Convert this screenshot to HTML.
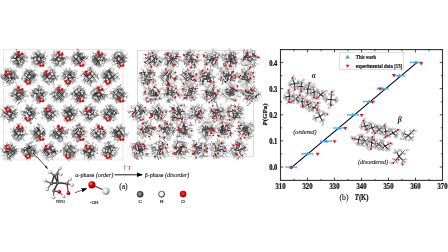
<!DOCTYPE html>
<html><head><meta charset="utf-8"><title>NPG phase transition</title>
<style>html,body{margin:0;padding:0;background:#fff;overflow:hidden}svg{display:block}</style>
</head><body>
<svg width="448" height="252" viewBox="0 0 448 252" font-family="Liberation Serif, serif">
<defs>
<radialGradient id="gC" cx="0.45" cy="0.45" r="0.6"><stop offset="0" stop-color="#b0b0b0"/><stop offset="0.5" stop-color="#606060"/><stop offset="1" stop-color="#141414"/></radialGradient>
<radialGradient id="gH2" cx="0.45" cy="0.42" r="0.6"><stop offset="0" stop-color="#ffffff"/><stop offset="0.55" stop-color="#f0f0f0"/><stop offset="0.8" stop-color="#9a9a9a"/><stop offset="1" stop-color="#303030"/></radialGradient>
<radialGradient id="gO2" cx="0.45" cy="0.42" r="0.6"><stop offset="0" stop-color="#ff3030"/><stop offset="0.6" stop-color="#e00000"/><stop offset="1" stop-color="#700000"/></radialGradient>
<radialGradient id="gH" cx="0.38" cy="0.38" r="0.68"><stop offset="0" stop-color="#ffffff"/><stop offset="0.5" stop-color="#dadada"/><stop offset="1" stop-color="#606060"/></radialGradient>
<radialGradient id="gO" cx="0.35" cy="0.35" r="0.7"><stop offset="0" stop-color="#ff8080"/><stop offset="0.4" stop-color="#e00000"/><stop offset="1" stop-color="#800000"/></radialGradient>
<marker id="ah" markerWidth="6" markerHeight="6" refX="5" refY="3" orient="auto" markerUnits="userSpaceOnUse"><path d="M0,0.8 L6,3 L0,5.2 Z" fill="#000"/></marker>
<marker id="ah2" markerWidth="4" markerHeight="4" refX="3.5" refY="2" orient="auto" markerUnits="userSpaceOnUse"><path d="M0,0.9 L4,2 L0,3.1 Z" fill="#111"/></marker>
</defs><rect width="448" height="252" fill="#fff"/><rect x="3.5" y="49.5" width="119.4" height="110.4" fill="none" stroke="#b0b0b0" stroke-width="0.6" stroke-dasharray="1 1"/>
<rect x="137.3" y="50.8" width="116.2" height="105.4" fill="none" stroke="#c0c0c0" stroke-width="0.6"/>
<path fill="#a8a8a8" d="M25.4 59.1L24.4 63.7L21.3 64.6L16.2 65.2L12.8 64.5L11.2 59.1L13 54.5L15.9 52L21.6 52.2L24.9 54.9ZM46 59.5L44.3 64.7L41.2 65.2L37.3 65.5L32.4 63.4L32.5 58.2L34 54.3L36.4 51.5L39.9 52.7L44.3 55.5ZM64.9 59.6L65.1 63.8L60.8 65.3L56.5 66.7L53.7 63.5L51.7 58.3L54 54L57.6 51.8L61.6 53L64.4 55.7ZM85.8 59.1L84.1 63.5L82 66.3L76 65.7L73.6 62.9L71.6 58.1L72.4 54.8L77.7 52.1L81.8 52.4L84.3 53.8ZM106.4 58.7L105.2 63.4L101.5 65.7L96.6 66.5L92.2 63.4L91.8 59.4L94.2 55.3L96.1 52.7L100.4 51.7L103.9 55.4ZM126.4 57.9L123.7 63.6L120.5 65L117.2 65.1L114.3 63.3L111.6 58.2L113.5 54.5L115.3 51.5L121 51L123.5 54.1ZM17.2 76.1L15.6 80.9L12.6 84.1L8.5 82.7L4.3 81.1L1.8 76.6L5.1 72.5L7.9 68.5L11.1 69.1L15.7 71.5ZM36.7 75.9L34.5 80.7L32.2 83.3L26.9 83.7L23.1 81.1L22.8 75.9L24 71.5L27.3 70.3L31.5 68.9L35 72.9ZM55.8 77.3L55.7 80L52 82.7L47.8 82.7L43.9 81.6L42 76.7L43.1 72.5L47.6 70.1L52.1 70.5L55.2 71.2ZM75.9 75.7L75.7 80.1L72.1 83.8L67.8 84.2L64.2 81.4L62 75.7L64.3 71.3L67.3 69.5L72.3 70.3L74.8 73.2ZM96.6 77.6L95.5 80.7L91.1 84.6L86.8 82.6L84.5 81.3L83.1 76.5L83.4 72.5L88.2 70L92.6 69.8L95.1 72.9ZM116.2 76.8L114.8 80.6L110.9 83.7L108 84.4L104 82.3L101.8 77.7L102.8 72.3L108 70.1L110.6 70.3L114.4 72.9ZM26 94.2L23.7 98.4L21.2 100.1L16.2 101.4L14 98.2L11 93.9L13.8 89.6L16 88.3L20.8 88.5L24.3 90.1ZM46.2 94.6L44.2 98.5L40.1 102.6L36 101.7L33 98.7L32.3 94.8L33.4 89.8L36.9 87.4L40.9 88L43.8 89.9ZM66.1 93.4L64 99.8L60.6 102.8L56.1 100.7L53.2 98.6L52.1 94.5L53.1 91.2L55.4 87.1L61.1 88.6L65.2 89.9ZM86.1 95.4L84.7 98L80.7 102.3L75.9 101.4L73.1 99.7L71.8 95.3L74 89.6L77.1 88L81.1 88L85.3 90.2ZM105.1 94.9L104 99.3L101.1 100.6L97.3 101.8L92.6 99.5L91.8 94.9L93.3 89.1L96.8 86.5L101.5 86.9L104 90.8ZM124.9 94L123.5 99.4L120.5 102.4L117.8 101.2L113.2 97.9L111.8 95.2L113.9 89.7L116.6 88L121.4 87.5L124.7 91ZM16.7 113.2L16.3 117.5L11.2 121.2L8.3 119.7L3 117.2L2.1 114.4L5.2 109.2L7.3 105.8L12.2 106.3L15.1 110.1ZM35.3 113.1L35.1 117.4L31.6 120.5L27.8 120.3L24 117.3L21.9 114L25 108.9L26.9 106.9L32.1 107.1L34.9 109.9ZM56.6 113.9L54.1 117.6L52.1 121L47.1 120.2L44.5 117.4L42.1 113L44 109.8L47 106L50.8 105.2L56.1 109.7ZM75.4 114.3L74.4 118.3L72.7 120.6L67.9 120.5L64.4 117.7L63.2 114L63.7 109.8L67.3 106.8L71.9 107.5L75.6 109.6ZM96.7 113.2L94.7 118L91 120.2L87.2 120.8L84.3 117.3L83.2 113.1L83.6 108.9L87.2 105.8L92.1 105.7L95.6 109.3ZM117.2 113.7L115 117.5L110.7 120.2L108.1 120.6L103.5 117.1L103.1 113.9L103.2 108.7L106.6 106.5L112.9 106.1L115.9 108.6ZM26.4 132.2L23.5 137L21.8 139.9L15.8 140.7L12.1 136.9L11.8 132.1L13.5 127.7L16.9 126.9L21.1 124.9L24.8 129.1ZM46.3 134.2L44.2 136.5L41.2 140.4L37.4 140.9L33.5 138.1L32.7 133.6L34 129.5L36.2 127.1L40.2 126.5L43.6 128ZM65.5 132.4L63.4 137.4L60.1 141.2L56.9 140.6L52.1 136.8L51.2 134L53.1 129.6L57.4 126.9L60.1 126.6L64.3 129.3ZM86.1 132.2L84.2 136.7L81.4 140.4L76.6 138.8L72.4 137.5L71.2 133.4L73.5 129.8L77.2 126.7L80.5 126L84.1 129ZM106.6 132.8L104.8 138L100.7 140.4L96.6 140L94.4 137.5L92 133.7L93.3 129.6L97.7 126.3L100.2 125.9L103.7 129.3ZM125.1 133.7L125.2 137.7L121.7 140L116.5 141.1L113.1 136.4L111.6 133.7L113.4 129.5L117.6 125.9L121.2 126.7L124.8 128.2ZM16.5 151.3L15.1 154.9L12.3 157.9L7.3 157.1L4.7 155L2.4 151.3L3.3 146.4L7.5 143.9L11.8 143.7L14.5 147.1ZM35.7 150.8L35.4 156.2L32.2 157.4L28 159.3L22.8 154.9L23.7 151L25 146.5L27 144.1L31.2 144.9L34.8 145.3ZM56 150.2L56.4 155.2L52.2 158.2L46.8 157.5L45 155.8L43.7 151.7L43.9 147.6L47.5 144L51.6 143.4L53.8 146.5ZM76.4 152L75.8 155.9L70.8 159L66.3 157.8L64.3 155.3L62.6 151.4L64 146.2L67.5 144.6L71.5 144.7L74.7 146.8ZM95.7 150.7L95.3 155.2L91.2 158.7L88 157.7L83.9 155.3L83.3 151.3L85.1 146.6L88 144.7L92 145.1L95.8 146.2ZM116.2 151.3L116.1 155.1L112.5 158L107.5 158.1L104.2 154.8L101.7 150.6L103.7 146.9L107.7 144.9L111.4 144.6L116.1 146.9Z"/>
<path fill="none" stroke="#909090" stroke-width="0.8" d="M24.4 58L27.2 56.5M21.6 63.5L21.7 67.7M16.9 64.1L16.2 67.3M14 60.8L10.6 61.8M13 59.7L10.4 61.1M14.1 56.4L10.7 57M15.4 55L14 52.5M17.8 53.7L15.9 50.3M19.5 54.3L17.6 50.3M41.7 62.8L43.2 66M33.9 61.7L30.9 63M59.5 65L61.1 66.6M55.7 63.9L55.3 66.7M61.4 54.6L62.8 51.4M75.7 63.1L74.7 66.1M73.7 57.6L70.9 56.8M76.8 54.4L77.7 50.7M84.3 56.9L86.6 57.1M104.8 59.6L107.1 59.1M101.9 63.4L103.7 65.8M99.7 64.8L102.2 67M98.3 63.8L98.8 67M93.6 60.9L90.1 61.1M94.4 56.1L92.1 53.5M96.3 54.6L92.7 52.6M99.7 53.4L99.1 50M119.5 64.4L121.1 67M116 63.9L112.5 65.2M123.9 56.3L126.6 54.4M14.9 78.3L18.6 78.1M3.8 78.4L0.8 78.2M3.8 76L0.3 76.1M4.2 74.9L0.9 74.7M6 71.8L5.8 68.4M8.5 71.4L7.5 68.1M27.5 81.8L27.4 85.3M26.3 80.8L23.5 82.6M32.3 72.3L35.1 69.7M34.2 74.2L38 74.7M54.7 78L57.4 78.3M53.4 81L53.7 84.6M45 78.3L41.4 80.9M44.5 75L41.3 73M46.8 72.7L43.1 70.2M74 79.2L75.7 81.6M67.9 82.2L64.6 84.2M64.1 75.8L61.5 76.7M65.4 73.5L63.7 69.5M67.9 71.4L65.2 69M75 74.2L77 71.3M93.5 79.3L96.6 81.6M85 80.4L84.3 83.8M84.7 73.5L82.6 71.3M86 72.8L84.1 70.5M91.2 70.8L92.3 68.3M93.8 74L95.8 71.2M112.9 80.6L116.9 82M110.3 81.5L109.6 85M108.5 81.6L108.6 85.3M105.4 80.1L103 82.9M104.6 77.8L101.4 77.6M111.4 71.7L114.3 70.1M114.4 73.9L118 73.1M19.8 89.6L17.8 85.3M44.1 96.5L46.2 99.2M34 95.8L30.4 95.1M37.9 89L39.4 86.1M42.3 91.3L44.7 88.9M62.1 98.4L63.2 101.2M54.9 98.3L53.9 100.9M53.5 94.1L49.6 93.8M54.3 91.7L50.9 92.2M59.1 89.5L60.8 85.5M62.1 90.5L65.6 89.3M79.3 100L79.8 102.9M72.9 93.6L70.6 93M83.7 91.8L85 89.3M104.5 94.7L107.7 94.5M100.4 100.3L99.9 102.5M98.3 99.5L98.5 102.6M94.6 97.1L91.1 98.5M93.7 94.7L90.3 94.7M100.1 89L102.5 86.7M101.6 90.1L100.9 86.8M115.4 97.7L111.5 99.6M113.6 93.8L110.6 95.2M114.2 92.2L110.2 91.4M115.1 89.8L113.3 88.6M121.2 90.4L123.7 87.5M123.4 92.8L127.3 92.4M13.9 115.7L16.6 117.1M6.7 109.1L3.3 106.6M10.9 108.1L12 105.7M35.1 113L38.5 113M33.4 116.1L36.1 119.2M31 118.1L30.3 121.8M54.7 113.8L58.3 111.4M43.6 114.3L41.5 113M44.9 110.6L43.3 107.8M51.8 109.4L52.7 105.7M73.3 118.2L74.2 120.9M64.3 114.1L61.1 113.2M66 109.3L63.9 106.4M68.5 108L65.6 105.4M70 108.7L71.5 105.1M90.1 118.9L88.8 121.4M86.2 118.1L83.7 120M84 115.3L81.2 114.9M84.7 113.8L80.8 115.2M84.9 111.8L81.9 110.8M88.2 108.1L89.2 105.1M93.9 110.7L95.5 106.5M114.2 113.2L117.8 112.2M106.5 117.7L103.3 118.8M105 115.1L102.3 118.1M103.8 111.5L101 110.4M109.9 107.6L111.9 104.8M114 111.5L115.6 108.2M13.4 131.6L10.3 132.3M16.3 128.8L14.3 126.4M22.7 130.4L25.6 127.2M33.3 131.4L30 131M40 127.8L41.4 125.3M55.8 137.5L52.6 138.2M53.8 134.6L51.5 136.7M57.3 127.8L57.3 125M83.9 132.4L87.2 131.4M77.3 138.3L76.5 141.7M93.5 133.7L90.3 132.5M101.4 128.8L103.1 126.1M123.8 133.5L127.6 134M115.9 137.3L113.9 140.5M114 130.1L110.7 128.5M123.8 130.7L125 127.6M15.4 150.7L18.4 149M14.4 153.7L17.3 153M10 156.6L10.2 160.2M8.8 156.4L10.6 160.2M4.7 153.2L2.3 155.5M4.5 150.6L0.9 148.7M5.4 146.8L3.8 144.9M33.5 153.5L36.5 156.9M32 155.7L35.8 157.5M28.2 156.2L27.3 159.7M29.2 146.3L27.7 142.8M54.3 150.1L58.7 151.9M51.5 156.2L51.7 159.1M46 154.9L42.5 155.9M46.5 146.4L44.1 144.2M48.7 145.1L50.6 142.3M70.8 156.2L72 158.9M68.8 155.8L67.9 160.1M63.6 152L61.1 150.9M65.3 148.2L62.2 146.6M67.5 146.4L64.2 144.1M73.3 146.7L76.4 145.8M74.1 148.2L76.2 145.6M94.1 153.6L98 153.3M83.9 153.2L81.3 154.4M83.5 150.4L80.5 148.5M84.6 149.6L81.5 150.2M91.9 145.6L93 142.7M114.5 150.6L118.1 152.8M108.5 156.5L106.2 158.9M104.5 150.1L101.3 150.1M113.6 148L117.5 148.1"/>
<path fill="none" stroke="#a4a4a4" stroke-width="0.8" d="M23.9 60.9L27.6 61.6M19.9 63.9L19.3 67.8M21.6 54.8L25.6 53.3M44.3 58.7L47.1 55.9M43.2 60.9L46.3 63.6M37.2 63.8L35.2 67.1M34 58.6L30.9 56.2M38 53.4L38.8 50.3M39.4 54.3L39.8 51M61 63.1L61.7 67.8M56.6 64.4L54.1 66.4M53.2 59.8L49.9 60.3M54.2 57.3L51.6 55.6M55.4 54.1L54.1 51.3M60.5 54L60.3 50.9M84 61L85.4 63.7M79.9 64.5L81.2 66.9M73.5 58.9L69.6 58.6M75.9 55.2L73.9 52.1M82.3 54.9L83 52M103.7 62.3L107.6 61.9M95.9 62.8L92.3 65.5M93.3 58.6L91.1 57.2M102.9 56.4L106.2 55M114 61.3L110.9 63.3M113.7 59L110.3 59.6M114.2 56L110.9 56.2M118.4 54.1L117.6 51M121.4 54.2L120.6 51M14.5 76.6L18.5 76.2M10.1 81.5L10.5 85.5M8.5 81.6L9.2 85.1M9.7 70.6L10.4 68.2M35.3 78.1L36.5 80.7M32.8 80L34.7 84.1M31.1 82L32.6 84.3M24 78L21.3 80.7M25.4 73.5L22.1 71.7M26.6 72L25.6 69.5M50.7 81.9L52.7 85M74.2 77.2L78 78.5M66.3 81.2L66 84.6M69.9 71.4L69.2 67.4M95 76L97.8 74.1M91.4 81.1L90.9 84.6M85.1 79.2L82.8 80.7M88.9 71.6L88.2 68.6M114.9 76.9L117.4 79.2M114 79.3L115.4 82.2M104 74.8L101.7 72.1M107.5 71.9L104.3 69.3M113 72.4L113.7 68.9M24.1 94L27.9 95.9M23.8 96.5L27.4 96.6M22.5 98.6L25.4 101M19.8 99.8L19.3 103.8M18.2 99.1L15.9 102.1M16.3 98.4L12.8 100M15.6 90.8L13.8 88.3M23.7 92.7L27 91.4M42 98.4L44.9 100.6M39.4 99.1L37.8 102.6M37.8 99.8L39.4 103.5M34.2 93.8L30.4 94.7M44.3 93L47.4 92M64.4 94.8L67.4 94.4M63 96.9L67.5 96.7M54.7 97.1L51 97.8M55.1 89.7L53.9 86.8M84.4 93.9L87.8 95.4M82.7 97.8L83.9 101.8M73.7 92.9L70.5 92.8M75.3 91.3L73.8 87.6M77.2 89.5L77.2 86.2M81.1 89L83.7 88.1M81.3 90.5L83.9 87.5M102.9 98.5L104.7 99.8M124.6 94.8L127.4 92.9M121.9 98.2L125.5 100.8M118.7 99.3L117.7 103.6M117 88.7L117.3 86.4M10.3 119.2L10.6 121.8M5.9 116.8L3.5 119.8M3.7 114.5L0.8 116.5M14 110.9L17.6 109.5M33.1 117.4L36.7 118.6M28.6 118.3L26 120.6M24.8 113.4L21.7 111M24 111L20.6 112.2M28.3 108.6L26.4 104.8M30.5 107.9L32.1 104.9M32.3 109.6L35.7 108M35 111.8L38 113.3M52.4 117.2L53.9 121.3M49.8 119.1L48 121.9M48.4 118.5L47.4 121.3M46.5 109.2L43.6 108M75.2 112.4L77.7 110.1M73.5 116.3L75.2 120.8M72.8 109L74.1 106.8M95.5 113.2L98 110.7M91.9 117.8L91.3 121.4M91.5 108L94.9 106.1M112.9 117L114.5 119.7M108.6 118.1L109.9 122.2M104.2 113.5L101.3 115.7M106.7 108.4L105.4 106M107.9 108.6L106 106.1M24.6 133.4L27 134.4M22.5 137.8L23.9 140.4M17.7 138.1L15.9 140.7M13.6 132L10.6 129.1M17 128.7L17.4 123.8M20.2 128.3L20.3 124.6M43.5 132.7L46.6 130.8M41.4 136.9L43.2 140.6M39.6 138L38.9 141.2M35.5 137.2L33.8 140.2M34.2 136.1L31.6 138.6M33.9 133.3L30.6 132.9M38.1 128.3L39.9 124.9M42.9 130.4L45.7 129.1M64 132.2L66.5 130.5M61.2 137.6L63 141.3M61 137.9L60.2 142.2M57.2 137.6L56.1 140.6M53.6 131.7L51 131.1M59.7 128.1L58.5 124.9M62.1 128.6L65.5 127.2M83.7 136.3L86.5 136.8M80.8 138.4L83.3 140.6M73.4 135.6L71.9 138.2M74.9 129.7L72.8 126.9M104.1 133.9L106.7 133.8M103.6 134.7L106.2 137.2M102.5 136.2L104.2 139.1M95.2 136.8L93.1 138.7M95.5 129.3L92.4 126.7M124.2 135.5L126.6 135.5M113.3 134.1L110.9 132.7M120.5 127.9L121.5 124.2M121.2 128.7L121.4 124.1M12.7 155.7L14.5 158.8M4.6 147.5L4.2 145.1M8.4 146.4L7.3 143.1M12.8 146.1L12 142.9M30.5 156.8L29.9 160.1M25.6 153.9L21.8 154.2M24.2 150.2L20.6 151.3M25.4 148.7L21.5 149M26.2 146.4L25.9 142.8M32.8 146.9L36.2 145.1M52.2 155L52.7 159.7M47.5 156L44.2 157.9M45 152.6L41 153.4M44.1 149.2L42.3 146.7M74.3 150.6L77.8 152.4M72.9 154.2L74 158M64.6 153.3L62.6 155.4M65.4 146.8L65.3 143M71.8 145.7L70.8 143.1M90 156.5L90.3 158.9M87 146.6L85.3 143.8M114.7 154.1L116.9 154.6M113.7 155.1L115.2 157.3M104.6 147.9L101.7 147.3M107.9 145.6L104.5 143.3"/>
<path fill="none" stroke="#b6b6b6" stroke-width="0.8" d="M14.8 63.4L10.9 63.6M24.5 57.5L26.9 56.6M39.9 63.9L39.6 67.6M34.9 62.4L32.2 64.6M34.9 56.2L32.7 53.3M35.4 55.4L34.1 51.8M42.4 55.3L44.3 52.7M43.1 55.9L45.1 52.1M63.9 58L67.2 59.1M62.7 61.5L65.5 63.5M53.9 62.6L51.6 62.7M57.9 54L55.8 51.6M64.1 57.5L66.5 57.2M84.5 58.6L87.1 56.4M82.3 63.7L85.1 64.2M77.2 63.8L75.5 66.2M74.6 61.3L71.7 63.9M79.2 53.8L78.7 50.9M97.1 53.5L98.4 50.8M101.8 54.9L105.5 53.7M123.9 59.7L127.5 57.9M123.2 61.7L126.9 61.5M122.2 63.9L121.5 67M117.5 64.1L114.6 66.7M115.1 55.2L112.4 54.2M119.7 54.4L123.1 50.9M12.1 80.7L16.3 82.9M6.2 81.6L3 82.6M12.1 72L15.4 70M13.8 73.7L16.4 71.1M34.3 76.6L38.2 76.4M23.8 75.5L21.2 76.4M28.4 71.3L25.7 69.2M29.8 70.6L30.4 67.9M55.5 76.6L57.3 75.4M49.3 81.3L48.6 85M45.8 80L42.8 80.8M44.4 76.9L40.9 75.6M48.8 71.5L48.7 67.6M50.4 71.8L53.1 68.8M53.2 73L54.5 70.2M54.2 73L54.8 69.8M73.2 80.3L75.1 82.7M71.3 81L74.5 82.7M64 78.7L61 78.8M66.7 72.2L66.4 68.5M73.7 72.6L74.7 70.5M93.3 80.3L96.3 82M87.8 82.3L89.2 84.6M84.1 76.2L80.3 76.2M92.8 72.1L93 69M104.7 76.9L101.6 76.3M105.3 72.2L102.7 70.9M13.9 96.2L10.3 95.6M13.8 94.5L10.1 96.1M13.5 92.8L10 92.8M18.6 88.9L16.4 86.6M22 89.7L21.4 85.7M44.6 93.9L46.8 91.7M35.1 98L32.8 101.5M33.9 92.7L30.3 92.5M36.1 89.2L33.6 88.5M40.3 90L42.5 86.7M60.5 98.8L63.4 101.1M58 99.2L56.2 102.9M58.6 89.2L58.6 86.6M63 91.5L67 90.2M83.1 97.5L87.4 97.7M77.1 98.9L74.2 102M75.5 98L75 101.6M74.3 96.8L71.4 99.2M103.3 96L107.5 96.9M95.4 98.5L94 101.8M93.6 91.5L90.5 91.4M94.9 89.9L93.6 88.1M97.3 89.2L96.9 85.9M103.5 91.8L105.8 89M124.6 96L127.3 97.6M120.5 99.7L119.1 102.8M114.3 97.9L110.4 98.3M121 89.5L120.6 85.5M14.9 112.8L17.4 114.6M12 118.1L12.7 120.8M8.6 119.1L9.1 122.6M4.9 115.7L2.3 117.6M4.9 110.9L1.4 109.4M7.4 108.4L5.6 106.6M12.8 109.4L14.1 106.3M26.4 118.6L23.3 120.2M25 115.4L22 118.3M27 109.3L27.3 105.5M53.8 115.6L57.2 116.3M45 117.4L42 118.6M44.5 116.4L41.7 117.7M47.3 108.1L48.1 105M49.9 108.8L52.3 105.4M54.8 111.9L58 109.8M70 118.6L70.4 122M68.4 118L65.2 120.9M65 117.4L63.6 119.8M65.4 116.5L62 116.4M64.7 112.1L61.7 109.6M73.6 111.1L77.5 109.1M93.9 115.3L98.6 114.9M87.3 118.9L85.9 121M86.6 109.7L85.5 106.4M92.2 109.5L96 107.3M114.2 116.4L116.2 119.5M110.8 119L109.6 121.6M113 109.8L114.2 106.9M24.2 134.6L27.3 133.8M20.5 138.5L19.4 141.3M15.4 136.4L13.9 139.2M13.4 134.9L11 136M21.9 128.1L22.1 125.4M43.1 135.4L44.8 139.2M37.8 138.3L39.3 140.9M34.7 129.1L34 126.3M41.6 128.8L43.6 125.8M63.7 135.7L66.7 137.2M54 133.5L50.4 135.5M54.9 129.3L53 125.7M63.5 131.2L66.3 129.8M83.1 136.7L84.5 138.7M76.4 137L73.8 140.5M74 132.2L70.5 130.7M74.2 131.1L70.5 129.4M76.9 128.1L77.7 124M80.5 128.2L83.7 126.2M82 127.9L84.9 127.5M82.6 130.1L84.5 127.1M100.6 137.8L100.7 141.9M98.1 137.8L99 141.6M94 135.2L92 137.4M94.6 130.8L91.1 128.8M97.6 127.3L98.1 124M100.4 128.2L101.7 125M103.4 130.7L106.8 129.1M122.3 136.7L123.6 140.9M119 138.9L117.1 140.9M117 138.2L118 142.2M114.3 136.4L111.3 136.7M114.7 129.2L111.8 127.4M117.4 127.8L117.1 124.6M5.6 155L5 158.3M11.4 146.4L10.4 142.1M14.2 149.5L17.8 150.4M35 151.3L38.1 151.4M27.1 155L25.4 158.6M30.8 145.3L31.7 142.3M34.5 149.7L37.6 147.6M54.3 153.2L57.7 153.3M44.4 150.1L40.7 150.4M50.3 145.9L50.9 142.9M52.2 145.8L53.5 142.9M54.9 148.7L56.4 146.8M74.7 152.9L77.5 154.7M67.2 155.1L67.5 159.6M95.4 151.4L98 152.6M92.2 155.4L94.7 158.2M88 155.6L88.3 159.8M85.5 155.3L84.5 158.8M87.3 145.9L87.8 142.2M93.2 146.3L96.3 145.4M94.3 147.4L96 145.4M111.4 155.4L114.3 157.8M106.5 155.6L103.7 156.7M104.3 154.1L101.8 155.6M106.5 147.3L105 143.1M111.6 146.4L114.4 144.3M111.8 146.8L114.8 144.8"/>
<path fill="none" stroke="#a0a0a0" stroke-width="1" d="M20.4 62.6L22.1 65.2M19.1 65L16.7 68.1M26.6 55.3L24.5 57.1M27.5 57.3L24.1 56.1M24.1 60.6L22.1 64.6M38.7 64L41.7 66.2M37 62.3L34.5 65.5M45.1 58.9L47.9 61M40.1 53.4L43.6 56.1M36.5 50.1L39.7 52.6M45.2 57.8L47.5 59.6M42.1 63.2L41.5 65.7M53 53.4L55.9 55.5M64.3 61.2L64.4 63.7M65.5 55.7L69.3 58.5M65.4 60.4L63.1 64M63.9 54.6L61.9 57.4M53.5 52.6L56.3 54.7M86 56.2L82.6 59M84.4 56.1L80.3 53.9M86.4 57.6L88.6 59.6M73.6 60.3L70.9 60M73.9 59L71.1 62.2M94.8 55.1L92.1 57.1M106.4 54.3L102.2 56.6M100.7 66.2L97.8 63.8M101.7 51.4L101.4 54.6M108.7 57.8L110.8 59.9M112.3 55.2L114.6 57.3M119.3 64.7L117.1 67M113.1 60.4L109.4 60.7M117.2 62L114.3 65M123.1 60.3L125.1 62.3M3.5 76.3L2.1 80M16.2 75.9L16.2 79.9M11.9 69.4L13.8 71.4M7.3 69.8L9.2 71.8M15.9 73.4L13.6 75.6M9.9 82.8L6.5 86.1M29.5 68.3L27.3 70.8M23.2 76.6L21.1 78.9M32.2 77.8L35.6 80.8M34.4 72.6L36.9 74.8M33.5 76.8L36.5 79.4M29.2 67.8L31.3 69.6M49.6 65.9L52 69.7M54.7 69.1L51.1 71.9M46.2 70.9L48.1 73.3M45.8 79.2L44.3 81.3M47.8 80.6L44.6 83M50.7 83.5L48.4 85.3M53.5 68.9L50.3 71.4M56.5 72.3L53.3 73.8M68.4 83.9L65.3 81.2M63 79L65.1 81.4M64 73.4L62.8 77.4M65.7 77.4L63.5 79.3M69.7 69.1L67.5 71M72.8 78L75 80.5M76.9 75.6L75 77.3M70.8 81.9L72.8 84.1M60.1 74.6L62.5 77.3M66.1 71.4L64.6 74.8M68.1 82.4L69.8 84.2M90.5 67.3L89.9 71.5M85.6 80.3L88.2 82.8M96.8 75.7L98.1 79.1M89 83.9L91.3 86.1M86.1 78.8L83.7 81.1M108.6 84L105.4 85.2M112.2 84.5L109.9 82.5M112 67.4L109.9 68.8M105.7 75.1L103.6 72.8M120.2 79.5L116.5 77M102 74.8L104.2 78M112.5 79.1L111.6 82.3M16.5 84.8L18.6 86.6M16.5 86.6L19.6 89.2M25.9 90.5L24 92.9M17.3 99.6L15.7 101.6M8.5 94.2L11.4 96.5M17.8 87.8L16.2 89.7M15.7 88.9L12.7 92.6M43.1 89.6L40.7 89.1M48.2 92.4L44.7 95.6M38.6 85.4L39.8 88.1M45.6 92.6L42.7 93.7M31.8 91L34.1 93.5M30.8 94.6L33.7 97.8M54.2 96.9L55.9 98.8M65.1 94.9L67.6 97.6M61.1 87L58.6 88M52.2 92.6L49.3 95.2M54.5 89.2L51.7 92.9M66.3 93L64 95.1M67 92.7L66.9 97M63.2 96.8L62.3 100.9M58.8 85.1L60.9 87.5M77.3 100.8L74.4 101.8M83.5 98.3L81.3 100M78.7 102.1L76 102.3M82.2 86.1L79.1 87.4M81 100.8L77.4 99.8M83.9 88.2L80.9 90.5M72.1 93L69 95.4M75.6 99.4L77.2 102.5M85.3 91.5L83.5 93.5M70.8 92.8L73.2 95.9M96.6 100.6L98.4 103.6M99.9 86.6L96.2 88.8M105.6 92L102.7 93.8M102.2 98.5L98.2 101M97.3 88.4L94 90.4M94.7 96.4L93.2 100.5M92.1 89.2L94.5 93.1M121 87.7L123.9 91.2M117.9 99.2L115.5 101.2M116.6 88.7L115.2 92M114.5 96.6L111.4 98.1M125.2 91.7L124.6 94.2M116.7 97.4L114.8 98.9M116.6 96.8L115.2 99.9M115 87.8L114.5 90.5M111.7 92.5L108.7 95M128.3 95.7L124.3 97.2M11.9 105.4L10.3 107.9M4.3 116.2L1.2 115.4M4.4 110.3L2 113.9M7.7 104.8L6.4 106.8M3.1 113.2L0.6 117.1M6.9 117.6L9.7 119.4M17.3 109.5L14.8 112.1M23.7 112.1L21 115M30.1 106L33 108.7M36.9 111.2L39.8 113.9M36.4 114.1L34.7 116M21.4 110.4L23.6 112.4M36.1 108.3L33.4 111.3M50 106.8L46.3 108.8M52.9 110L56.2 113M55.6 113.8L53.8 115.9M48.3 119.7L46.6 121.5M47.8 119L49.9 121M41.8 114.2L44.6 116.8M47.5 107L47.5 109.7M47.2 118.2L48.1 120.8M50 120.2L47.7 122.7M52 116.4L52.1 120.7M47.9 103.6L50.9 106.3M55.4 113.2L58.2 115.8M47.7 117.1L45.9 119.1M42.1 115L44.2 116.9M77.2 111.8L74.3 113.2M69.3 117.7L71 120.5M72 104.7L68.1 107.1M70.3 118.2L72.5 121.9M75 117.2L72.6 118.7M75.1 117.2L72.3 118.9M61.9 109.1L64.1 112.8M62.7 109.3L64.8 112.7M65.7 107.6L67.5 110.5M66.9 107L68.3 109.7M78 117.3L75.2 115.2M70.8 105.1L73 108.8M70.8 119.6L66.9 122M97.4 114L95.2 116.2M86.5 117.8L88.2 119.9M95.4 112.7L98.2 116.1M89.6 119.7L87.7 121.3M86.7 107.3L88.9 110M93.4 118.8L89.8 121.7M87.9 107.7L85.8 109.5M86.6 118.8L89 121.7M96.6 114.5L94.7 116M86 105.7L88.3 108.5M116.3 112.8L113.4 116.5M117 112.4L119.1 114.1M106.8 106.9L104.5 109.7M105.2 116.7L106.6 119.6M114.2 117.8L112 120.7M111.9 105.1L110 107.6M106.1 105.8L108.1 107.4M20 123.2L17.3 125.7M15.1 132.8L11.8 135.9M17.8 138L16.7 140.2M35 136.8L32 136.1M30.9 129.4L33.9 132.7M39.5 125.2L42.2 128.1M37 137.2L34.9 139.2M62.1 139.2L59.3 141.7M51.8 133.2L49.1 137.1M61.4 128.5L64.9 130.8M49.9 133.4L51.3 136.8M60.2 139L58.1 142.3M58.3 138.3L61.7 140.6M50.6 130.5L54.3 133M79.4 124.6L76.1 125.7M72.3 133.5L74.1 135.4M73.9 127.6L76.5 130.5M79.9 124.2L80.3 128.2M74.3 132.7L73.2 136.7M78 126.4L75.4 126.2M99.2 124.7L95.4 125.7M99.5 125.1L97 127.6M104.7 129.5L106.9 131.6M94 130.3L91.6 132.8M96.2 123L99.6 126.3M105.4 129.8L103.7 131.5M91.3 132.8L90.7 135.3M127.9 135.7L124.8 133.1M124.3 127L121.6 128.9M121.6 127L117 126.5M121.2 126.6L123.6 130.1M121.9 136.7L119.8 138.1M119.9 138.3L117 140.3M8.1 145.3L4.9 148.2M13.2 151.6L15.8 154.4M6.9 153.1L3.7 156.1M14.4 143.6L11.4 146.4M4 149.6L1.2 152.2M17.6 150.2L14.7 152.8M37.2 154L33.6 152.3M20.9 148.1L23.3 151.7M47.8 143.2L49.4 145.2M48.1 145.2L44.7 147.7M57.6 153.2L53.8 156.1M47 155L46.4 159.2M48.8 157.2L45.6 159.6M49.2 154.8L52 158.5M45.3 147.4L43.4 148.9M58.3 149.8L56.4 151.6M63.4 152.2L63.4 155.8M61.5 149.6L61.1 152.3M68.3 144.2L67.1 147.2M74.8 154.4L72.8 156.5M65.4 154.9L67.9 157.5M86.3 141.2L89.9 143.7M84.3 148.1L82.9 150.5M90.7 155.4L88.6 159M98.1 147.6L96.9 150.9M92.8 155.7L90.3 159.7M94.6 145.7L91.9 149.1M88.8 143.1L85.2 141.1M85.3 144L88.7 146M80.3 150.1L83.2 151.8M102.8 151L100.7 154.4M117.7 147.6L115.4 148.2M110.3 155.5L108.1 159M107.1 144.2L104.8 147.8M104.4 155.7L107.2 157.4M109.9 142.6L108.5 144.7"/>
<path fill="none" stroke="#8a8a8a" stroke-width="1" d="M25.1 60.4L22.8 63.4M18.4 64L13.8 63M18.3 65.4L21.2 67.6M24.2 55.8L27.1 58M15.9 49.2L19.4 51.9M25.2 55L23.5 57.1M25.3 60.2L23.6 62.3M23.7 65.4L19.5 64.6M18.3 50.6L20.3 52.1M12.6 56.9L10.7 59.2M27.1 56.5L26.9 59.3M40 62.7L43.3 65.3M35.3 52.7L37.5 54.4M42.8 53.7L44.8 55.2M37.4 50.7L35.8 52.8M36.5 60.9L33.6 64.7M53.3 58L51.7 60.2M58 52.3L60.7 54.3M65.3 61.7L61.7 60.9M61.2 62.2L63.1 63.6M63.2 55.4L59.4 52.9M65.2 57.4L65 60.7M55.6 56.2L52.1 55.1M71.9 60L74 61.9M79.3 51.6L80.9 53.9M73.9 56.1L72.2 57.9M74 59.4L71.8 61.9M97.2 49.7L99.3 52.5M93 56.2L90.8 57.9M98.2 51L100.2 53.7M93.1 61.4L94.9 64.2M106.7 58.5L109.1 61.6M100.2 63L100.5 65.4M116.8 54.7L114.2 53.9M10.4 81.5L7.5 84.3M6 72.9L3.2 75.6M5.9 82.2L8.8 85.2M5.9 77L3.3 79.5M26.4 74.6L24.2 73.2M30 80.1L33 82.7M22.6 72.1L25.3 74.5M26.2 82L28.5 84M42.5 76.4L45.2 79.8M52.1 71.7L54.8 75.1M51.7 69L49.3 70.9M75.2 79.3L73.1 81.2M69.7 82.4L67.4 84.5M72 70.5L74.5 73.2M68.2 69.8L65.9 71.8M85.6 77.9L82.2 81M84.7 72.4L81.6 75.5M98.4 74.6L95.3 77.7M91.7 67.1L89.1 69.8M88.6 67.1L91.7 70.2M96.4 73.6L93.9 76M107.7 78.9L103.8 81.6M110.8 68.1L108.3 69.8M114.6 79.4L112.2 81.1M107.9 70.7L105.5 72.3M13.3 92.1L10.8 94.6M18.2 99.1L19.6 102.7M21 88.5L18.4 88.5M14 94.8L11.7 97.5M16.7 85.9L20.3 88.9M20 98.5L22.4 102.2M20.1 86.8L17.8 89.6M38.9 84.6L40.4 87.3M30 93.1L32 95.3M39.9 102.7L36.4 103.2M43.6 96.9L40.6 99.6M39.7 101.1L37.7 102.9M58.3 84.4L60.4 86.7M56.3 97.2L53.8 99.5M57.5 99.6L54.4 101.3M62.6 98.7L60 101M61.1 102.3L57.6 99M62 89.3L59 88.6M53.6 92.9L50 95M68 92.9L64.6 96M83.1 96.9L84.8 99.1M84.3 97.9L81.5 100.1M83.3 96.1L85.9 99.4M75.2 90.2L73.7 92.2M84.4 96.4L86.2 98.7M80.4 87.6L82.8 90.7M105.5 94.7L107.7 98.3M93.3 91.3L90.2 93.2M104.5 94.4L104.5 99.2M94.1 95.5L91.3 97.2M103.5 99.2L100 98.3M103.2 88.1L101.9 92.5M96.6 97L93.4 98.9M115.4 96.8L112.3 99.4M125.1 95.9L127 98.1M121.7 100L118.4 102.2M113.1 93.6L110.4 92.9M125.6 94.9L123.4 96.9M11.7 118.3L13.2 122M13.8 117.9L11.9 120.8M9.3 106.3L13.2 108.9M6.5 109.5L4 113.4M6 106.6L4.3 109.3M3 110L5.7 111.8M36.4 108L33.5 111.2M29.3 120.8L31.9 123.2M28.2 119.3L31.3 122.1M28.1 118.2L26 120.5M29.9 119.8L30.8 123.4M20.7 111.3L23 113.4M44.3 114.8L41.7 117.6M47.5 109.7L44.5 108.5M54.3 114.4L57.4 117.3M50.5 103.8L47.3 107.3M53.9 109.8L57.1 112.7M72.9 119.2L69.3 119M71.1 116.3L73.1 119.7M77.7 111.5L73.5 113.2M75.4 109.7L72.7 111.3M67.7 119.4L64.6 121.2M76.9 112.7L74.4 114.2M63.8 111.2L61.5 112.6M92 103.7L88.8 104.9M95.5 111.1L92.5 107.9M110.4 106.1L113.6 108.6M110.7 118.3L114.4 121.2M109.7 106.1L111.6 107.6M110.7 104.3L108.8 106.6M110.4 118.6L107.6 119.9M25.5 132.7L27.4 134.8M18.1 137.3L13.5 138.3M21.7 126.6L24 129.1M12.6 130.5L10.9 132.1M18.1 123.9L20.3 126.3M37 136.5L33.7 139.6M39.3 138.8L35.8 142M35 134.4L35.6 138.2M34.5 128.2L36.2 130.7M38.7 125.7L40.4 127.5M52 134L49.5 135.4M66.9 129.4L65 132.3M61.9 140.6L59.8 142.7M66.7 133L65.1 135.3M82.3 126.9L81.2 130.6M75.9 139.7L77.6 141.6M83 138.5L79.4 140.9M79.6 122.9L78.6 125.8M73.8 133.5L71.9 135.1M80.5 123L78.1 125.1M71.5 133.3L74.2 136.3M102.8 127.5L100.5 129.9M97.3 136.1L94.7 138.8M96.2 137.6L98.8 140.3M115.6 133.8L111.9 136.4M115.1 135.4L112.2 133.9M114.3 132.8L111.5 134.7M124.4 126.9L120.8 129.4M6 143.8L9 147M18.6 151.4L13.9 151.6M10.5 156.3L7.1 159.4M32.5 154.8L29.1 157.1M31.7 141.5L28.6 143.6M26.1 151L22.3 153.6M30.4 142.9L28.5 146.6M33.2 141.6L30.3 143.5M39.6 150.9L36 153.4M33.3 145.5L35.3 148.4M57.6 151.3L54.1 149.2M52.2 141.6L49.9 142.6M45.7 147.5L42 150.4M44.6 153.5L46.4 155.8M45.1 153.9L47.1 156.5M69.5 141.9L66.4 144.9M69.6 157.7L65.2 156.7M75.4 147.7L78.6 151M74.1 155.1L72.4 158M71.7 145.3L74.5 148.1M74.5 154L72.4 156.1M79.3 148.9L77 153.1M67.3 142.9L69.5 145.2M89.4 157.9L91.5 159.2M94.4 153.8L94.6 156.7M92.2 146.3L95.4 148.2M112 159.4L107.9 158.5M105.7 148.1L103.7 151.2M112.3 145.6L115.7 147.8M103.5 145.3L107 147.5M104.9 147.4L102.6 151M113.1 144.7L111 145.9"/>
<path fill="none" stroke="#b4b4b4" stroke-width="1" d="M14.3 54.8L11.9 58.7M24.4 54.9L26 56.8M35 59.9L32.1 63.7M29.9 57.9L33.2 60.4M42.3 63.2L40.2 66M39 65L37.2 67.5M33.8 53.5L36.3 55.4M45.3 58.7L42.7 62.1M66.8 57.6L64.9 60.2M59.5 50.1L59.3 53.4M60.6 66.4L58.3 65.2M52.1 54.8L55.4 57.3M55 56.3L51.8 55M52.5 59L50.9 61.2M61.2 63.4L64.2 65.7M67.2 56.9L64.8 59.6M72.8 56.8L71.5 60M80.4 53.7L82.6 55.7M79.3 64L82.5 66.8M101.5 64.2L98.8 66.2M99.5 50.8L95.8 53.6M91.7 58.1L93.3 60.3M96.3 51.9L97.4 55.4M100.2 65.6L97.7 67.4M104.1 57.4L106.4 60.4M91.7 58.2L94 61.3M125.7 55.3L121.9 57.9M121.5 54.9L123.7 57.1M121 53.4L123.3 55.6M124.7 62.5L122.5 64.8M126.2 55.2L124.4 57.1M6 80.7L8.3 83M4.1 71.9L6 73.8M12.9 82.9L9.2 85M6.2 80.1L8 81.9M0.4 73.2L3.6 76.5M18.6 76.2L16 79M2.9 74.3L0.6 76.6M31.6 69.7L34.5 72.6M32.4 78.6L35.5 81.3M32.3 79L34.4 80.9M26 81.9L29.1 84.6M49.2 67.8L51.9 71.4M59.2 75.6L55.9 78.1M54.9 77.9L57.5 81.2M49.4 82L49.3 84.6M70.9 81.9L68.7 83.8M73.5 80.1L70.2 83.1M66.7 70L69.1 72.8M71 68.5L68.7 70.5M74.2 78.1L73.5 81M77.4 73.8L73.5 76.4M88.9 82.2L86.8 84.4M81.9 73.4L85.2 76.7M81.2 74.1L84.3 77.2M86.8 67.7L89 70.7M82.3 73.1L84.7 75.6M96.7 76.6L93.6 79.6M95.2 74.8L98.1 77.7M88.6 80.8L85.7 83.6M108.3 69.6L105.9 71.3M112.5 68.5L110.2 70.1M100.5 73.5L102.5 76.4M105.3 77.4L101.6 79.9M111.4 80.3L113.2 82.9M103.7 72.6L100 75.2M113.5 77.7L115.1 81M116.5 75.4L118.8 78.7M106.9 83.8L109.3 87.2M16.4 85L19.1 87.3M12.3 89.6L14.6 91.5M12.8 97.8L14.9 99.6M17.9 99L15.6 101.7M15.5 98.9L17.5 100.6M16.3 98L13.3 101.7M37.3 84.8L39.4 89M39.1 101.6L37.5 103.6M44.7 89.2L41.3 92.3M48.1 93.6L45.6 95.9M40.8 86.2L40.4 89.7M44.8 97.1L42.8 98.9M32.2 95.3L32.5 98.4M45.9 91.1L43.3 93.5M66.1 89.4L62.7 92.5M58.6 99.3L54.7 100.5M60.2 85.4L61.7 89.5M61.4 99.2L59 101.3M54.3 97.5L56.3 99.7M57.1 87.8L57.2 91M56.5 89.8L53.5 92.6M54.9 94.4L51.3 97.6M83 88.4L80.3 90.6M80.2 101.6L76.6 104.4M75.8 87.5L77.9 90.1M78.9 102.2L76.3 104.3M102.5 87L99.5 88.9M97.2 90.9L95.5 88.3M100.3 86.9L102.3 90M90.1 92.1L91.9 95.1M102.5 85L98.7 87.3M100.3 84.2L102.6 87.9M95.9 99.4L97.2 102.7M119.7 86.1L117.2 89.5M117.8 100.2L115.4 102.2M122.8 89.5L120.5 87.2M119.1 100.6L121.4 103.2M5.6 108L8 109.5M10.1 119.9L8.7 122.1M9.1 104.6L9.1 108.1M0.9 112.9L4.4 115.2M3.6 109.4L6.4 111.2M14.5 117.5L13.1 119.5M4.8 108.9L3.3 111.1M7.2 119.4L9.8 121.1M14 108.6L13.7 112.8M12.7 106.4L10.6 108M34.7 112.2L36.5 115.7M36.5 110L34.5 112.2M25.6 108.3L27.5 110.1M31.3 106.5L34.4 109.3M30.4 120.2L28.7 122.1M28.1 106.4L25.9 108.8M49.7 118.5L51.7 120.3M41 111L43.7 113.5M48.3 116.1L45.1 119.5M79.1 115.4L76.8 116.7M67.7 118.8L63.9 121.1M69.5 121.2L66.2 123.3M62.4 113.9L64.2 117M61.8 113.5L63.5 116.4M95.3 114L97 115.9M86.8 108.3L86.1 111.2M82.8 108.4L85 111.1M87.5 120.5L89.8 123.2M98.7 115.4L95 112.6M86.8 107.4L84.2 109.5M89.6 119L87 121.1M86 116.8L88.1 119.4M97.2 109.8L95.6 113.4M81.4 111.9L84.1 115.2M112.9 114.8L115.5 116.9M99.8 112.6L102.4 114.7M118.4 113.1L114.7 114.2M107.1 119.8L109.8 121.9M104.3 114.8L103.2 119M13.5 127.8L15.1 129.6M24.2 129.3L22.2 131.3M18.7 137.8L20.6 139.8M19.6 140.8L17.4 139.7M16 127.4L14.7 131.4M16.7 135.6L13.3 138.9M15.4 139L18.3 142.1M20.7 123.2L18.8 127.4M21.9 135.2L23.9 137.3M33.7 134.7L29.8 133.5M31.2 133.1L34.1 136.2M49.7 132.1L52.3 133.9M57 129L52.9 129.7M61.4 125.8L59 129.3M56.3 128.1L53.8 131.8M55.3 129.8L51.5 130.9M57.1 128.4L53.6 130.9M61.2 137.1L63.9 138.9M57 138.9L60.2 141.1M55.7 136.2L53.9 138.8M53.7 126.6L56.7 128.6M80.2 125.2L76.8 128.3M79.6 124.8L81.4 126.8M73.6 130.2L70.2 133.4M73.3 129.7L71 131.8M80.7 137.3L78.3 140.6M84.3 130.8L86.8 133.5M83.9 137.7L79.7 138.4M102.3 139.3L99.7 138.6M99.8 125.2L97.8 127.2M105.1 133.4L103.3 135.2M90.6 129.2L93.9 132.4M106.4 135.2L103.8 136.7M96.4 124.1L99.3 127M97.5 139.6L100.7 143M99 124.2L96.4 126.8M125 133.9L127.7 137.7M123.2 137.3L120.1 139.5M114.7 138.4L116.1 140.4M117.8 128.4L114.2 129.8M111.1 130.4L113.2 133.5M12.4 144.1L10.1 146M13.2 151.7L15.5 154.1M12.7 157.1L10.3 155.6M7.3 154.4L4.1 157.4M8.5 157.2L6.2 159.3M33.2 147.7L35.9 151.6M37 149.8L35.1 153.6M22.5 148.3L23.2 151.1M28.1 157L25.6 158.7M38.9 152.8L35.9 153M35.8 145.8L32.7 147.9M22 151.5L24.1 154.6M38.2 151.8L35.3 151.4M32.1 143L28.9 145.2M52.7 146L54.5 148.3M59.1 152.9L56.7 150.2M44.4 147.3L41.2 149.6M41.1 148.1L43.9 151.6M43.8 146.7L45.8 149.2M42.3 147.3L40.4 151.6M53.2 143.9L50.9 145.7M45 147.7L41.8 149.4M49.8 155.6L51.8 158.2M39.5 149L42.2 152.4M47.3 157.2L48.4 161.3M77.4 149.7L77.2 153.2M69.8 144.3L72.1 146.6M70.9 158.6L67.7 161.8M71.3 158.1L69.2 160.2M73.4 156.5L71.7 158.2M72 159.6L68.2 158.6M71.6 156.1L69.1 158.6M63.2 148L60.6 150.6M86.6 153.2L84.3 157M79.9 151.5L81.8 153.6M84.5 145.1L86.7 146.4M89.5 144.9L93.4 147.3M91.1 158.3L88.6 157.6M96.1 148.2L97.5 150.7M81 149.8L81.3 154.1M90.4 156.5L86.8 157.6M95 145.6L93.7 148.1M89.1 156.4L87.7 158.7M105.4 151.4L102.9 155.4M117.3 150.6L115.8 152.9M112.9 147.5L115.9 149.4M108.3 155.2L107.1 158.2M105.4 148.4L103.4 151.7M119.6 147.5L117.3 151.1"/>
<path fill="none" stroke="#3e3e3e" stroke-width="1" d="M17.4 55.4L15.7 57.6M17.9 57L21.5 59.8M20.3 54.7L18.2 57.4M20.6 62.5L16.9 64M40 58.1L43 60.4M43.9 57L42.4 58.9M35 58.6L31.8 59.2M56.8 52.3L58.8 53.8M62.1 55.4L59.5 59M64.6 58.6L61.8 59M79.4 58.5L81.8 60.6M80.2 56.5L83.1 59.1M82.3 61.5L79.6 61.5M81.8 56.9L78.9 60.1M100.2 59.1L97.2 61.4M98.7 63.3L96.2 65.1M113.7 56.6L115.5 58.4M117.7 55.6L117.4 60.3M122.9 54.8L120.6 57.1M11.2 73.6L11.8 78.1M12.8 75.8L14.5 79.6M10.7 77.6L12.4 79.4M7.2 74.7L8.6 77.7M10.6 77.6L8.5 78.9M7.4 74.2L4.4 77.2M26.3 72.3L28.4 74.1M27.5 72.3L30.6 75M45 74.6L41.4 77.4M50.7 74.3L47.1 74M46.4 74.1L48.4 76.6M55.9 77.3L52.5 79.9M55.3 76.2L51.6 75.7M71.6 76.8L72.9 79.4M71.8 75.6L68.5 75.2M63.6 73.5L65.7 75.9M72.2 76.5L69.3 79.1M88.1 76.4L84.6 73.7M89.7 73.5L86.7 76.5M87.4 75L84.6 78.7M86.8 71.2L89.8 74.2M107.3 77.7L104.2 79.8M113 76.8L110.1 78.9M104.2 73.3L105.6 75.7M106.1 73.1L107.7 75.5M107.4 70.2L109.8 73.7M108.9 70.5L110.4 72.7M18 95.8L16 99.4M13.6 95.6L16.6 98M44.2 92.3L41.4 94.8M32.7 91.8L34.9 94.2M39.5 91.5L42.2 94.3M59.4 94.6L56.1 97.6M81 94.6L76.6 96.3M81.2 91.4L79.7 95.4M73.6 94.7L71.9 92.8M96.6 91.6L98.1 94M94.9 92.8L95.1 95.3M99.6 89.4L97.5 90.7M97.2 92L94.4 93.7M120.6 91.9L118.3 93.8M119.7 88.3L120.7 90.5M10.6 114.3L13.3 118.3M11.3 110L10.4 113.2M27 113.2L30.4 116.4M32.5 110.8L29.8 113.7M31.9 113.2L31.4 115.8M32.2 111.2L29.7 113.9M31.4 113.1L28.9 115.8M27.2 116.4L30 119M32 117.5L29.7 120M49.7 118.4L51.4 120.1M45.1 111.2L46.9 115M46.9 108.5L49.2 110.7M71.8 111.1L67.4 111.9M70 113.7L67.6 115.9M68.2 110.5L69.9 113.3M66.6 110.3L69.1 114.4M95.7 112.5L92.8 114.9M94.8 111.4L92 113.9M85 113.8L85.8 116.2M88.1 116.7L90 121.1M112.4 110.4L114.8 112.2M104.9 114.4L107.3 116.3M19.2 130.8L17 132.8M14.1 130L16.5 132.6M21.2 129.9L17.7 132.4M24.3 133.3L21.3 136M20.8 127.3L19 128.9M34.1 134L35.9 136M39.1 128.8L36.5 131.2M40.8 125.7L38.2 128.9M37.7 131.2L40.5 134.2M56.7 132.7L58.8 134.9M79.5 131.7L78.5 135.7M82.2 127.7L80.5 130.4M80.8 129.2L78.9 127.5M105.9 132.3L104 134.2M100 126.3L97.9 128.5M101 129.3L103.4 131.7M115.7 129.9L117.4 132.3M117 132.2L116 135.3M117.7 132.3L114.5 134.5M117.2 128.7L118.6 132M116.4 134.3L113.5 136.3M117 135L114.5 136.7M119.4 131L115.5 133.3M6.4 146L8.2 147.9M13.7 147.2L10.4 150.2M16.3 150L13.7 152.5M9 153.7L6.5 156.1M13.6 155L9.8 153.1M10.5 150L7.9 148.3M35.5 150.8L32.2 153.1M25.6 147.2L27.4 149.7M28.6 153.4L30.3 155.9M54 151.9L50.6 154.5M49.5 146.5L51.5 149.6M49.1 151.4L49.5 155.3M52.6 148.5L49.9 150.6M63.8 151.6L66.5 154.3M70.3 152.7L66.2 152.9M68.9 151.4L67 153.3M67.4 153L64.6 152M85.9 154.1L88 155.4M93.5 155.2L90.4 154.7M84 150.3L86.6 151.9M85.7 150.8L83.7 154.1M91.3 149.2L90.3 153.8M91.4 144.4L89.1 148.2M104.8 151.8L102.8 153.2M110.6 145.9L108.5 149.3M110.7 149.5L109.5 153.3M108 150.8L106.2 153.4M111.1 146.1L110.8 149.7"/>
<path fill="none" stroke="#2a2a2a" stroke-width="1" d="M19.2 54.4L16.6 57.8M16.9 56.9L15.2 59.1M18.6 53.5L15.2 54.9M11.2 58.1L14.7 60.8M16.1 60.6L19.1 62.9M17.8 57.5L15.4 60.6M19.3 64.7L16.5 63.2M16.9 58.8L13.8 57.3M40.4 57L42.4 59.8M34.3 57.2L37.9 60M40.3 59.6L43.8 62.3M40.5 61.9L42.7 63.5M37.4 60L35.7 62.3M60.9 56.9L59.3 59.1M84.3 57.6L82.4 59.8M78.9 58.1L81.4 61.4M76.5 59.2L78.8 61.2M98.5 58.5L94.8 61.3M98.2 52.5L101 56.3M94.7 58L93.2 61M103.5 54.9L100.1 57.4M99.1 60.1L97.1 61.6M116 59.3L116.7 63.4M123.4 57L122 59.2M120.7 59.4L118.9 61.3M117.8 61.6L120.3 64M116.4 59.9L118.2 61.7M116.7 53.8L119.1 56.1M119.1 53.6L116.6 56.2M118.7 56L121.1 58.2M8.3 77.2L5.3 80.1M13 77.7L9.8 81M10.4 72.8L13 75.5M14.9 75.6L11.8 78.6M5.3 73.8L5.4 78.3M9.4 76.1L11.7 78.5M9.6 70.4L12 72.9M35.8 74.7L33.3 77.5M28.6 80.8L25.1 78.7M31.4 73.4L34.3 76M44.7 74.9L42 77M49 75.5L46.3 77.6M52.8 79.2L50.6 80.8M48 72.9L49.6 75M49.2 78L46.6 80M63 75.1L65.7 78.1M69.7 76.6L67.4 78.7M75.1 77.5L71.9 78.4M68.7 80.3L67.9 82.7M68 81.8L69.6 83.6M70.2 77.4L67.9 79.4M71.1 73.8L67.2 76.1M91.4 72.9L88.1 76.2M85.9 74.9L87.8 76.9M86.5 72.4L87.8 75.6M115.1 75.1L112.9 76.7M107.6 79.3L109.1 81.5M109.8 69.1L110.5 71.6M19.7 93.2L15.9 94.2M37.6 90L40.7 93.4M37.5 96.4L40.3 99.4M63.3 92L61 94.1M65.3 93L62.5 93.3M60.8 89L57.5 89.1M53.6 95.3L56.2 98.1M59 92.9L56.9 94.9M60 93L62.5 95.7M80 94.3L82.8 97.9M81 92.9L83.4 95.9M78.3 98.2L77.2 101.4M99.7 94.8L100.5 97.5M95.9 94L93.6 95.9M98.8 92.6L95.9 94.4M95.8 92.1L93.7 93.5M99.9 89L102 92.5M117.6 98.9L119.8 101.5M6.8 107.1L10.3 109.4M6.1 107.8L9.1 109.8M8.4 117L8.7 119.8M25.5 110.7L27.4 112.5M26.3 110L23.9 112.7M49.5 118.5L45.7 116.4M67.5 112.9L63.5 115.2M72.2 115.8L68.5 118.1M68.4 116.4L68 120.1M74.2 115.7L71.5 114.8M64.2 109.6L66.6 113.6M71.4 109L68.2 111M91.3 108.8L91.4 112.4M94.4 110.3L90.8 111.7M90.9 107.7L91.7 111.4M91.8 111.4L88.7 114M86.6 108.4L89.6 112M112.2 115.9L110.1 118.6M111 109.3L113.3 111.1M108.7 112.2L111 114.1M112.7 110.4L115.9 112.9M108.1 117.5L110.4 119.4M114.3 111.8L116.8 113.7M22.1 129.3L22.4 132.7M21.7 131.8L23.5 133.6M15.4 129.9L13.5 131.7M22.8 133.6L20.3 131.6M24 129.9L21.9 131.9M17.1 133.7L14.6 136.1M44.1 131.1L41.7 133.4M39 130L35.5 133.2M43.4 130.7L44.5 133.7M57.1 134.6L55.3 137.2M61.8 129.7L58.1 132.4M58.7 136.5L56.9 139.2M77.3 131.9L74.5 134.2M78.2 132.5L80.3 134.9M81.2 134.7L78.9 136.8M77.9 128.1L74.9 130.9M100.4 132.7L103.1 135.3M97.3 130.2L95.2 132.4M95.8 136L97.7 137.8M93.5 130.2L95.9 132.5M100.4 126.4L96.5 127.6M103.6 129.5L100.9 130.2M94 130.1L96.4 133.6M120.2 131L120.6 133.4M16.6 148.7L12.9 151.4M9.6 147.2L7.1 149.4M7.5 147.6L5.5 149.5M10.6 149.8L7.7 152.4M6 151L8.7 154M7.3 151.9L3.8 152.3M12.4 154.5L9.2 157.6M33.1 148L33.3 150.8M24.7 149.6L22.5 151.2M30.6 145.8L27.3 148.1M23.3 150.2L25.3 153M31.1 147.1L27 148.7M29.5 155.9L26.5 158M23.3 148.5L25.3 151.4M56 151.2L52.9 151.6M54 150.9L56.3 153.9M44.1 149.5L46.6 152.9M45.8 149.8L42.5 152.3M45.7 148.4L43 150.5M69.4 144.5L72.6 147.7M65.8 152.3L67.6 154.1M67.1 151.7L65 153.7M67.8 150.2L65 153M75 151.9L72.5 154.4M86.3 145.8L89.7 147.9M90.4 154.1L88.1 158M82.4 150.5L86.1 152.7M90.8 149.5L88.4 153.6M92.6 149.3L91.1 151.8M106.9 150L110.3 152.1"/>
<path fill="none" stroke="#989898" stroke-width="1" d="M22.5 56.1L22.1 59.5M17.3 61.5L14.4 63.2M17.8 58L20.3 60M33.7 58.7L31.6 61.4M33.5 60.4L36.6 62.8M58.6 61.2L61 64.9M58.4 61.1L60.7 62.8M61.8 60.4L57.3 61.8M58 55.6L55.3 59.3M72 57.5L75.3 60.5M80.9 60.8L78.4 63.3M81.1 56.8L83 58.5M76.9 53.6L75.8 56.1M75.2 55.3L75.2 58.6M79.5 61.2L76.7 64.3M99.2 53.2L96 55.6M120.8 58.8L118.4 61.3M25.4 76.7L28.1 79.1M30.4 75.6L33.5 78.3M30 70.6L27.5 73.5M31.6 76.2L33.7 78.1M30 78.9L29.5 82.3M27.9 75.3L25.4 74.3M25.4 75.3L27.8 77.4M32.2 71.3L31.8 74.9M26 71.6L28.9 74.1M48.9 72.5L51.1 75.3M50.3 78L53.1 81.6M52.8 77L54.7 79.5M66.8 73.7L69.2 76.9M69.9 77.4L72.3 80.1M67.8 74.2L64.7 76.9M92.2 80.3L89 83.6M91.1 75.6L88.4 78.3M85.5 75L83.3 77.2M85.1 75.6L83.2 77.6M91.7 75.5L93.6 77.4M87.6 71L89.8 73.2M114.8 74.3L115.6 79M20.3 97.1L22.5 98.9M23.9 93.9L21.4 97M39.5 92.6L37 94.9M37.7 94.6L37.8 99.1M37 92.7L33.8 95.6M39 94.6L36.7 98.1M62.8 92.4L60 94.9M57.1 92.5L58.9 95.9M59.3 95.4L61.9 98.3M75.9 91.8L77.5 93.9M77.3 98.6L79.7 101.7M84.2 96.2L80.8 98.8M104 96.4L101.3 98.1M100.6 95.2L98.4 96.5M117.3 89L119.8 91.9M116.1 96.8L112.7 95.7M119.6 88.8L116.6 91.3M121.3 96.3L119.4 97.9M119.1 88.4L121.4 91.1M117.4 95.6L120.3 99M120.7 90.9L117.1 93.9M7.4 108.4L5.2 111.8M8.8 109.6L7.1 112.3M5.5 114.2L7.7 115.7M11.5 107.9L9.2 111.4M5.4 111.9L7.5 113.4M11 107.1L7.5 109M13.6 110.7L15.2 113.9M31.9 114.8L34.5 117.1M54.8 111.8L52.4 114.4M46 112.9L48.9 115.5M45.5 115.9L42.3 113.1M53.2 110.6L53.2 114.3M49.9 115.6L46.7 119.1M69.3 115.9L70.8 118.4M72.1 110.9L73.3 113.8M73.7 109.1L71 110.7M86.7 110.6L85 115M88.4 111.6L90.5 114.2M91 118.3L87.8 116.4M91.2 109.7L88.5 111.9M89.5 111.8L87.5 113.4M110.4 110.3L113.2 112.5M115 110.4L112.4 113.7M112.6 113.5L115 115.3M111.4 114L111.6 118.3M20.1 131.1L17.1 132.5M17.2 131.8L18 134.4M14.8 131.9L16.6 133.8M21.7 132.2L18.8 135M37.7 126.4L39.5 128.3M43.1 131.2L41.4 132.9M35 130.9L36.7 133.6M43.6 129.4L42.2 132.4M41.9 133.5L39.4 135.8M37 134.4L33.9 133.9M36.2 130.9L38 132.8M38 131.2L34.6 131.5M38.7 132.1L35.5 135.1M37.3 135.1L38.7 139.2M37.3 132.2L38.9 134M41.1 132.5L39.3 134.1M55.6 135.1L59.6 137.7M58.6 133.3L57.2 135.4M53.9 133.9L56 135.3M54.4 131.3L55.4 134.1M82.7 134.7L79.5 137.6M82.3 135.3L80.3 137.1M98.4 135.4L101.1 139.1M99.2 129.7L102 132.4M95.4 131.9L94.8 135.7M100.8 130.1L98.7 128.4M118.7 134.5L121.2 138M121.8 129.8L122.1 132.3M118.9 133.2L120.6 135.6M120.3 134.7L117.5 136.1M119.8 124.4L120.3 128.8M114.9 132.5L111.8 133.5M122.6 130.7L119.2 133M121.2 133.1L118.5 134.9M121.2 127L119.1 128.5M12.2 155.1L7.7 155.1M8.5 155.9L10.2 157.8M8.1 152.1L4.8 154.1M28.2 149.5L30.3 152.7M27.7 149.3L29.5 151.9M32.5 147.3L34.7 150.6M32.2 150.4L28.9 152.6M49.7 144L51.6 146.4M45.9 153.5L42.9 149.9M50 152.1L46.9 154.5M46.7 150.5L44.6 153.4M72.8 152.9L69.8 151.9M68 148.9L66 150.8M68.2 153.8L67.6 156.6M64.6 151L61.7 151.2M71.6 150.8L74.3 153.6M68 145.3L70.5 147.8M69.1 145.6L72.1 148.6M63.1 148.9L66.4 152.3M92.4 147.8L91 150.1M90.5 147.4L91.4 151.7M93.2 149.7L91.6 152.4M113.4 149.3L114 152M115.6 149.2L113.3 152.8M107.7 149.9L109.8 152.4M114.9 150.4L111.3 152.6M110.3 152L112.8 153.5M104.8 152.8L107.1 154.3"/>
<path fill="none" stroke="#787878" stroke-width="1" d="M15.6 57.8L11.8 55.7M17.1 64.9L19.6 68M21.2 52.4L19.1 55.2M24 61.9L21.1 65.6M11.3 57.9L14.3 60.2M15.7 63.3L18.5 65.5M30.8 57.6L34 60.1M45.2 58.8L42.4 62.4M31.1 57.4L34 59.6M42.3 54.1L45.2 56.3M34.4 54.9L36.3 56.4M43.4 62.1L41.5 64.6M35.9 52.6L35.3 56.8M37.7 62.6L36.1 64.7M63.4 63.8L61.9 66M64.4 62L63.3 64.3M52.7 62.5L54.8 64M60.2 65.9L56.6 65.2M73.1 62.4L75.2 64.3M73.5 54.2L76.6 57M76.8 48.6L79.8 51.3M88.3 56.5L85.4 59.8M81 51.9L81.2 54.4M85.8 55.8L83.4 58.4M81.6 54.8L83.6 56.7M95 54.6L92.4 56.1M95.2 61.1L92.6 60.7M107.4 59L103.6 61.9M98.3 64.1L100 66.4M94.2 53.5L96.8 56.9M98 62.5L94.4 65.2M93.2 60.4L95.2 63.1M94.6 53.1L96.4 55.5M116.8 65.3L119.9 68.3M123.6 58.8L125.8 61.1M124.6 56.2L127 58.4M123.2 52.4L121.5 54.3M126.3 60.8L123.3 63.9M114.1 54.1L115 56.8M125.4 54.2L122.2 57.6M117 65.5L120.3 68.6M13.3 70.4L15.4 74.3M14.9 72.6L12.3 73.9M9.9 79.8L12.8 82.8M-0.3 75.2L2.6 78.2M4.3 69.5L7 72.3M0.9 76.5L3.9 79.6M16.7 75.9L18.7 77.9M18.6 78.1L15.4 78.4M28.8 70.7L25 69.1M23.7 76.9L21.2 79.7M28.7 82.4L30.7 84.1M28.3 83L30.9 85.3M33.3 70.8L31.7 72.6M43 72L45.8 75.6M54.6 78.5L51.8 80.8M40.6 74L42.5 76.4M46.1 69.7L47.8 71.9M55.2 71.8L52.6 73.9M58.7 75.8L56.8 77.3M46.2 81.8L48.2 84.4M55.4 77.5L57.2 79.9M61.8 72.2L64 74.7M65.9 81.6L69 85M65.5 71.2L63.4 73M70.3 83.9L67 86.8M75.2 71.6L71.9 74.5M84.3 73L80.9 75.7M88.7 84L91.4 86.6M90.4 66.6L89.5 70.1M83.5 73.6L85.7 75.8M91.4 81.4L90.2 84.5M94.4 74L96.3 75.8M97.1 75.7L98.6 79.5M83.2 73L86.3 76.2M85.9 81L83.7 79.3M113.1 80.9L110.9 82.4M110.8 81.5L108.1 83.4M118.7 75.8L115.9 77.7M108.5 82.8L105.8 84.7M115.2 74.1L116.8 76.4M16.4 88.6L12.9 90.7M13.6 96.7L11 96.3M14.3 95.8L10.4 95.5M17.7 99.5L15.2 102.7M20.3 85.4L18.4 87.8M20.3 101.2L17.3 104.8M44.3 99.1L41.3 98.1M35.6 88.4L33 90.8M34.4 96.3L31.1 95.8M34.9 94.1L31.1 96.2M31.7 89.5L34.1 93M62 98.5L59.6 100.7M62.8 90.6L64.6 92.6M64.9 91.3L62.8 93.3M78.4 84.8L80.6 87.7M73.5 96L75.1 98.1M79.2 87.2L76.5 89.4M86.1 94.9L83.6 92.1M73.3 88.4L75.8 91.6M74.2 94.1L71 94.7M95 97L92.5 98.6M91.1 91.2L93.3 94.8M100.1 99.4L96.9 101.3M107.9 94.5L104.7 96.5M94 96.5L96 99.7M98.5 87.3L95.6 89.1M93.2 89.9L95.1 93M95.9 98.1L95.8 102.5M125 92.6L126.8 94.7M114.1 98.1L115.4 100.3M117.4 100.2L116.3 103.5M121.5 84.3L118 87.2M110.3 92.7L111.9 94.7M15.5 113L17.5 114.7M2 109.9L4.6 113.1M16.1 108.5L14.8 110.8M11.1 118.9L9.4 121.6M17.9 112.2L15.7 113.9M25.1 110.9L22 114.3M24.4 117.8L27.8 120.8M28.6 121.5L31.3 124M26.3 109.9L22.6 112.4M26.5 104.1L29.3 106.6M26.6 106.2L29.7 108.9M26 117.6L28.6 120M26.8 107L24.9 109.2M49.1 105.9L51.9 108.6M47.7 104.8L49.2 108.9M50.2 105.5L53 108.2M57 112.7L59.5 115M44.8 109.8L42.4 112.4M69.8 107.3L66.4 109.4M77.5 113.2L74.6 116.9M88.8 108.8L84.7 106.3M94.3 110.5L91.8 107.9M95 108.7L92.9 110.4M79.5 110.8L82 113.9M99.3 115.9L96.3 112.8M79.4 110.6L82.2 113.9M98.2 115.1L95.7 115.7M98.8 114.3L95.2 117.2M104.1 112.6L100 111.9M111.2 118.8L109.2 121.3M116.8 108.8L117.3 113.1M117.2 112L119.1 113.5M103.2 116.6L105.1 118.1M111.3 107.5L107.5 104.8M13.4 128.4L15.3 130.4M23.1 127.3L20.8 129.5M20.6 138.8L18.6 140.6M43.8 128.2L41.7 130.2M42.9 134L45.5 136.8M38.9 141.3L36.4 140.9M38.1 124.1L38.7 126.9M37.6 123.1L40.6 126.3M55.9 134L53.3 138M68.1 134L65.4 132.3M68.4 128.7L67.4 133.4M66.4 131.3L64.3 134.5M60.4 139.2L56 138M63.2 139.6L60.1 138.3M78.4 123.8L80.5 126.1M80.3 125.4L75.7 125.3M79.7 140.5L77.4 142.6M75 134.6L71.8 137.5M79.2 138.9L76.4 141.5M76 135.5L74.1 137.2M94 136.7L90.6 134M93.3 135L96 137.7M96.4 137.4L92.7 138.3M94.6 136.5L97.1 139M93.6 134.3L91.2 136.7M95.4 127.1L92.1 130.5M102.2 126.4L99.9 127.8M93.4 130.5L91.1 132.8M112.2 130.6L109.1 133.3M117.5 126.3L115.5 127.7M128.6 132.7L125.8 134.7M15.1 150.3L16.2 153.6M12.9 152.9L15.1 155.2M5.8 147.8L4 149.5M16.3 145.7L13.5 148.4M9.7 157.7L7.5 159.8M10.1 159.3L6.4 156.8M14.6 148.1L16 151M7.2 143.5L9.8 146.3M2.1 148.6L4.5 151.2M37.7 154.7L33.6 153.5M22.2 148.7L21.3 152.7M28.2 156.1L24.8 158.4M21.8 148.6L23.6 151.1M45.4 147.8L43.4 149.3M60.5 150.1L61 152.7M65.8 146.7L62.8 149.6M74.2 156.5L70.2 154.1M91.2 154.2L95.2 156.6M88.3 155.9L90.7 157.4M86.4 144.8L84 148.8M95.7 146.9L92.2 145.9M105.5 149L103.4 150.6M114.1 156.7L111.4 158.2M110.5 141.3L108.1 145.1M102.2 154.1L105.7 156.4M110.1 145.1L113.9 147.5M106.8 141.9L110 143.9M103.5 154.6L106.3 156.4M108.7 141L106.7 144"/>
<path fill="none" stroke="#7e7e7e" stroke-width="1" d="M12.8 59.2L15.3 61.1M18.5 54.1L15.9 54M19 58.5L17.2 60.8M35.9 55.9L34.7 58.8M64.9 58.2L63.3 60.5M60.6 64L58.7 66.5M77.8 55.5L75 58.6M79.8 59.2L77.8 61.4M76.3 56L78.5 59.5M75.3 59.4L74 62.5M77.2 51.4L80.6 54.4M98.4 53.9L94.9 56.6M100.4 55.3L102.4 58M94.9 59.1L91.6 59.2M104.6 58.4L101.6 58.3M98.3 62.2L100 64.4M99.1 63.2L97.2 64.6M98.9 51.8L100.9 54.5M102.5 58L105.1 61.5M120.3 53.8L116.5 53.9M116.3 55.7L115.9 58.3M115.8 53.7L118.5 56.3M3.9 75.7L5.9 77.7M9.3 69.8L8.7 74.1M33.1 73.2L33.1 77.2M30 75.4L26.9 78.8M28.6 75.6L30.7 77.5M29.2 73L27.4 75M31 81.8L29.2 83.8M48.8 75.5L51.4 78.9M48.2 77.9L45.4 79.1M67.6 77.7L69.2 79.5M71.1 76.3L72.9 78.4M68.2 73.7L68.2 78.3M90.5 71.8L90.1 74.6M85.6 76.1L88.3 78.8M93 73.5L90.9 75.6M109.9 73.8L107.5 75.4M109.5 80L111.4 82.8M106.2 78.9L107.9 82.6M107.2 76.5L104.5 74.3M110.6 74.3L113.3 78.1M110.8 71.8L108.3 73.6M15.6 89.5L17.7 91.2M14.5 93.5L17.4 95.9M17.1 96.5L20.7 99.5M18.4 93L16 92.1M20.4 89.9L21.9 92M11.6 92.8L13.7 96.7M35.2 91.2L37.8 94.1M44.5 92.6L41.4 95.5M44.3 95.7L40.8 93.3M40.5 95.1L38.1 97.2M55.2 92.7L56.9 94.7M59.5 91.6L61.9 94.2M59.3 91.9L57 93.7M59 94.5L55.6 97.6M80.7 89.4L82.6 91.8M74.1 93.4L75.2 96.3M105.6 94.7L101.5 92.2M97.8 95.1L99.3 97.6M99.1 94.6L95.4 96.9M124.1 94.8L120.5 97.8M118 92.4L120.3 95.2M124.1 94.8L121.3 97.2M117.4 94.9L120.1 98.2M112.8 91.2L115.6 94.4M122 93.1L124.6 96.1M122.7 96.3L120.8 98.3M118.4 89L118.1 92.7M112.4 93.4L114.6 96M9.2 117L7.5 119.6M29.8 109.8L27.8 112M31.5 117.6L29 121.7M53 110.4L49.2 110.3M50.8 114.9L54.1 117.9M50.5 107L47.8 109.9M76.3 114L73.2 115.9M86.4 110.4L83.1 113.1M108 117.6L110.9 119.9M111 116L108.6 119M107.2 116L103.8 113.7M20.7 131.4L22.8 133.7M20.8 127.3L16 127.8M40.9 131.4L37.7 134.3M40.1 132.6L41.1 136.7M38.3 132.8L35.6 131.8M36.6 131.9L35.2 134.2M39.2 126.4L37 128.1M58.9 130.7L61.4 134.4M58.7 134.5L57.1 136.9M59.2 128.1L61.6 130.5M55.1 129.7L59.1 132.4M73.4 131L76.2 134.1M74.7 134L77 136.5M81.3 132L77.9 130.3M80 132L75.6 133.8M77.9 134.4L74.9 137.1M78.9 135.8L75.5 133.9M75.5 131.1L75.1 134.2M93.2 129.3L96.3 132.3M103.6 131.8L100.4 128.8M104.4 131.1L104.1 135.2M100.3 132.4L103.6 135.6M116.4 132.2L114.4 133.6M115.1 131.7L111.8 133.9M120.4 130.9L121.9 133.1M115.2 130.3L111.8 132.6M17.3 150.9L13.3 152.8M14.1 150.3L10.8 153.4M25 151.5L27.4 155M28.1 150L26 151.5M30.1 153.8L26.7 155.3M36.5 152.3L32.9 152.6M48.8 154.3L46.6 152M52.7 152.4L48.8 152.8M50.6 151.9L49.6 155.5M50.1 146.6L52.2 149.2M70.8 149.8L68.4 152.2M72.9 152.1L70.2 154.8M67.2 146.9L69.9 149.7M71.9 147.8L69.5 150.2M66.7 152L64.9 153.7M107.6 145.7L106.3 147.8M105.4 150.3L107.5 153.3M111.9 147.6L114.3 149.1M111.4 149.9L109.3 153.3"/>
<path fill="none" stroke="#525252" stroke-width="1" d="M15.9 59.6L11.8 59M21.9 57.6L19.4 61M15.2 59.5L17.5 61.3M40.9 55.9L43.3 57.8M38.1 54.2L35.8 57.3M37.5 56.3L37 58.7M37.7 55.2L38.4 58.7M59 58.7L55.6 57.6M57.3 57.1L55.1 60.1M58.5 56.1L56.6 60.4M54.4 60L57.9 62.6M54.5 60.1L51.1 59.8M84.3 57L80.5 58.8M82.3 56L85.1 59M76.2 56.9L79.1 59.5M79.3 56.7L82.9 59.8M76.8 51.9L80.1 54.9M97.9 61.7L95.1 61M98.4 51.7L99.5 56.1M96.6 58.5L94.2 57.6M97.7 56.9L99.2 59.6M103.8 57.9L105.6 60.4M95.7 62.6L97.3 64.7M123.8 57.5L119.7 59.1M119.4 61.4L117.4 63.4M117.9 55L120.4 57.4M122.2 59.5L124.7 61.9M121.6 57.2L124.3 59.8M125.3 58.7L123 61.1M115.1 54.4L117.4 56.6M123.5 60.7L120.5 64M121.7 59.6L123.5 63.2M8.2 71.1L11.4 74.4M10.9 71.5L11.2 76.1M9.4 79.7L6.2 82.8M13.8 71.7L10.4 75.1M29.4 73.6L25.1 73.7M32.4 76.8L30.1 79.5M32.8 76.9L35.6 79.3M30.1 74.2L28.3 76.3M30.7 71.3L27.7 74M31.9 77.4L29 75.8M51 76.7L52.6 78.8M47 73L46 75.5M47.1 77.9L45.2 79.4M46.6 76.3L44.3 73.7M53 69.9L49.5 72.7M47.8 73L44.8 75.4M72.2 73.8L73.8 75.7M67.9 79L70.9 82.3M66.8 79.3L64.5 78.2M107.5 75.1L104.8 77M106.6 71.5L108 73.5M107.6 76.1L104.6 78.2M111.3 75.4L110 79.4M109.1 80.1L106 82.2M21.2 92.1L23.5 93.9M14.4 94.9L17 97.1M18.4 94L16.1 92.2M20.9 90.8L22.8 92.4M16.8 93.6L20 96.2M35.3 91.2L38.4 94.5M43.1 93.5L43.6 96.4M36 96.7L38 98.9M39.3 91.6L36.9 93.9M38.6 89L35.7 91.8M34.4 95.3L36.9 98.1M62.8 91.1L60.9 92.8M57 89.9L59.3 92.3M82.3 97.2L79.4 99.9M82 91.5L84 94.1M75.6 97.3L78.1 100.7M78.6 93.5L75.2 96.2M77.8 91.9L74.3 94.6M79.7 91.9L76.6 94.4M94.2 93.6L96.5 97.4M101.2 94.3L97.6 96.6M104.3 90.2L100.3 92.7M100.5 93L98 94.4M117.8 97.9L120.9 101.5M118.2 91.3L120.6 94.2M10.9 108.1L8.9 111.2M11.3 115.2L9.5 118M9.3 108.1L7.4 111M30.5 108.2L27.9 111M28.7 107.3L31.5 109.8M33.7 112L36.9 114.9M52.1 114.3L50.8 118.8M44.1 113.3L46.9 115.9M49 112.7L46.5 115.4M69.6 110.3L71.4 113.3M68.7 115.8L65.9 117.4M89.5 114.9L85.4 114.1M85.7 112.1L83.3 112.1M109.5 113.6L106.6 117.3M114.7 110.1L111.9 113.7M116.5 111.7L114.5 114.3M22.6 132.9L24.6 135.1M21.7 130.3L23.9 132.6M17.3 128L19.5 130.4M19.4 134.3L21.9 136.9M17.3 128.5L14.7 131.1M42.7 132.4L40.9 134.8M43.8 134.2L40.6 137.2M41.8 130.2L38.9 133M36.7 127.6L39.7 130.9M54.7 131L53.3 133M58.3 127L60.4 128.4M55.8 130.5L54 133.3M62.3 127.6L59.7 131.5M84.5 130.5L82 132.7M82.9 134L83.3 136.4M81.9 133.5L78.6 136.5M103.5 131.1L105.8 133.4M115.4 129.1L118 132.9M119.4 132.9L115.9 135.3M115.9 132.3L113.5 131.3M121.1 132.1L117.3 135M123.9 133.4L120.6 135.7M119.1 136.6L115.3 138.6M8.4 155.6L10.1 158.4M7.3 153.3L10 156.2M8.5 150.7L5.2 153.7M29 153.5L31.4 157M27.9 150.4L29.3 152.5M45.2 150.9L48.1 154.6M51 145.5L49 147M54.2 146.2L51 148.7M70.2 152.1L67.8 154.5M69.1 145.3L66.8 147.6M88.3 149L90.6 150.4M88.1 155.1L91.2 157M90.2 147.8L93.5 149.8M107.3 146.1L105.3 149.3M110.1 145L107.9 147M106.3 150.5L104.9 152.7M103.1 148.1L107 150.6M106.5 149.7L110.3 152.1"/>
<path fill="none" stroke="#686868" stroke-width="1" d="M19.6 59.9L21.9 63.3M18.4 51.5L18.9 55.5M21.8 56.2L17.5 54.2M32.7 57.3L33.9 61.8M38.7 56.7L37 59M38.1 55.7L36 58.4M37.1 59.2L38.4 61.7M42 54.4L40.3 56.7M41.3 61.3L39.5 63.6M44.2 61.4L40.1 61.9M60.7 54L61.9 56.6M57.7 59.9L55.5 62.9M52.9 59.2L55.3 63.3M60.8 55.1L64.4 57.8M57.2 60L56.8 63M54 61.3L56.4 63M61.2 54.1L56.7 53.8M60.7 58.5L57.7 57.5M79.9 53.7L77.9 52.1M74.1 56.3L76.2 58.2M77.8 53.6L79.3 57M81 59.8L83.4 61.9M77.4 52L80.8 55.1M78.2 52.6L78.7 55M97 55L94.2 57.6M116 54.4L117.9 56.3M116 58.4L119 61.3M118 58.4L115.2 61.3M115.4 54.9L118.6 58M10.6 71.1L7.4 74.2M12.4 77.4L10.5 75.6M10.3 75.2L12.5 77.4M8.7 74.3L5.8 76.1M33.9 77.6L29.6 77.9M33 78.7L28.6 78.9M36 76.1L33.5 79M29.3 73.6L26.6 76.7M48.7 73.3L45.5 72.6M49.7 77.6L51.3 79.8M53 76.9L49.8 79.4M48 71.7L50.5 74.8M67.3 75.6L64.3 78.2M68.5 70.7L71.5 74M94.2 74.1L92.4 75.9M88.5 72.7L88.9 76.1M89.5 76.2L84.9 76.2M88.2 78.3L91 81M108.2 77L110.5 80.3M104.3 76.6L106.5 79.9M21.2 91.4L18.9 94.3M17.3 98.3L20.5 100.9M18.9 92.3L17 94.7M16.4 98.1L19.1 100.3M17.7 92.6L15.7 94.5M15.2 95.3L16.8 97.3M34.8 92.6L37 95.1M39.4 99.4L37 101.6M42.2 89L39.5 91.4M34.1 91.4L37.2 94.8M39.4 95.1L36 98.2M54.3 90.6L57.5 94.2M63.6 94.7L60.2 97.9M59.7 87.4L58 89M59.6 91.1L62.7 94.5M77.6 97.8L75.1 96.6M76.2 93.9L77.9 96.1M83.4 93.7L84.2 96.3M80.2 90.5L78.6 92.3M79.5 92.4L76.4 94.6M100.5 93.5L102.1 95.9M116.7 95.3L118.8 99.1M125.7 94.3L122.8 96.7M113.1 94.8L115.3 97.3M12.9 109.7L9.8 111.8M6.6 110.9L4.9 113.5M8.5 112L6.8 114.6M9.4 117.4L12.2 119.2M29.2 110L26.3 111.3M31.7 107.9L30 109.8M30.8 114.8L32.9 116.7M31.7 112.4L29.8 114.4M35.5 113.8L33.1 115.7M31.2 113.3L33.4 115.3M26.3 108.8L28.1 110.5M47.7 109.8L50.9 112.6M43.7 110.6L46.4 113.1M49.4 107.5L47 110.1M51.3 115.1L54.2 117.8M53.2 114.2L50.2 116.3M51.5 111.2L54.2 113.7M70.8 113.9L68.7 115.2M67.7 114.7L63.6 117.1M69.7 111.1L71.8 114.7M68.6 107.7L70.9 111.6M70.2 110.6L67.4 113M94.1 114.3L92.4 116.5M113.7 112.6L111.1 111.9M105.2 112.8L103.7 114.8M108.6 108.1L111.8 110.6M114.6 111.8L112 115.1M109.5 114.8L112.3 117M113.7 111L109.7 109.8M107.3 114.8L104.3 114.8M21.1 129.9L17.7 133.1M14.5 129.8L14.8 133.1M14.9 130.7L15.2 135M14.8 135.1L17.6 138.1M23.7 132.8L20.8 135.5M22 129.2L18.8 132.2M43 131.8L40.7 134M39.8 130.7L39.3 135.3M36.8 134.4L36.5 137.5M35.9 131L33.6 133.1M60.5 134.6L58.6 137.5M61.5 135L62 138.4M54.2 132.6L51.8 136.1M58.1 134.9L55.5 138.8M61.5 133.1L59.3 136.3M79.9 134.8L81.6 136.6M82.8 133L83.6 135.4M79.4 130.5L82.5 133.9M98 136.3L100.7 139M95.7 132.7L97.1 135.7M101.2 133.6L99 132.3M117.6 134.7L113 134.7M122.4 127.4L119 129.8M118.1 131.3L114.7 134.1M12.2 149.6L9.5 152M13.2 149.9L10.8 152.1M17.3 151.5L13.7 149.9M11.7 149.2L11.2 152.7M31.7 154.2L28.8 156.2M29 150.8L28.4 153.6M24.6 147.7L27.3 151.6M32.1 152.3L30 156M32.8 150.5L29.9 151.6M28.8 149.3L30.2 151.4M52 148.2L49.5 150.1M50.8 146.3L48.8 147.9M49.9 153.4L51.8 155.9M90.6 151.9L93 153.3M90 154.6L89 157.5M93.7 147.9L91.4 151.5M83.9 150.4L85.8 152.4M92.1 152.6L94.4 154.2M104 151.7L107 153.8"/>
<path fill="none" stroke="#2e2e2e" stroke-width="0.95" d="M15.5 53.8L24 60.3M12.9 57.1L22 64.1M35.5 53.8L44.8 60.9M33.2 57.3L41.5 63.7M55.1 53.7L64.3 60.4M53.7 57.8L61.5 63.6M76.5 54.1L84.2 61M73.3 56.8L81.5 64.3M97.7 54L103.5 61.8M94.3 56.5L100.2 64.3M116.7 54.1L123.8 60.9M113.7 57L121.3 64.3M7.5 71.5L15.3 79.4M4.4 74.3L12 82.1M26.5 71.1L34.4 78M24.4 74.8L32.4 81.9M47.7 70.7L54.2 79.1M44.2 73.2L51.4 82.4M67.9 71.5L74.7 79.2M64.8 74.4L71.7 82.1M86.9 70.9L94.6 78.7M83.7 73.6L91.9 81.9M108.1 70.7L114.7 80.3M105 73.7L110.8 82.1M15.5 89.1L24.1 96.1M13.6 92.9L21.1 99.1M36.5 88.8L44.4 97.5M34.1 92.5L41.2 100.2M56.2 88.6L64.5 97.6M53.6 91.9L61.1 100.1M77.2 89.1L83.5 97.1M73.6 91.2L80.9 100.7M98.1 89.3L103.1 97.5M94.2 91.1L99.9 100.3M117.2 89.3L124 97.4M113.4 91.4L120.9 100.2M6.6 109.1L15.5 114.9M3.6 112.2L13.5 118.6M26.7 108.2L34.3 115M24.1 111.4L32.6 119.1M47.2 108.5L54.9 115.6M44.6 111.9L51.8 118.4M68.4 107.7L73.8 116.6M65.1 110.2L70.2 118.7M87.7 107.9L94.7 116.6M84.4 110.6L91.8 119.6M106.6 108.5L114.9 115.1M104.3 112.1L112 118.1M16.1 127.1L24.1 135.5M14.1 131.1L21 138.4M36.1 127L43.8 135.2M33.3 130.2L41 138.4M55.8 128.4L63.9 133.9M52.8 131.5L62.4 137.9M76.8 127.7L84.4 136.1M73.1 129.9L81 138.6M95.9 127.3L103.9 135M93 130.3L101.3 138.4M117.5 127.5L124 136.8M113.7 129.3L120.2 138.7M7.3 145.5L15 153.9M4.1 148.2L11.1 155.8M28.1 145.3L34.6 154.7M24.4 147.3L30.5 156.1M47.9 145.5L54.3 153.7M44.7 148.3L51.5 157M67.4 145.9L74.9 153.5M64.3 148.7L71.4 156M86.2 146.6L95.1 151.9M83.6 149.9L93.5 155.8M106.6 146.7L114.9 152M103.6 149.8L113 155.7"/>
<path fill="none" stroke="#363636" stroke-width="0.95" d="M20.3 53.5L14 61.8M23.3 56.6L17.4 64.3M40.8 52.9L34.1 61.7M43.9 55.8L36.9 64.9M60.5 53.2L54.2 61.7M63.4 56.3L56.9 65.2M81.1 53.3L73.6 61.7M83.6 56.8L76.7 64.5M102.2 53.8L92.9 60.8M104.5 57.4L95.7 63.9M121.4 53.2L113.4 61.6M124.4 56.2L116.9 64M11.4 71.7L4.3 78.6M14.6 74.5L7.2 81.7M31.9 70.6L24.5 79M34.5 74L27.7 81.7M52.4 71.6L44.6 77.7M54.7 75.1L46.4 81.6M72.4 71.1L64.5 78.1M75 74.4L66.5 82M92 71L84.3 78.7M95 73.9L86.8 82.2M112.5 71.9L103.5 78.1M115 75.2L106.8 80.9M21 88.5L13.5 97.6M24.1 91.4L17 100M41.4 89.3L32.9 97M44.6 92L36.3 99.7M61.5 89.2L53.3 96.6M64.6 92.1L56.2 99.8M81.5 89.7L73.2 96.2M84.9 92.4L76 99.3M102.7 89.6L92.6 95.9M103.9 93.8L95 99.3M122.2 88.9L112.9 96.7M124.7 92.3L115.6 100M10.4 108.4L4.7 116.9M14.3 110L8.1 119.5M31.5 108.2L24.6 115.7M34.4 111.3L27.7 118.6M51.7 108L44 116.4M55 110.7L47.4 118.9M72.4 109.3L63.7 114.5M74.6 112.9L66 118M92.1 108.7L84.4 114.9M94.6 112L86.8 118.4M111.1 108.1L104.1 116.9M114.6 110.4L107.7 119.2M21.3 127.7L13.7 135M24.5 130.5L16.4 138.2M41.5 127.6L33.3 135.2M44.2 130.8L36.5 138.1M59.7 127.8L54.3 136M63.5 129.7L57.7 138.5M81.7 127.5L73.8 134.7M84.3 130.8L76.5 138M100.8 128L94 134.9M103.9 130.8L96.8 138M122.2 128.1L112.7 134.6M124.7 131.5L115.5 137.8M12.4 145.4L4.2 153M14.4 149.3L7.3 155.9M33.2 145.9L23.6 152.5M35.4 149.5L26.6 155.5M53.1 145.6L43.4 153.1M55.3 149.2L47 155.6M71.6 145.9L64.1 153.4M75.1 148.4L66.9 156.5M90.1 145.9L84.7 154.9M94.2 147.2L88.5 156.7M110.7 145.2L104.7 154.7M114.4 147.2L108.4 156.7"/>
<g fill="#f4f4f4"><circle cx="18.8" cy="59" r="0.85"/><circle cx="12" cy="63.1" r="0.85"/><circle cx="15" cy="56.8" r="0.85"/><circle cx="19.4" cy="61.9" r="0.85"/><circle cx="13.7" cy="59.7" r="0.85"/><circle cx="21.1" cy="63.4" r="0.85"/><circle cx="15.5" cy="65.7" r="0.85"/><circle cx="24.2" cy="65.9" r="0.85"/><circle cx="12.4" cy="59.8" r="0.85"/><circle cx="11.1" cy="60.6" r="0.85"/><circle cx="21.5" cy="53.5" r="0.85"/><circle cx="11.7" cy="59.8" r="0.85"/><circle cx="22" cy="54.9" r="0.85"/><circle cx="17.9" cy="50.5" r="0.85"/><circle cx="14.7" cy="59.8" r="0.85"/><circle cx="38.8" cy="59" r="0.85"/><circle cx="40.4" cy="66.9" r="0.85"/><circle cx="38.3" cy="53.4" r="0.85"/><circle cx="36.9" cy="51.3" r="0.85"/><circle cx="36.1" cy="61.9" r="0.85"/><circle cx="35" cy="55.3" r="0.85"/><circle cx="45.7" cy="53.6" r="0.85"/><circle cx="32.6" cy="60.2" r="0.85"/><circle cx="47.2" cy="60.9" r="0.85"/><circle cx="46.9" cy="59.9" r="0.85"/><circle cx="42.4" cy="59.7" r="0.85"/><circle cx="35.6" cy="58.9" r="0.85"/><circle cx="34.9" cy="59.7" r="0.85"/><circle cx="40.3" cy="64.6" r="0.85"/><circle cx="44.3" cy="60.3" r="0.85"/><circle cx="58.8" cy="59" r="0.85"/><circle cx="63.2" cy="56.3" r="0.85"/><circle cx="59.7" cy="62.8" r="0.85"/><circle cx="64.4" cy="60.4" r="0.85"/><circle cx="52.9" cy="64.3" r="0.85"/><circle cx="60.4" cy="56.3" r="0.85"/><circle cx="54.6" cy="62" r="0.85"/><circle cx="60.7" cy="62.9" r="0.85"/><circle cx="58.2" cy="66" r="0.85"/><circle cx="56.9" cy="61.9" r="0.85"/><circle cx="59.8" cy="64.4" r="0.85"/><circle cx="54.9" cy="57.3" r="0.85"/><circle cx="57.5" cy="55.1" r="0.85"/><circle cx="55.7" cy="53.3" r="0.85"/><circle cx="62.1" cy="65.5" r="0.85"/><circle cx="78.8" cy="59" r="0.85"/><circle cx="80.2" cy="63.7" r="0.85"/><circle cx="83.3" cy="61.8" r="0.85"/><circle cx="79.8" cy="52" r="0.85"/><circle cx="80.9" cy="51.8" r="0.85"/><circle cx="79.4" cy="66.3" r="0.85"/><circle cx="76.1" cy="56.8" r="0.85"/><circle cx="81" cy="63.2" r="0.85"/><circle cx="75.5" cy="56.6" r="0.85"/><circle cx="86" cy="61.2" r="0.85"/><circle cx="76.3" cy="57" r="0.85"/><circle cx="83.6" cy="55.1" r="0.85"/><circle cx="84.2" cy="59.7" r="0.85"/><circle cx="76.5" cy="50.5" r="0.85"/><circle cx="80.2" cy="61.4" r="0.85"/><circle cx="98.8" cy="59" r="0.85"/><circle cx="92.2" cy="63.4" r="0.85"/><circle cx="94.3" cy="54.4" r="0.85"/><circle cx="102.4" cy="64.7" r="0.85"/><circle cx="103.2" cy="55" r="0.85"/><circle cx="103.4" cy="62.2" r="0.85"/><circle cx="104.2" cy="52.8" r="0.85"/><circle cx="101.7" cy="58.7" r="0.85"/><circle cx="92.9" cy="64.1" r="0.85"/><circle cx="91.1" cy="56.8" r="0.85"/><circle cx="100.5" cy="61.8" r="0.85"/><circle cx="91.2" cy="60.3" r="0.85"/><circle cx="100.9" cy="63.2" r="0.85"/><circle cx="92.3" cy="53.8" r="0.85"/><circle cx="94.7" cy="66.2" r="0.85"/><circle cx="118.8" cy="59" r="0.85"/><circle cx="123.4" cy="51.7" r="0.85"/><circle cx="110.6" cy="59.6" r="0.85"/><circle cx="116.5" cy="54.9" r="0.85"/><circle cx="116.5" cy="65.2" r="0.85"/><circle cx="119.8" cy="54.2" r="0.85"/><circle cx="112.9" cy="56" r="0.85"/><circle cx="118.8" cy="53.9" r="0.85"/><circle cx="115.9" cy="62.4" r="0.85"/><circle cx="125.8" cy="54.4" r="0.85"/><circle cx="118.2" cy="53.7" r="0.85"/><circle cx="113.6" cy="65.2" r="0.85"/><circle cx="115.6" cy="59.8" r="0.85"/><circle cx="125.6" cy="59.6" r="0.85"/><circle cx="111.2" cy="61.3" r="0.85"/><circle cx="9.5" cy="76.5" r="0.85"/><circle cx="9.8" cy="69.8" r="0.85"/><circle cx="5.4" cy="82" r="0.85"/><circle cx="16.4" cy="79.6" r="0.85"/><circle cx="16.5" cy="71.3" r="0.85"/><circle cx="14.8" cy="81.1" r="0.85"/><circle cx="10.2" cy="72.9" r="0.85"/><circle cx="6.5" cy="74" r="0.85"/><circle cx="10.1" cy="79.4" r="0.85"/><circle cx="8" cy="84.3" r="0.85"/><circle cx="3" cy="72.6" r="0.85"/><circle cx="13.1" cy="75.8" r="0.85"/><circle cx="14.2" cy="69.8" r="0.85"/><circle cx="6.7" cy="72.6" r="0.85"/><circle cx="12" cy="81.4" r="0.85"/><circle cx="29.5" cy="76.5" r="0.85"/><circle cx="29.2" cy="68.7" r="0.85"/><circle cx="33.2" cy="83.1" r="0.85"/><circle cx="23" cy="72.1" r="0.85"/><circle cx="36.2" cy="77.1" r="0.85"/><circle cx="23.6" cy="79.3" r="0.85"/><circle cx="36.2" cy="77.8" r="0.85"/><circle cx="24.9" cy="77.4" r="0.85"/><circle cx="35.2" cy="78.9" r="0.85"/><circle cx="22.9" cy="74.1" r="0.85"/><circle cx="32.2" cy="81.4" r="0.85"/><circle cx="23.8" cy="77.2" r="0.85"/><circle cx="27.5" cy="73.1" r="0.85"/><circle cx="26.2" cy="75.3" r="0.85"/><circle cx="30.4" cy="69" r="0.85"/><circle cx="49.5" cy="76.5" r="0.85"/><circle cx="51.1" cy="83.5" r="0.85"/><circle cx="51.1" cy="74" r="0.85"/><circle cx="54.8" cy="81.8" r="0.85"/><circle cx="48.1" cy="80" r="0.85"/><circle cx="51.3" cy="71.7" r="0.85"/><circle cx="46.6" cy="80.2" r="0.85"/><circle cx="48.7" cy="69.3" r="0.85"/><circle cx="50.6" cy="80.3" r="0.85"/><circle cx="42.2" cy="74.1" r="0.85"/><circle cx="48.6" cy="71.4" r="0.85"/><circle cx="51.9" cy="74.4" r="0.85"/><circle cx="46.9" cy="69.2" r="0.85"/><circle cx="53.1" cy="77.2" r="0.85"/><circle cx="47.4" cy="79.2" r="0.85"/><circle cx="69.5" cy="76.5" r="0.85"/><circle cx="66.5" cy="75.5" r="0.85"/><circle cx="70.2" cy="79.3" r="0.85"/><circle cx="73.4" cy="71.2" r="0.85"/><circle cx="68.1" cy="69.8" r="0.85"/><circle cx="63.1" cy="82.1" r="0.85"/><circle cx="72.7" cy="75.3" r="0.85"/><circle cx="76.3" cy="76.2" r="0.85"/><circle cx="77.3" cy="73.4" r="0.85"/><circle cx="65.4" cy="79.3" r="0.85"/><circle cx="66.5" cy="78.1" r="0.85"/><circle cx="64" cy="76" r="0.85"/><circle cx="74.3" cy="78.6" r="0.85"/><circle cx="71" cy="82.5" r="0.85"/><circle cx="66.1" cy="80.4" r="0.85"/><circle cx="89.5" cy="76.5" r="0.85"/><circle cx="85.6" cy="78.1" r="0.85"/><circle cx="88.7" cy="71.8" r="0.85"/><circle cx="92.1" cy="79.2" r="0.85"/><circle cx="82.8" cy="75.4" r="0.85"/><circle cx="85.2" cy="70.5" r="0.85"/><circle cx="88.3" cy="82.5" r="0.85"/><circle cx="94.2" cy="75.5" r="0.85"/><circle cx="83.8" cy="70.5" r="0.85"/><circle cx="92.7" cy="68.5" r="0.85"/><circle cx="95.2" cy="78.1" r="0.85"/><circle cx="81.7" cy="73.1" r="0.85"/><circle cx="92.3" cy="73.8" r="0.85"/><circle cx="92.2" cy="83.7" r="0.85"/><circle cx="83.7" cy="77.6" r="0.85"/><circle cx="109.5" cy="76.5" r="0.85"/><circle cx="113.1" cy="71" r="0.85"/><circle cx="107.1" cy="79.6" r="0.85"/><circle cx="111.6" cy="69.7" r="0.85"/><circle cx="112.9" cy="81.4" r="0.85"/><circle cx="111.8" cy="68.6" r="0.85"/><circle cx="108.1" cy="81.1" r="0.85"/><circle cx="104.2" cy="79.6" r="0.85"/><circle cx="115.8" cy="82.6" r="0.85"/><circle cx="115.2" cy="76.6" r="0.85"/><circle cx="102.5" cy="79.4" r="0.85"/><circle cx="116.7" cy="74.6" r="0.85"/><circle cx="108.7" cy="73.8" r="0.85"/><circle cx="110.7" cy="83.5" r="0.85"/><circle cx="112.1" cy="82.3" r="0.85"/><circle cx="18.8" cy="94.5" r="0.85"/><circle cx="19.6" cy="101.2" r="0.85"/><circle cx="15.2" cy="92.9" r="0.85"/><circle cx="19.3" cy="90.7" r="0.85"/><circle cx="22.1" cy="88.2" r="0.85"/><circle cx="21.8" cy="87" r="0.85"/><circle cx="12.6" cy="98.6" r="0.85"/><circle cx="15.8" cy="87.5" r="0.85"/><circle cx="13.8" cy="97.6" r="0.85"/><circle cx="20.3" cy="86.7" r="0.85"/><circle cx="10.3" cy="94.3" r="0.85"/><circle cx="21.3" cy="88" r="0.85"/><circle cx="13.1" cy="89.4" r="0.85"/><circle cx="10.6" cy="96.3" r="0.85"/><circle cx="15" cy="96.2" r="0.85"/><circle cx="35" cy="95.9" r="0.85"/><circle cx="35.3" cy="95.2" r="0.85"/><circle cx="44.4" cy="97.4" r="0.85"/><circle cx="44" cy="94.8" r="0.85"/><circle cx="35.7" cy="101.5" r="0.85"/><circle cx="35.3" cy="98.7" r="0.85"/><circle cx="36.3" cy="91.6" r="0.85"/><circle cx="34.9" cy="95" r="0.85"/><circle cx="32.6" cy="99" r="0.85"/><circle cx="46.8" cy="91.5" r="0.85"/><circle cx="39.7" cy="91.6" r="0.85"/><circle cx="34.3" cy="96.7" r="0.85"/><circle cx="34.8" cy="98.4" r="0.85"/><circle cx="37.6" cy="92" r="0.85"/><circle cx="56.5" cy="96.5" r="0.85"/><circle cx="53.5" cy="90.7" r="0.85"/><circle cx="54.3" cy="88.5" r="0.85"/><circle cx="53.6" cy="94.8" r="0.85"/><circle cx="64.4" cy="93.4" r="0.85"/><circle cx="59.1" cy="100.5" r="0.85"/><circle cx="57.9" cy="88.4" r="0.85"/><circle cx="55.7" cy="93.9" r="0.85"/><circle cx="65.9" cy="92" r="0.85"/><circle cx="64.1" cy="95.4" r="0.85"/><circle cx="64.9" cy="94.8" r="0.85"/><circle cx="62.6" cy="89.6" r="0.85"/><circle cx="58.6" cy="101.6" r="0.85"/><circle cx="55.2" cy="87.3" r="0.85"/><circle cx="81.7" cy="91.9" r="0.85"/><circle cx="82.1" cy="93.6" r="0.85"/><circle cx="74.2" cy="100.5" r="0.85"/><circle cx="81.8" cy="98.3" r="0.85"/><circle cx="74" cy="97.8" r="0.85"/><circle cx="75.7" cy="97.5" r="0.85"/><circle cx="73.5" cy="96" r="0.85"/><circle cx="76.7" cy="91.7" r="0.85"/><circle cx="86.1" cy="96.2" r="0.85"/><circle cx="74" cy="89.3" r="0.85"/><circle cx="76.8" cy="92" r="0.85"/><circle cx="84.1" cy="100.9" r="0.85"/><circle cx="73.9" cy="94" r="0.85"/><circle cx="78.9" cy="90.4" r="0.85"/><circle cx="98.8" cy="94.5" r="0.85"/><circle cx="100.9" cy="91" r="0.85"/><circle cx="103.3" cy="89" r="0.85"/><circle cx="105.1" cy="93" r="0.85"/><circle cx="103.1" cy="92.9" r="0.85"/><circle cx="107.3" cy="96" r="0.85"/><circle cx="92.6" cy="92.9" r="0.85"/><circle cx="100.9" cy="100" r="0.85"/><circle cx="102.7" cy="101.3" r="0.85"/><circle cx="102" cy="92.2" r="0.85"/><circle cx="95.1" cy="97.6" r="0.85"/><circle cx="93.9" cy="92.1" r="0.85"/><circle cx="95.4" cy="91.3" r="0.85"/><circle cx="102.7" cy="91.2" r="0.85"/><circle cx="96.6" cy="98" r="0.85"/><circle cx="125.3" cy="95.4" r="0.85"/><circle cx="119.9" cy="91" r="0.85"/><circle cx="111.9" cy="99" r="0.85"/><circle cx="125.2" cy="91.7" r="0.85"/><circle cx="111.6" cy="94.8" r="0.85"/><circle cx="115.2" cy="96.2" r="0.85"/><circle cx="120.6" cy="98.6" r="0.85"/><circle cx="113.5" cy="89.2" r="0.85"/><circle cx="114" cy="101.4" r="0.85"/><circle cx="125.7" cy="91.9" r="0.85"/><circle cx="115.8" cy="93.1" r="0.85"/><circle cx="114" cy="89" r="0.85"/><circle cx="126.4" cy="94.1" r="0.85"/><circle cx="113.9" cy="99.7" r="0.85"/><circle cx="9.5" cy="113.5" r="0.85"/><circle cx="12.6" cy="108.5" r="0.85"/><circle cx="12.7" cy="110.1" r="0.85"/><circle cx="8.4" cy="118.3" r="0.85"/><circle cx="4.3" cy="110.1" r="0.85"/><circle cx="5.8" cy="119.4" r="0.85"/><circle cx="17.5" cy="111" r="0.85"/><circle cx="1.7" cy="112.5" r="0.85"/><circle cx="4.9" cy="114.6" r="0.85"/><circle cx="5.8" cy="111.5" r="0.85"/><circle cx="13.3" cy="109.1" r="0.85"/><circle cx="12.9" cy="116.8" r="0.85"/><circle cx="11.2" cy="108.1" r="0.85"/><circle cx="15.4" cy="118.6" r="0.85"/><circle cx="6.7" cy="116" r="0.85"/><circle cx="29.5" cy="113.5" r="0.85"/><circle cx="27.6" cy="111.3" r="0.85"/><circle cx="26.1" cy="114.2" r="0.85"/><circle cx="24.9" cy="110.3" r="0.85"/><circle cx="22.4" cy="112.9" r="0.85"/><circle cx="26.5" cy="117.4" r="0.85"/><circle cx="27.7" cy="116.4" r="0.85"/><circle cx="31.1" cy="117.4" r="0.85"/><circle cx="26.9" cy="114.9" r="0.85"/><circle cx="34.5" cy="107.7" r="0.85"/><circle cx="37.3" cy="112.2" r="0.85"/><circle cx="36.5" cy="114.4" r="0.85"/><circle cx="34.5" cy="107" r="0.85"/><circle cx="30.9" cy="105.3" r="0.85"/><circle cx="25.6" cy="110.6" r="0.85"/><circle cx="49.5" cy="113.5" r="0.85"/><circle cx="57.7" cy="115.8" r="0.85"/><circle cx="52.8" cy="114.7" r="0.85"/><circle cx="52.4" cy="107.9" r="0.85"/><circle cx="43.4" cy="113.4" r="0.85"/><circle cx="44.3" cy="118.4" r="0.85"/><circle cx="42.8" cy="116.7" r="0.85"/><circle cx="52.7" cy="118.8" r="0.85"/><circle cx="55.3" cy="113" r="0.85"/><circle cx="56.7" cy="113.2" r="0.85"/><circle cx="53.7" cy="107.2" r="0.85"/><circle cx="55.4" cy="109.3" r="0.85"/><circle cx="53.7" cy="109.9" r="0.85"/><circle cx="44.3" cy="120.7" r="0.85"/><circle cx="43.7" cy="116.2" r="0.85"/><circle cx="69.5" cy="113.5" r="0.85"/><circle cx="71.7" cy="118.1" r="0.85"/><circle cx="66.9" cy="105.2" r="0.85"/><circle cx="68" cy="118.5" r="0.85"/><circle cx="65.9" cy="114.2" r="0.85"/><circle cx="72.7" cy="116.6" r="0.85"/><circle cx="63.3" cy="117.8" r="0.85"/><circle cx="62.4" cy="111.2" r="0.85"/><circle cx="76.9" cy="116" r="0.85"/><circle cx="75.1" cy="112.1" r="0.85"/><circle cx="65.2" cy="114.8" r="0.85"/><circle cx="69" cy="122" r="0.85"/><circle cx="63.6" cy="114" r="0.85"/><circle cx="68.7" cy="120" r="0.85"/><circle cx="74.5" cy="119.7" r="0.85"/><circle cx="89.5" cy="113.5" r="0.85"/><circle cx="89.5" cy="120.8" r="0.85"/><circle cx="92.8" cy="115.9" r="0.85"/><circle cx="94.6" cy="113.7" r="0.85"/><circle cx="95.3" cy="111.2" r="0.85"/><circle cx="89.8" cy="116.4" r="0.85"/><circle cx="94.8" cy="112.9" r="0.85"/><circle cx="85.3" cy="112.8" r="0.85"/><circle cx="83.4" cy="107.6" r="0.85"/><circle cx="84.6" cy="112.3" r="0.85"/><circle cx="92.3" cy="112" r="0.85"/><circle cx="81.4" cy="114.6" r="0.85"/><circle cx="85.4" cy="116.1" r="0.85"/><circle cx="93.9" cy="108.5" r="0.85"/><circle cx="88.5" cy="108.1" r="0.85"/><circle cx="109.5" cy="113.5" r="0.85"/><circle cx="114.3" cy="112.5" r="0.85"/><circle cx="111.7" cy="107.6" r="0.85"/><circle cx="104.4" cy="107.5" r="0.85"/><circle cx="103.1" cy="119.1" r="0.85"/><circle cx="110" cy="119.1" r="0.85"/><circle cx="111.4" cy="122" r="0.85"/><circle cx="107.1" cy="106.6" r="0.85"/><circle cx="105.4" cy="108.1" r="0.85"/><circle cx="103.1" cy="112.7" r="0.85"/><circle cx="112.7" cy="118.9" r="0.85"/><circle cx="108.2" cy="107.6" r="0.85"/><circle cx="114.7" cy="107.8" r="0.85"/><circle cx="106.6" cy="116.7" r="0.85"/><circle cx="103.1" cy="108.2" r="0.85"/><circle cx="18.8" cy="133" r="0.85"/><circle cx="23.7" cy="133.5" r="0.85"/><circle cx="21.9" cy="133.2" r="0.85"/><circle cx="15.1" cy="127.8" r="0.85"/><circle cx="21.7" cy="133" r="0.85"/><circle cx="24.2" cy="131.2" r="0.85"/><circle cx="11.7" cy="131.3" r="0.85"/><circle cx="20" cy="136.7" r="0.85"/><circle cx="24.6" cy="132.5" r="0.85"/><circle cx="24.6" cy="128.4" r="0.85"/><circle cx="13" cy="133.2" r="0.85"/><circle cx="20.1" cy="125.9" r="0.85"/><circle cx="24.3" cy="131.6" r="0.85"/><circle cx="16.1" cy="136.9" r="0.85"/><circle cx="22.2" cy="127.7" r="0.85"/><circle cx="38.8" cy="133" r="0.85"/><circle cx="44.8" cy="137.1" r="0.85"/><circle cx="39" cy="126.4" r="0.85"/><circle cx="41.9" cy="130.8" r="0.85"/><circle cx="42.9" cy="129.8" r="0.85"/><circle cx="31.7" cy="136.6" r="0.85"/><circle cx="41.5" cy="126.9" r="0.85"/><circle cx="40.5" cy="126.4" r="0.85"/><circle cx="40.9" cy="129.1" r="0.85"/><circle cx="42" cy="140.6" r="0.85"/><circle cx="41.5" cy="131.8" r="0.85"/><circle cx="41.6" cy="135.6" r="0.85"/><circle cx="41.1" cy="128.6" r="0.85"/><circle cx="36" cy="125" r="0.85"/><circle cx="40.6" cy="128.1" r="0.85"/><circle cx="58.8" cy="133" r="0.85"/><circle cx="56.8" cy="136.8" r="0.85"/><circle cx="56.1" cy="139.9" r="0.85"/><circle cx="52.7" cy="138.2" r="0.85"/><circle cx="62.5" cy="135.5" r="0.85"/><circle cx="60" cy="126.3" r="0.85"/><circle cx="64.2" cy="137.5" r="0.85"/><circle cx="65.5" cy="129.3" r="0.85"/><circle cx="63.5" cy="134.9" r="0.85"/><circle cx="57.1" cy="130.3" r="0.85"/><circle cx="52" cy="131.4" r="0.85"/><circle cx="56.4" cy="129.3" r="0.85"/><circle cx="61" cy="139" r="0.85"/><circle cx="51.2" cy="133" r="0.85"/><circle cx="55.3" cy="127.4" r="0.85"/><circle cx="78.8" cy="133" r="0.85"/><circle cx="75.9" cy="135.5" r="0.85"/><circle cx="75" cy="132" r="0.85"/><circle cx="81.1" cy="138.6" r="0.85"/><circle cx="83.9" cy="135.8" r="0.85"/><circle cx="73.1" cy="126.3" r="0.85"/><circle cx="85.7" cy="128.4" r="0.85"/><circle cx="81.7" cy="138.5" r="0.85"/><circle cx="79.5" cy="129.9" r="0.85"/><circle cx="87" cy="134.3" r="0.85"/><circle cx="82.7" cy="133.2" r="0.85"/><circle cx="87" cy="130.2" r="0.85"/><circle cx="70.9" cy="131.9" r="0.85"/><circle cx="86.3" cy="129.7" r="0.85"/><circle cx="82.8" cy="137.2" r="0.85"/><circle cx="98.8" cy="133" r="0.85"/><circle cx="93.7" cy="128.3" r="0.85"/><circle cx="97" cy="129.3" r="0.85"/><circle cx="94" cy="131.6" r="0.85"/><circle cx="102.6" cy="127.3" r="0.85"/><circle cx="101.8" cy="132.6" r="0.85"/><circle cx="99.3" cy="130.2" r="0.85"/><circle cx="96.4" cy="131" r="0.85"/><circle cx="101.9" cy="130.6" r="0.85"/><circle cx="105" cy="127.9" r="0.85"/><circle cx="101.3" cy="135.3" r="0.85"/><circle cx="94.6" cy="135.2" r="0.85"/><circle cx="97.2" cy="126.1" r="0.85"/><circle cx="96.1" cy="127.4" r="0.85"/><circle cx="101.9" cy="137.1" r="0.85"/><circle cx="118.8" cy="133" r="0.85"/><circle cx="121.3" cy="129.7" r="0.85"/><circle cx="111.5" cy="129.6" r="0.85"/><circle cx="119.2" cy="126.1" r="0.85"/><circle cx="115.3" cy="128" r="0.85"/><circle cx="122.7" cy="131.9" r="0.85"/><circle cx="127.2" cy="134" r="0.85"/><circle cx="123.3" cy="132.8" r="0.85"/><circle cx="116.2" cy="138.3" r="0.85"/><circle cx="113.6" cy="135" r="0.85"/><circle cx="117.4" cy="129.3" r="0.85"/><circle cx="111" cy="137" r="0.85"/><circle cx="125.6" cy="132.4" r="0.85"/><circle cx="113.2" cy="134.5" r="0.85"/><circle cx="126.5" cy="132.2" r="0.85"/><circle cx="4.5" cy="145.9" r="0.85"/><circle cx="13.8" cy="144.7" r="0.85"/><circle cx="5.1" cy="153.7" r="0.85"/><circle cx="4.5" cy="150.1" r="0.85"/><circle cx="6" cy="155.8" r="0.85"/><circle cx="6.7" cy="149.5" r="0.85"/><circle cx="4.4" cy="157.1" r="0.85"/><circle cx="8.7" cy="156" r="0.85"/><circle cx="4" cy="149.3" r="0.85"/><circle cx="10.5" cy="147.4" r="0.85"/><circle cx="9.9" cy="154.3" r="0.85"/><circle cx="5.2" cy="146.7" r="0.85"/><circle cx="3.1" cy="155" r="0.85"/><circle cx="17.8" cy="150.8" r="0.85"/><circle cx="31.2" cy="157" r="0.85"/><circle cx="29" cy="158.3" r="0.85"/><circle cx="25.9" cy="151.8" r="0.85"/><circle cx="32" cy="159.2" r="0.85"/><circle cx="25.6" cy="145.9" r="0.85"/><circle cx="32.4" cy="151.9" r="0.85"/><circle cx="32.9" cy="143.7" r="0.85"/><circle cx="35.2" cy="157.7" r="0.85"/><circle cx="30.4" cy="144.9" r="0.85"/><circle cx="25.3" cy="152.3" r="0.85"/><circle cx="25.2" cy="148.5" r="0.85"/><circle cx="33.1" cy="146" r="0.85"/><circle cx="36.2" cy="154.7" r="0.85"/><circle cx="25.8" cy="158.3" r="0.85"/><circle cx="49.5" cy="151" r="0.85"/><circle cx="51.2" cy="155.5" r="0.85"/><circle cx="50.4" cy="153.7" r="0.85"/><circle cx="51.6" cy="157.8" r="0.85"/><circle cx="48.4" cy="145.6" r="0.85"/><circle cx="53.1" cy="147.8" r="0.85"/><circle cx="56.3" cy="149.6" r="0.85"/><circle cx="49.7" cy="155.9" r="0.85"/><circle cx="54.1" cy="154.2" r="0.85"/><circle cx="52.6" cy="148.4" r="0.85"/><circle cx="43.4" cy="146.1" r="0.85"/><circle cx="52" cy="142.9" r="0.85"/><circle cx="42.5" cy="147.9" r="0.85"/><circle cx="42" cy="153.6" r="0.85"/><circle cx="41.8" cy="149.2" r="0.85"/><circle cx="61.9" cy="146.5" r="0.85"/><circle cx="74.1" cy="150.1" r="0.85"/><circle cx="75.7" cy="154.5" r="0.85"/><circle cx="67.8" cy="153.4" r="0.85"/><circle cx="67.3" cy="147.2" r="0.85"/><circle cx="76.1" cy="145.3" r="0.85"/><circle cx="73.5" cy="150.3" r="0.85"/><circle cx="76" cy="145.9" r="0.85"/><circle cx="62.3" cy="151.4" r="0.85"/><circle cx="71.8" cy="158.6" r="0.85"/><circle cx="77.6" cy="153" r="0.85"/><circle cx="70.1" cy="143.4" r="0.85"/><circle cx="65.2" cy="152.8" r="0.85"/><circle cx="68.9" cy="144.6" r="0.85"/><circle cx="89.5" cy="151" r="0.85"/><circle cx="95.3" cy="153.9" r="0.85"/><circle cx="81.9" cy="151.2" r="0.85"/><circle cx="83.2" cy="147.4" r="0.85"/><circle cx="87.5" cy="148.3" r="0.85"/><circle cx="95.1" cy="155.7" r="0.85"/><circle cx="86.3" cy="157.3" r="0.85"/><circle cx="92.9" cy="156.6" r="0.85"/><circle cx="93.7" cy="145.2" r="0.85"/><circle cx="91" cy="144.1" r="0.85"/><circle cx="85.7" cy="154.1" r="0.85"/><circle cx="91.7" cy="153.8" r="0.85"/><circle cx="92.4" cy="153.2" r="0.85"/><circle cx="94.9" cy="153.3" r="0.85"/><circle cx="94.8" cy="146.3" r="0.85"/><circle cx="109.5" cy="151" r="0.85"/><circle cx="104.3" cy="157" r="0.85"/><circle cx="113.2" cy="157.4" r="0.85"/><circle cx="113.1" cy="151.9" r="0.85"/><circle cx="114.7" cy="151.6" r="0.85"/><circle cx="112.9" cy="153.6" r="0.85"/><circle cx="103.8" cy="149.7" r="0.85"/><circle cx="104.5" cy="150.7" r="0.85"/><circle cx="106.6" cy="150.9" r="0.85"/><circle cx="102.6" cy="146.8" r="0.85"/><circle cx="105.5" cy="154.6" r="0.85"/><circle cx="111.8" cy="149" r="0.85"/><circle cx="113.8" cy="149.5" r="0.85"/><circle cx="103.5" cy="145.8" r="0.85"/><circle cx="106.6" cy="145.2" r="0.85"/></g>
<g fill="#f4f4f4" stroke="#909090" stroke-width="0.3"><circle cx="27.6" cy="61.6" r="0.75"/><circle cx="21.7" cy="67.7" r="0.75"/><circle cx="19.3" cy="67.8" r="0.75"/><circle cx="10.4" cy="61.1" r="0.75"/><circle cx="10.7" cy="57" r="0.75"/><circle cx="14" cy="52.5" r="0.75"/><circle cx="25.6" cy="53.3" r="0.75"/><circle cx="26.9" cy="56.6" r="0.75"/><circle cx="47.1" cy="55.9" r="0.75"/><circle cx="46.3" cy="63.6" r="0.75"/><circle cx="43.2" cy="66" r="0.75"/><circle cx="35.2" cy="67.1" r="0.75"/><circle cx="32.2" cy="64.6" r="0.75"/><circle cx="30.9" cy="56.2" r="0.75"/><circle cx="32.7" cy="53.3" r="0.75"/><circle cx="34.1" cy="51.8" r="0.75"/><circle cx="38.8" cy="50.3" r="0.75"/><circle cx="39.8" cy="51" r="0.75"/><circle cx="45.1" cy="52.1" r="0.75"/><circle cx="67.2" cy="59.1" r="0.75"/><circle cx="65.5" cy="63.5" r="0.75"/><circle cx="61.1" cy="66.6" r="0.75"/><circle cx="54.1" cy="66.4" r="0.75"/><circle cx="55.3" cy="66.7" r="0.75"/><circle cx="51.6" cy="62.7" r="0.75"/><circle cx="49.9" cy="60.3" r="0.75"/><circle cx="51.6" cy="55.6" r="0.75"/><circle cx="54.1" cy="51.3" r="0.75"/><circle cx="55.8" cy="51.6" r="0.75"/><circle cx="66.5" cy="57.2" r="0.75"/><circle cx="87.1" cy="56.4" r="0.75"/><circle cx="85.4" cy="63.7" r="0.75"/><circle cx="85.1" cy="64.2" r="0.75"/><circle cx="74.7" cy="66.1" r="0.75"/><circle cx="71.7" cy="63.9" r="0.75"/><circle cx="69.6" cy="58.6" r="0.75"/><circle cx="70.9" cy="56.8" r="0.75"/><circle cx="73.9" cy="52.1" r="0.75"/><circle cx="77.7" cy="50.7" r="0.75"/><circle cx="78.7" cy="50.9" r="0.75"/><circle cx="86.6" cy="57.1" r="0.75"/><circle cx="107.6" cy="61.9" r="0.75"/><circle cx="98.8" cy="67" r="0.75"/><circle cx="91.1" cy="57.2" r="0.75"/><circle cx="92.7" cy="52.6" r="0.75"/><circle cx="98.4" cy="50.8" r="0.75"/><circle cx="99.1" cy="50" r="0.75"/><circle cx="105.5" cy="53.7" r="0.75"/><circle cx="106.2" cy="55" r="0.75"/><circle cx="127.5" cy="57.9" r="0.75"/><circle cx="126.9" cy="61.5" r="0.75"/><circle cx="121.1" cy="67" r="0.75"/><circle cx="112.5" cy="65.2" r="0.75"/><circle cx="110.3" cy="59.6" r="0.75"/><circle cx="117.6" cy="51" r="0.75"/><circle cx="120.6" cy="51" r="0.75"/><circle cx="126.6" cy="54.4" r="0.75"/><circle cx="18.6" cy="78.1" r="0.75"/><circle cx="16.3" cy="82.9" r="0.75"/><circle cx="9.2" cy="85.1" r="0.75"/><circle cx="3" cy="82.6" r="0.75"/><circle cx="0.3" cy="76.1" r="0.75"/><circle cx="5.8" cy="68.4" r="0.75"/><circle cx="10.4" cy="68.2" r="0.75"/><circle cx="15.4" cy="70" r="0.75"/><circle cx="16.4" cy="71.1" r="0.75"/><circle cx="36.5" cy="80.7" r="0.75"/><circle cx="27.4" cy="85.3" r="0.75"/><circle cx="25.7" cy="69.2" r="0.75"/><circle cx="35.1" cy="69.7" r="0.75"/><circle cx="38" cy="74.7" r="0.75"/><circle cx="57.3" cy="75.4" r="0.75"/><circle cx="57.4" cy="78.3" r="0.75"/><circle cx="53.7" cy="84.6" r="0.75"/><circle cx="40.9" cy="75.6" r="0.75"/><circle cx="41.3" cy="73" r="0.75"/><circle cx="48.7" cy="67.6" r="0.75"/><circle cx="54.5" cy="70.2" r="0.75"/><circle cx="78" cy="78.5" r="0.75"/><circle cx="75.7" cy="81.6" r="0.75"/><circle cx="66" cy="84.6" r="0.75"/><circle cx="61" cy="78.8" r="0.75"/><circle cx="63.7" cy="69.5" r="0.75"/><circle cx="66.4" cy="68.5" r="0.75"/><circle cx="74.7" cy="70.5" r="0.75"/><circle cx="77" cy="71.3" r="0.75"/><circle cx="97.8" cy="74.1" r="0.75"/><circle cx="96.6" cy="81.6" r="0.75"/><circle cx="96.3" cy="82" r="0.75"/><circle cx="90.9" cy="84.6" r="0.75"/><circle cx="89.2" cy="84.6" r="0.75"/><circle cx="82.8" cy="80.7" r="0.75"/><circle cx="80.3" cy="76.2" r="0.75"/><circle cx="82.6" cy="71.3" r="0.75"/><circle cx="92.3" cy="68.3" r="0.75"/><circle cx="117.4" cy="79.2" r="0.75"/><circle cx="108.6" cy="85.3" r="0.75"/><circle cx="103" cy="82.9" r="0.75"/><circle cx="101.4" cy="77.6" r="0.75"/><circle cx="101.6" cy="76.3" r="0.75"/><circle cx="102.7" cy="70.9" r="0.75"/><circle cx="113.7" cy="68.9" r="0.75"/><circle cx="118" cy="73.1" r="0.75"/><circle cx="27.9" cy="95.9" r="0.75"/><circle cx="27.4" cy="96.6" r="0.75"/><circle cx="25.4" cy="101" r="0.75"/><circle cx="15.9" cy="102.1" r="0.75"/><circle cx="10.3" cy="95.6" r="0.75"/><circle cx="10.1" cy="96.1" r="0.75"/><circle cx="10" cy="92.8" r="0.75"/><circle cx="13.8" cy="88.3" r="0.75"/><circle cx="16.4" cy="86.6" r="0.75"/><circle cx="17.8" cy="85.3" r="0.75"/><circle cx="21.4" cy="85.7" r="0.75"/><circle cx="27" cy="91.4" r="0.75"/><circle cx="46.8" cy="91.7" r="0.75"/><circle cx="46.2" cy="99.2" r="0.75"/><circle cx="44.9" cy="100.6" r="0.75"/><circle cx="32.8" cy="101.5" r="0.75"/><circle cx="30.4" cy="94.7" r="0.75"/><circle cx="30.3" cy="92.5" r="0.75"/><circle cx="42.5" cy="86.7" r="0.75"/><circle cx="47.4" cy="92" r="0.75"/><circle cx="67.4" cy="94.4" r="0.75"/><circle cx="67.5" cy="96.7" r="0.75"/><circle cx="63.2" cy="101.2" r="0.75"/><circle cx="63.4" cy="101.1" r="0.75"/><circle cx="53.9" cy="100.9" r="0.75"/><circle cx="49.6" cy="93.8" r="0.75"/><circle cx="53.9" cy="86.8" r="0.75"/><circle cx="65.6" cy="89.3" r="0.75"/><circle cx="87.8" cy="95.4" r="0.75"/><circle cx="87.4" cy="97.7" r="0.75"/><circle cx="79.8" cy="102.9" r="0.75"/><circle cx="71.4" cy="99.2" r="0.75"/><circle cx="73.8" cy="87.6" r="0.75"/><circle cx="77.2" cy="86.2" r="0.75"/><circle cx="83.7" cy="88.1" r="0.75"/><circle cx="107.5" cy="96.9" r="0.75"/><circle cx="104.7" cy="99.8" r="0.75"/><circle cx="99.9" cy="102.5" r="0.75"/><circle cx="94" cy="101.8" r="0.75"/><circle cx="90.3" cy="94.7" r="0.75"/><circle cx="93.6" cy="88.1" r="0.75"/><circle cx="96.9" cy="85.9" r="0.75"/><circle cx="102.5" cy="86.7" r="0.75"/><circle cx="100.9" cy="86.8" r="0.75"/><circle cx="105.8" cy="89" r="0.75"/><circle cx="127.3" cy="97.6" r="0.75"/><circle cx="125.5" cy="100.8" r="0.75"/><circle cx="110.4" cy="98.3" r="0.75"/><circle cx="113.3" cy="88.6" r="0.75"/><circle cx="117.3" cy="86.4" r="0.75"/><circle cx="17.4" cy="114.6" r="0.75"/><circle cx="16.6" cy="117.1" r="0.75"/><circle cx="9.1" cy="122.6" r="0.75"/><circle cx="3.5" cy="119.8" r="0.75"/><circle cx="0.8" cy="116.5" r="0.75"/><circle cx="1.4" cy="109.4" r="0.75"/><circle cx="3.3" cy="106.6" r="0.75"/><circle cx="12" cy="105.7" r="0.75"/><circle cx="14.1" cy="106.3" r="0.75"/><circle cx="38.5" cy="113" r="0.75"/><circle cx="36.7" cy="118.6" r="0.75"/><circle cx="30.3" cy="121.8" r="0.75"/><circle cx="26" cy="120.6" r="0.75"/><circle cx="23.3" cy="120.2" r="0.75"/><circle cx="22" cy="118.3" r="0.75"/><circle cx="21.7" cy="111" r="0.75"/><circle cx="20.6" cy="112.2" r="0.75"/><circle cx="32.1" cy="104.9" r="0.75"/><circle cx="35.7" cy="108" r="0.75"/><circle cx="38" cy="113.3" r="0.75"/><circle cx="58.3" cy="111.4" r="0.75"/><circle cx="53.9" cy="121.3" r="0.75"/><circle cx="42" cy="118.6" r="0.75"/><circle cx="41.7" cy="117.7" r="0.75"/><circle cx="41.5" cy="113" r="0.75"/><circle cx="43.3" cy="107.8" r="0.75"/><circle cx="43.6" cy="108" r="0.75"/><circle cx="52.7" cy="105.7" r="0.75"/><circle cx="77.7" cy="110.1" r="0.75"/><circle cx="75.2" cy="120.8" r="0.75"/><circle cx="70.4" cy="122" r="0.75"/><circle cx="65.2" cy="120.9" r="0.75"/><circle cx="63.6" cy="119.8" r="0.75"/><circle cx="61.1" cy="113.2" r="0.75"/><circle cx="63.9" cy="106.4" r="0.75"/><circle cx="65.6" cy="105.4" r="0.75"/><circle cx="71.5" cy="105.1" r="0.75"/><circle cx="74.1" cy="106.8" r="0.75"/><circle cx="77.5" cy="109.1" r="0.75"/><circle cx="98" cy="110.7" r="0.75"/><circle cx="98.6" cy="114.9" r="0.75"/><circle cx="88.8" cy="121.4" r="0.75"/><circle cx="85.9" cy="121" r="0.75"/><circle cx="83.7" cy="120" r="0.75"/><circle cx="81.2" cy="114.9" r="0.75"/><circle cx="81.9" cy="110.8" r="0.75"/><circle cx="85.5" cy="106.4" r="0.75"/><circle cx="89.2" cy="105.1" r="0.75"/><circle cx="95.5" cy="106.5" r="0.75"/><circle cx="117.8" cy="112.2" r="0.75"/><circle cx="116.2" cy="119.5" r="0.75"/><circle cx="114.5" cy="119.7" r="0.75"/><circle cx="103.3" cy="118.8" r="0.75"/><circle cx="102.3" cy="118.1" r="0.75"/><circle cx="101.3" cy="115.7" r="0.75"/><circle cx="106" cy="106.1" r="0.75"/><circle cx="111.9" cy="104.8" r="0.75"/><circle cx="114.2" cy="106.9" r="0.75"/><circle cx="27" cy="134.4" r="0.75"/><circle cx="27.3" cy="133.8" r="0.75"/><circle cx="23.9" cy="140.4" r="0.75"/><circle cx="19.4" cy="141.3" r="0.75"/><circle cx="13.9" cy="139.2" r="0.75"/><circle cx="10.6" cy="129.1" r="0.75"/><circle cx="14.3" cy="126.4" r="0.75"/><circle cx="17.4" cy="123.8" r="0.75"/><circle cx="22.1" cy="125.4" r="0.75"/><circle cx="25.6" cy="127.2" r="0.75"/><circle cx="38.9" cy="141.2" r="0.75"/><circle cx="39.3" cy="140.9" r="0.75"/><circle cx="33.8" cy="140.2" r="0.75"/><circle cx="31.6" cy="138.6" r="0.75"/><circle cx="30.6" cy="132.9" r="0.75"/><circle cx="30" cy="131" r="0.75"/><circle cx="34" cy="126.3" r="0.75"/><circle cx="41.4" cy="125.3" r="0.75"/><circle cx="66.5" cy="130.5" r="0.75"/><circle cx="66.7" cy="137.2" r="0.75"/><circle cx="63" cy="141.3" r="0.75"/><circle cx="52.6" cy="138.2" r="0.75"/><circle cx="51" cy="131.1" r="0.75"/><circle cx="58.5" cy="124.9" r="0.75"/><circle cx="65.5" cy="127.2" r="0.75"/><circle cx="66.3" cy="129.8" r="0.75"/><circle cx="87.2" cy="131.4" r="0.75"/><circle cx="86.5" cy="136.8" r="0.75"/><circle cx="84.5" cy="138.7" r="0.75"/><circle cx="83.3" cy="140.6" r="0.75"/><circle cx="73.8" cy="140.5" r="0.75"/><circle cx="70.5" cy="129.4" r="0.75"/><circle cx="72.8" cy="126.9" r="0.75"/><circle cx="83.7" cy="126.2" r="0.75"/><circle cx="84.9" cy="127.5" r="0.75"/><circle cx="99" cy="141.6" r="0.75"/><circle cx="93.1" cy="138.7" r="0.75"/><circle cx="91.1" cy="128.8" r="0.75"/><circle cx="127.6" cy="134" r="0.75"/><circle cx="123.6" cy="140.9" r="0.75"/><circle cx="118" cy="142.2" r="0.75"/><circle cx="113.9" cy="140.5" r="0.75"/><circle cx="111.3" cy="136.7" r="0.75"/><circle cx="110.7" cy="128.5" r="0.75"/><circle cx="111.8" cy="127.4" r="0.75"/><circle cx="125" cy="127.6" r="0.75"/><circle cx="18.4" cy="149" r="0.75"/><circle cx="17.3" cy="153" r="0.75"/><circle cx="10.2" cy="160.2" r="0.75"/><circle cx="10.6" cy="160.2" r="0.75"/><circle cx="5" cy="158.3" r="0.75"/><circle cx="2.3" cy="155.5" r="0.75"/><circle cx="0.9" cy="148.7" r="0.75"/><circle cx="3.8" cy="144.9" r="0.75"/><circle cx="7.3" cy="143.1" r="0.75"/><circle cx="10.4" cy="142.1" r="0.75"/><circle cx="38.1" cy="151.4" r="0.75"/><circle cx="36.5" cy="156.9" r="0.75"/><circle cx="35.8" cy="157.5" r="0.75"/><circle cx="27.3" cy="159.7" r="0.75"/><circle cx="20.6" cy="151.3" r="0.75"/><circle cx="31.7" cy="142.3" r="0.75"/><circle cx="36.2" cy="145.1" r="0.75"/><circle cx="58.7" cy="151.9" r="0.75"/><circle cx="51.7" cy="159.1" r="0.75"/><circle cx="44.2" cy="157.9" r="0.75"/><circle cx="42.5" cy="155.9" r="0.75"/><circle cx="41" cy="153.4" r="0.75"/><circle cx="42.3" cy="146.7" r="0.75"/><circle cx="44.1" cy="144.2" r="0.75"/><circle cx="50.6" cy="142.3" r="0.75"/><circle cx="50.9" cy="142.9" r="0.75"/><circle cx="53.5" cy="142.9" r="0.75"/><circle cx="74" cy="158" r="0.75"/><circle cx="72" cy="158.9" r="0.75"/><circle cx="65.3" cy="143" r="0.75"/><circle cx="64.2" cy="144.1" r="0.75"/><circle cx="70.8" cy="143.1" r="0.75"/><circle cx="76.2" cy="145.6" r="0.75"/><circle cx="98" cy="153.3" r="0.75"/><circle cx="94.7" cy="158.2" r="0.75"/><circle cx="90.3" cy="158.9" r="0.75"/><circle cx="88.3" cy="159.8" r="0.75"/><circle cx="84.5" cy="158.8" r="0.75"/><circle cx="81.5" cy="150.2" r="0.75"/><circle cx="85.3" cy="143.8" r="0.75"/><circle cx="87.8" cy="142.2" r="0.75"/><circle cx="93" cy="142.7" r="0.75"/><circle cx="96.3" cy="145.4" r="0.75"/><circle cx="116.9" cy="154.6" r="0.75"/><circle cx="106.2" cy="158.9" r="0.75"/><circle cx="101.8" cy="155.6" r="0.75"/><circle cx="101.3" cy="150.1" r="0.75"/><circle cx="105" cy="143.1" r="0.75"/><circle cx="104.5" cy="143.3" r="0.75"/><circle cx="114.4" cy="144.3" r="0.75"/><circle cx="117.5" cy="148.1" r="0.75"/></g>
<circle cx="18.6" cy="52.5" r="1.45" fill="#d41010"/>
<circle cx="22.1" cy="54" r="1.4" fill="#d41010"/>
<circle cx="19.72" cy="54.72" r="1.2" fill="#c81010"/>
<circle cx="20.47" cy="52.97" r="0.85" fill="#e8f4f4"/>
<circle cx="39.84" cy="63.3" r="1.45" fill="#d41010"/>
<circle cx="43.01" cy="65.4" r="1.4" fill="#d41010"/>
<circle cx="40.54" cy="65.68" r="1.2" fill="#c81010"/>
<circle cx="41.59" cy="64.1" r="0.85" fill="#e8f4f4"/>
<circle cx="58.6" cy="52.5" r="1.45" fill="#d41010"/>
<circle cx="62.1" cy="54" r="1.4" fill="#d41010"/>
<circle cx="59.72" cy="54.72" r="1.2" fill="#c81010"/>
<circle cx="60.47" cy="52.97" r="0.85" fill="#e8f4f4"/>
<circle cx="79.84" cy="63.3" r="1.45" fill="#d41010"/>
<circle cx="83.01" cy="65.4" r="1.4" fill="#d41010"/>
<circle cx="80.54" cy="65.68" r="1.2" fill="#c81010"/>
<circle cx="81.59" cy="64.1" r="0.85" fill="#e8f4f4"/>
<circle cx="98.6" cy="52.5" r="1.45" fill="#d41010"/>
<circle cx="102.1" cy="54" r="1.4" fill="#d41010"/>
<circle cx="99.72" cy="54.72" r="1.2" fill="#c81010"/>
<circle cx="100.47" cy="52.97" r="0.85" fill="#e8f4f4"/>
<circle cx="119.84" cy="63.3" r="1.45" fill="#d41010"/>
<circle cx="123.01" cy="65.4" r="1.4" fill="#d41010"/>
<circle cx="120.54" cy="65.68" r="1.2" fill="#c81010"/>
<circle cx="121.59" cy="64.1" r="0.85" fill="#e8f4f4"/>
<circle cx="6.1" cy="71.86" r="1.45" fill="#d41010"/>
<circle cx="9.4" cy="73.74" r="1.4" fill="#d41010"/>
<circle cx="6.96" cy="74.19" r="1.2" fill="#c81010"/>
<circle cx="7.9" cy="72.54" r="0.85" fill="#e8f4f4"/>
<circle cx="25.99" cy="81.51" r="1.45" fill="#d41010"/>
<circle cx="29.66" cy="82.49" r="1.4" fill="#d41010"/>
<circle cx="27.41" cy="83.55" r="1.2" fill="#c81010"/>
<circle cx="27.9" cy="81.71" r="0.85" fill="#e8f4f4"/>
<circle cx="46.1" cy="71.86" r="1.45" fill="#d41010"/>
<circle cx="49.4" cy="73.74" r="1.4" fill="#d41010"/>
<circle cx="46.96" cy="74.19" r="1.2" fill="#c81010"/>
<circle cx="47.9" cy="72.54" r="0.85" fill="#e8f4f4"/>
<circle cx="65.99" cy="81.51" r="1.45" fill="#d41010"/>
<circle cx="69.66" cy="82.49" r="1.4" fill="#d41010"/>
<circle cx="67.41" cy="83.55" r="1.2" fill="#c81010"/>
<circle cx="67.9" cy="81.71" r="0.85" fill="#e8f4f4"/>
<circle cx="86.1" cy="71.86" r="1.45" fill="#d41010"/>
<circle cx="89.4" cy="73.74" r="1.4" fill="#d41010"/>
<circle cx="86.96" cy="74.19" r="1.2" fill="#c81010"/>
<circle cx="87.9" cy="72.54" r="0.85" fill="#e8f4f4"/>
<circle cx="105.99" cy="81.51" r="1.45" fill="#d41010"/>
<circle cx="109.66" cy="82.49" r="1.4" fill="#d41010"/>
<circle cx="107.41" cy="83.55" r="1.2" fill="#c81010"/>
<circle cx="107.9" cy="81.71" r="0.85" fill="#e8f4f4"/>
<circle cx="18.6" cy="88" r="1.45" fill="#d41010"/>
<circle cx="22.1" cy="89.5" r="1.4" fill="#d41010"/>
<circle cx="19.72" cy="90.22" r="1.2" fill="#c81010"/>
<circle cx="20.47" cy="88.47" r="0.85" fill="#e8f4f4"/>
<circle cx="39.84" cy="98.8" r="1.45" fill="#d41010"/>
<circle cx="43.01" cy="100.9" r="1.4" fill="#d41010"/>
<circle cx="40.54" cy="101.18" r="1.2" fill="#c81010"/>
<circle cx="41.59" cy="99.6" r="0.85" fill="#e8f4f4"/>
<circle cx="58.6" cy="88" r="1.45" fill="#d41010"/>
<circle cx="62.1" cy="89.5" r="1.4" fill="#d41010"/>
<circle cx="59.72" cy="90.22" r="1.2" fill="#c81010"/>
<circle cx="60.47" cy="88.47" r="0.85" fill="#e8f4f4"/>
<circle cx="79.84" cy="98.8" r="1.45" fill="#d41010"/>
<circle cx="83.01" cy="100.9" r="1.4" fill="#d41010"/>
<circle cx="80.54" cy="101.18" r="1.2" fill="#c81010"/>
<circle cx="81.59" cy="99.6" r="0.85" fill="#e8f4f4"/>
<circle cx="98.6" cy="88" r="1.45" fill="#d41010"/>
<circle cx="102.1" cy="89.5" r="1.4" fill="#d41010"/>
<circle cx="99.72" cy="90.22" r="1.2" fill="#c81010"/>
<circle cx="100.47" cy="88.47" r="0.85" fill="#e8f4f4"/>
<circle cx="119.84" cy="98.8" r="1.45" fill="#d41010"/>
<circle cx="123.01" cy="100.9" r="1.4" fill="#d41010"/>
<circle cx="120.54" cy="101.18" r="1.2" fill="#c81010"/>
<circle cx="121.59" cy="99.6" r="0.85" fill="#e8f4f4"/>
<circle cx="6.1" cy="108.86" r="1.45" fill="#d41010"/>
<circle cx="9.4" cy="110.74" r="1.4" fill="#d41010"/>
<circle cx="6.96" cy="111.19" r="1.2" fill="#c81010"/>
<circle cx="7.9" cy="109.54" r="0.85" fill="#e8f4f4"/>
<circle cx="25.99" cy="118.51" r="1.45" fill="#d41010"/>
<circle cx="29.66" cy="119.49" r="1.4" fill="#d41010"/>
<circle cx="27.41" cy="120.55" r="1.2" fill="#c81010"/>
<circle cx="27.9" cy="118.71" r="0.85" fill="#e8f4f4"/>
<circle cx="46.1" cy="108.86" r="1.45" fill="#d41010"/>
<circle cx="49.4" cy="110.74" r="1.4" fill="#d41010"/>
<circle cx="46.96" cy="111.19" r="1.2" fill="#c81010"/>
<circle cx="47.9" cy="109.54" r="0.85" fill="#e8f4f4"/>
<circle cx="65.99" cy="118.51" r="1.45" fill="#d41010"/>
<circle cx="69.66" cy="119.49" r="1.4" fill="#d41010"/>
<circle cx="67.41" cy="120.55" r="1.2" fill="#c81010"/>
<circle cx="67.9" cy="118.71" r="0.85" fill="#e8f4f4"/>
<circle cx="86.1" cy="108.86" r="1.45" fill="#d41010"/>
<circle cx="89.4" cy="110.74" r="1.4" fill="#d41010"/>
<circle cx="86.96" cy="111.19" r="1.2" fill="#c81010"/>
<circle cx="87.9" cy="109.54" r="0.85" fill="#e8f4f4"/>
<circle cx="105.99" cy="118.51" r="1.45" fill="#d41010"/>
<circle cx="109.66" cy="119.49" r="1.4" fill="#d41010"/>
<circle cx="107.41" cy="120.55" r="1.2" fill="#c81010"/>
<circle cx="107.9" cy="118.71" r="0.85" fill="#e8f4f4"/>
<circle cx="18.6" cy="126.5" r="1.45" fill="#d41010"/>
<circle cx="22.1" cy="128" r="1.4" fill="#d41010"/>
<circle cx="19.72" cy="128.72" r="1.2" fill="#c81010"/>
<circle cx="20.47" cy="126.97" r="0.85" fill="#e8f4f4"/>
<circle cx="39.84" cy="137.3" r="1.45" fill="#d41010"/>
<circle cx="43.01" cy="139.4" r="1.4" fill="#d41010"/>
<circle cx="40.54" cy="139.68" r="1.2" fill="#c81010"/>
<circle cx="41.59" cy="138.1" r="0.85" fill="#e8f4f4"/>
<circle cx="58.6" cy="126.5" r="1.45" fill="#d41010"/>
<circle cx="62.1" cy="128" r="1.4" fill="#d41010"/>
<circle cx="59.72" cy="128.72" r="1.2" fill="#c81010"/>
<circle cx="60.47" cy="126.97" r="0.85" fill="#e8f4f4"/>
<circle cx="79.84" cy="137.3" r="1.45" fill="#d41010"/>
<circle cx="83.01" cy="139.4" r="1.4" fill="#d41010"/>
<circle cx="80.54" cy="139.68" r="1.2" fill="#c81010"/>
<circle cx="81.59" cy="138.1" r="0.85" fill="#e8f4f4"/>
<circle cx="98.6" cy="126.5" r="1.45" fill="#d41010"/>
<circle cx="102.1" cy="128" r="1.4" fill="#d41010"/>
<circle cx="99.72" cy="128.72" r="1.2" fill="#c81010"/>
<circle cx="100.47" cy="126.97" r="0.85" fill="#e8f4f4"/>
<circle cx="119.84" cy="137.3" r="1.45" fill="#d41010"/>
<circle cx="123.01" cy="139.4" r="1.4" fill="#d41010"/>
<circle cx="120.54" cy="139.68" r="1.2" fill="#c81010"/>
<circle cx="121.59" cy="138.1" r="0.85" fill="#e8f4f4"/>
<circle cx="6.1" cy="146.36" r="1.45" fill="#d41010"/>
<circle cx="9.4" cy="148.24" r="1.4" fill="#d41010"/>
<circle cx="6.96" cy="148.69" r="1.2" fill="#c81010"/>
<circle cx="7.9" cy="147.04" r="0.85" fill="#e8f4f4"/>
<circle cx="25.99" cy="156.01" r="1.45" fill="#d41010"/>
<circle cx="29.66" cy="156.99" r="1.4" fill="#d41010"/>
<circle cx="27.41" cy="158.05" r="1.2" fill="#c81010"/>
<circle cx="27.9" cy="156.21" r="0.85" fill="#e8f4f4"/>
<circle cx="46.1" cy="146.36" r="1.45" fill="#d41010"/>
<circle cx="49.4" cy="148.24" r="1.4" fill="#d41010"/>
<circle cx="46.96" cy="148.69" r="1.2" fill="#c81010"/>
<circle cx="47.9" cy="147.04" r="0.85" fill="#e8f4f4"/>
<circle cx="65.99" cy="156.01" r="1.45" fill="#d41010"/>
<circle cx="69.66" cy="156.99" r="1.4" fill="#d41010"/>
<circle cx="67.41" cy="158.05" r="1.2" fill="#c81010"/>
<circle cx="67.9" cy="156.21" r="0.85" fill="#e8f4f4"/>
<circle cx="86.1" cy="146.36" r="1.45" fill="#d41010"/>
<circle cx="89.4" cy="148.24" r="1.4" fill="#d41010"/>
<circle cx="86.96" cy="148.69" r="1.2" fill="#c81010"/>
<circle cx="87.9" cy="147.04" r="0.85" fill="#e8f4f4"/>
<circle cx="105.99" cy="156.01" r="1.45" fill="#d41010"/>
<circle cx="109.66" cy="156.99" r="1.4" fill="#d41010"/>
<circle cx="107.41" cy="158.05" r="1.2" fill="#c81010"/>
<circle cx="107.9" cy="156.21" r="0.85" fill="#e8f4f4"/>
<path fill="#e0e0e0" d="M160.8 61.3L158.6 65.6L155.1 67.3L149.5 68.7L147.1 65.5L145.7 59.1L147.2 55.3L149.6 52.1L154.1 52.5L158.6 56.1ZM178.5 59.5L177.5 63.4L175.1 68L169.2 68.3L163.9 63.7L164.8 60.2L164.4 54.4L169.1 50.9L173.6 51.5L179.1 54.1ZM197.9 58.4L198.5 63.2L192.8 67.6L188.6 67.4L184.5 63.6L184.7 59.8L184.1 53.2L189.6 51.6L193.2 49.9L197 55.3ZM218.1 59.1L217.6 64.1L214.3 66.2L208.8 65.9L204.7 63.7L203.2 60L204.1 53.9L209.6 51.3L212.9 50.4L217.5 55.1ZM237.3 58.9L237.3 64.5L231.8 67.2L229 67.3L223.3 64.9L223 58.6L224.1 52.9L226.8 51.6L234.3 50.7L236 53.3ZM258.3 57.7L255 62.4L253 67L247.3 65.6L242.5 63.4L240.9 58.9L243.7 54L247.7 50.9L251.6 49.6L256.4 54.1ZM155.8 77.5L153.1 82.8L148.8 86.1L144.6 85.2L141 80.6L139 78L141.6 72.8L144.2 70.6L149.5 69.7L153.9 73ZM177.3 78.3L174.9 80.7L170.9 85.4L166.8 85L162.6 80.4L160.6 77.1L162.3 70.8L166 69.2L171.5 69.3L174.8 72.9ZM197.1 76.4L194.1 82.2L190.5 84.5L187.2 84.1L181.3 82.2L180.5 77.1L182.4 73L186.6 70.2L190.2 69.4L195 73.7ZM214.1 78.3L212.9 82.7L209.7 84.3L205.3 85.2L200.5 81L197.9 79L200.6 73.1L204.2 70.9L209.5 70.6L211.9 73.3ZM234.2 75.3L233.8 81L228.7 84.5L225.5 83.5L221.5 81.4L218.2 75.8L221.3 70.6L224.5 68.4L228 68.6L231.9 71ZM254.2 78.4L251.5 83.3L247.9 85L244.1 85.8L239.3 83L237.4 78.7L239.9 72.9L243 69.9L247.1 70.6L252.6 72.4ZM158.6 94.8L158.1 98.1L155.1 101.2L149 100.9L146.4 98.2L144.9 94.5L146.2 88.4L149.6 87.2L154.1 86.5L158 88.9ZM179.7 92L176.9 98.1L173.6 99.4L169.2 100.7L165.3 96.2L163.1 91.4L163.8 87.4L169.1 85.5L174.1 84.4L177 88.4ZM198.2 94.1L195.7 98L191.9 100.5L186 100.9L182 97.1L181 91.9L183.5 87.9L186.9 84.1L191.5 83.4L194.7 87.8ZM219.2 94.2L218.2 98.3L213.1 101.4L208.8 101.5L205.2 98.8L203.2 93.4L204.7 88.2L208.7 86.7L212.7 85.7L218.4 89.1ZM238.9 92.6L237.9 97.5L234.2 100.2L229.9 101.3L224.8 98.8L224.4 93.7L227 88.4L229.9 84.9L233.3 85.7L237.8 87.8ZM257.8 93.7L257 98.5L253.8 101.4L248.9 102.4L244.5 99.1L242.8 93.6L245.2 89.1L248.5 85.4L253.9 86.2L258 90.3ZM146.6 111.5L144.6 118.8L140.3 119.5L136.3 121.4L132.2 117.3L131.1 111.2L133.1 107.9L134.7 104.2L140.9 105.4L144.8 107.2ZM164.9 113.2L163.1 118.3L161.3 121.3L155 120.9L150.7 117.1L149.2 113.9L151.2 107L156 104.1L160.7 105L163.5 109.4ZM186 112.1L184.9 117.5L180.9 120L174.8 121.5L172.5 118.7L169.9 111.9L172.6 109.5L176.2 106.5L180.5 106L183.7 108.6ZM204.5 113.1L203.6 117.8L200.5 120.5L195.3 120.9L191.8 117.3L189.7 113.9L191.9 107.8L193.4 104.7L199.4 106L203.4 107ZM224.6 113.9L223.4 118.2L218.8 122.3L215 121.4L210.7 117.3L210.6 112.3L211.4 109.2L215.7 106.4L219.8 105.2L223.2 107.8ZM242.8 114.6L240.5 117.3L237.1 120.6L232.7 120.9L228.7 118L226.9 113.1L228.4 109.1L230.7 104.7L237.4 106.3L241 109.2ZM154 130.6L152.7 133.8L149.1 136.6L144.4 136.7L141.3 135.1L138.1 131.3L139.8 124.1L143.8 123.6L149.5 121.8L152 124.9ZM174.7 131.2L173.3 135.8L168.9 137.5L164.8 138.1L160.5 134.4L159.2 129.7L161.1 126L164 121.8L168.6 122.2L172.4 125.1ZM192.3 129.9L189.3 135L185.9 137.3L182.3 136.8L177.7 135.9L176.5 130.1L176.5 124.6L182.6 122.7L186.5 121.1L189.8 124.3ZM214.4 128.8L212.4 135.9L208.8 138.7L204.7 138.4L201.1 135.3L197.7 131L200.4 126L205 121L210 121.6L212.6 124.2ZM230.8 128.8L229.2 134.3L225.5 138.1L220.5 138L218.4 133.6L216.2 129.1L217.4 124.1L220.6 121.9L227.7 121.4L229.1 125.1ZM253.7 131.1L250.7 134.8L248.4 138.8L243.4 138.2L237.5 135L237 131.1L237.4 126.1L241.9 122.2L247.3 121.8L251.7 124.4ZM147.3 149.3L146.6 155.5L141.7 157.3L137.8 157.9L133.9 152.7L132.4 149.3L133.8 146L138.3 140.9L143.1 141.2L145.3 145.2ZM167.2 148.6L165.4 153.7L162.3 157.5L157.4 158.7L153 154.3L153.4 148.9L153.9 145.7L157.8 141.6L163.1 141.3L166.5 143.4ZM187 149.2L186.3 155.1L182.1 156.3L177 157.8L174.1 154.9L173.2 148.1L173 143.9L178.4 140.7L181.5 139.7L186.6 144.9ZM207.5 149.1L205.5 152.9L201.5 158.6L196.2 156.6L193 154.9L193 150.3L193.3 144.9L197.3 141.3L201.4 141.7L207 144.7ZM226 149L224.6 154L220.3 157.8L217.2 156.9L213.4 154.5L209.6 148.1L211.5 145L216.5 141L220.7 140L224.2 144ZM246.9 150.2L243.5 153.7L241.1 158.2L234.6 158.1L232.7 152.9L230.4 148.9L231.4 145.4L236 142L239.6 142.5L244.3 143.4Z"/>
<path fill="none" stroke="#a4a4a4" stroke-width="0.8" d="M159.1 59.4L161.8 57.6M157.7 62.4L160.6 65.1M151.3 66.3L151.2 69.6M147.6 62.5L144.1 64.4M147.2 55.9L143.7 54.4M150.3 54.1L148.5 51.6M152.3 54.5L150.9 50.3M157.5 57.5L161.4 58M165.8 62.4L163.5 64.7M194.8 63.6L194.6 67.9M185.9 61.3L182 61.4M187.2 55.5L183.4 53.5M187.3 54.5L185.4 51.4M197 56.1L199.7 55.7M218.1 59L220.1 57.2M212.4 65.6L213.9 68.1M208.5 64.1L204.2 66.8M208.7 53.9L207.9 51.1M212.2 54.2L213.2 49.1M232.4 64.4L233.4 68.4M229.5 64.8L231.5 69.7M225.2 63.1L222.3 64.5M223.7 58.6L221.3 57.3M225.1 57L220.5 57.8M226.7 54.2L225.3 51.4M256.2 57.4L258.8 56.2M251.7 52.7L254.3 50.5M152.6 77.6L155.6 80.6M151.4 80.8L152.6 85M150.3 73L152.1 69.7M171.8 82.6L172.9 85.1M164.5 82L162.7 84.5M162 77.7L159.3 77.2M163.6 75.2L159.6 76.6M172.8 71.8L173.4 69M173.2 74.1L176.6 73M195.8 77.1L199 76.6M189.2 71.7L187.4 68.2M211.6 80.7L213.1 84.4M210.4 82.1L213.3 84.2M205.7 84L206.5 86.8M202 80.1L199.8 84.4M200.7 75.3L198.2 71.6M211.7 73.4L212.9 69.6M223.7 70.9L221.4 68.9M231.7 73.4L234 69.2M248.6 82.5L252.1 84.8M240.5 73.2L237.4 74M245.5 72.1L243.9 68M247.8 72.4L249.1 67.6M147.7 99.1L144.4 101M146.8 95.8L144 99M148.2 88.6L147.9 84.9M157.9 91L160.9 88.7M176 95.8L180.3 96.5M170.2 87.4L166.5 83.5M174.6 87.1L174 82.7M177.3 89.8L180.2 91.1M193.1 96.9L195.1 100.9M184 90.3L180.1 89.4M194.5 88.6L197.1 85.6M216.2 96.3L219.1 98.3M212.6 98.9L216.4 101.2M211.2 99.4L212.4 102.8M207.3 99L206.4 102.1M205.9 96.7L201.5 97.5M207.2 88.1L204.4 85.9M237.9 96.1L240.5 97.4M235.3 98.4L237.5 101.7M228 97.5L226.1 101.7M227.1 89.9L222.4 89.3M231.8 86.8L232.2 83.3M248.1 99.3L246.7 102.6M246.5 90.6L244 87.5M247.6 89.5L245.4 85.9M255.8 91.2L257.6 88.2M144.6 113.2L147.1 115.2M143.3 115.7L144.2 119.6M141.7 117.2L142.1 120.3M137.1 106.3L138.4 101.7M140.5 106.7L140.2 102.8M183.5 114.1L187.4 117.2M178.6 119.8L175.8 123.4M174.6 118.8L173 121.5M174.1 109.9L171 106.7M180.6 107L179.6 104.4M182.5 109.9L186.4 106.9M204 113.5L206.8 110.7M202.8 115.4L205.3 118.8M200.2 118.3L204.2 121.1M200.7 107.8L202.2 105.2M222.8 116.7L225 119.2M221.3 118.5L222.3 121.3M212.5 117.1L208.9 118.6M211.6 110.6L209.5 108.3M214.2 108.8L210.2 107.5M220.6 108.7L220.9 104.2M240.8 112.2L243.5 113.8M229.9 116.9L224.8 117M230.1 110.3L227.6 106.2M152.1 129.4L156.9 129.7M143.8 135.4L141.8 138.2M146.8 124L145.1 121.2M150.5 125.6L151.2 120.4M171.8 132.5L173.7 135.9M168.5 136L170.6 138.8M166.4 135.8L168.9 140M160.5 127.3L156.5 128.3M163.3 126L160 124.2M190.8 129.1L193.1 131.1M189 133L192 135.7M178.1 133L176.8 135.8M178.4 130.3L174.6 130.1M179.2 126.8L177.8 123.2M188.4 126.2L193.2 125.2M211.8 129.2L216.2 127.9M210.8 133.2L215.5 133.8M209.5 134.8L212.4 138.3M206.4 136.1L204 138.6M200.1 129.8L196.4 129.6M207 124L207.7 119.9M220.3 134.2L218.5 136.9M219 127.2L214.9 125.3M248.5 136.1L249.4 138.2M245.3 136.9L246.6 140M241.6 136L239.9 139.3M242 125.8L240.6 122.3M134.4 151.7L132.1 154.5M136.5 145.2L132.7 143.9M145.3 147.2L148.4 144.6M165.3 153L168.6 154.9M162.7 155.2L164.5 158.1M159.9 156.4L161.4 159.5M159.9 143.4L159.6 140.1M165.7 146.3L168.9 147.6M174.5 152.6L173.6 156.8M202.5 155L201.4 158.2M193.8 151.3L191.7 154.2M193.8 150.4L189.7 150.9M203.5 143.9L206.2 141.8M223.8 150L227.9 152.8M224 152.9L226.5 155.7M221.7 155.2L224.6 157.5M219.4 154.6L218.5 158.7M222.6 145.9L227.7 145.4M244.3 151.7L245.9 154.3M238.5 156.2L237.7 159.4M238.6 143.9L240.6 139.5"/>
<path fill="none" stroke="#909090" stroke-width="0.8" d="M155.8 64L158.1 67.8M148.2 65L144.5 66.5M176.4 61.8L179.1 65.1M174.4 64.7L178.5 67.1M169.2 64.9L167 67.4M165.1 58.8L162.7 58.7M166.8 56.4L164.1 53.2M168.3 54.2L165.4 52.7M177.7 56.8L181.1 58M197.4 59.9L201.1 60.2M191.1 65.5L192.9 68.1M187.7 63.6L187.1 68.1M185.5 59.4L182.3 61.7M190.3 53.1L190.2 49.4M194.4 53.2L193.4 50.3M213.7 65.2L216.6 66.8M206.2 56L202.3 54.4M216.5 57.1L220.3 55M226.5 64.2L226.3 67.8M230.9 52.6L229.3 48.9M233.7 55.1L234.1 51.2M246.1 64.3L244.2 66M243.7 59.5L240.3 58.6M244.3 54.9L243.1 51.3M253.7 55L255.2 51.1M152.5 74L155.3 73.6M169.1 83L170.4 86.9M163.5 81L162.6 85M169.3 71.5L167.4 67.8M193.4 80.8L195.5 84M188 82.9L185.5 86.9M184.1 79.7L181.6 82.5M183.2 78.3L179.6 79.3M183.1 74.8L178.9 74.9M191.5 71.3L194.9 70.2M212.6 77.1L216.8 75.9M200.6 77.6L196.9 80.3M208.8 72.1L212.5 70M229.1 81.7L232.1 85M226.8 82.7L229.2 85M227.1 70.1L225.1 65.7M243.1 72.1L242.3 68.4M252 75.1L254.8 72.3M158 92.9L161.2 91M157.2 96.4L160.5 99M145.6 94.2L142.6 96M146.3 91.2L144.4 88.7M152.9 88.6L155.9 84.7M170.4 98.9L168.9 102.1M168.7 98.6L167.2 102.4M165.8 93.6L161.1 94.1M167.7 87L168.9 83.9M194.3 96.3L197.5 98.4M190.1 99.5L191.7 102.3M192.5 86.6L192.2 83.7M216.6 93.3L220.8 95.7M205 90.6L201.7 90.5M213 89L216.9 86.5M232.4 99.2L234.3 101.9M237.6 90.6L241.4 89.6M256.8 97.3L257.7 100.4M245.4 97.2L243.4 100.9M244.6 93.7L241 93.2M252 88.3L254.4 86M138.4 117.8L138.4 122.1M133.2 114.2L129.4 117M133.1 109.3L130.8 106.1M163.5 115.4L167.5 113.8M160.3 118.5L161.4 121.8M153.9 118.7L150.1 120.4M152.8 116L150.2 118.7M151 112L148.5 112.8M152.5 110.4L148.5 111.2M158.5 107.9L159 104.3M162.9 111.2L166.1 109.8M182.7 117L185.6 120.3M172 115.5L170.6 118.7M176 108.2L173.8 104.9M178.4 106.7L177.2 102.9M198.2 119.6L199.4 122.7M191.6 115.5L188.8 117M190.5 113.9L187 113.9M191.9 111.3L188.3 110.6M194 107.4L191.1 105.4M201.8 110.5L206.3 109.9M215.3 118.4L212.9 122.8M211 113.7L207.8 114.8M216.9 106.9L216.4 103M222.6 110.1L226.3 110.2M237.4 119.1L239.2 121.3M234.7 118.8L232.9 123M228.3 112.6L225.1 113.1M236.5 108.5L239.2 104M239.2 110.8L243.3 108.3M149.2 135.7L150.5 139.5M142.1 132.7L140.5 136.5M141.4 126.1L138.2 126.2M143.3 124.4L142.7 122M173.1 130.8L175.9 129.8M163.6 136.4L160 138.2M160 133L157.5 134.5M160.3 131.4L156 131.7M165.1 124.2L163.5 120.8M169.9 125.5L170.5 121.3M171 127.1L173 122.7M180.8 123.9L179.5 120.6M186.1 124L185.4 120.9M204.3 135.6L200.2 138.4M200.7 132.8L197.8 132.8M208.5 124.9L211.3 122.1M211.6 127.9L216.1 127.9M230 130.8L233.4 134.3M228.6 133.6L231.5 136.9M225.3 136.1L224.6 139.1M218.4 132.1L214.2 131.9M218.3 129.1L215 127M221.4 124.2L218.3 121.2M223.2 124.4L219.7 120.3M251.2 131.2L254.1 130.3M239.7 134.1L238.5 138.7M238.2 131.1L234.6 131.1M248.8 125.9L251.1 122.3M249.5 126.8L253.8 126M144.6 152.6L147.4 156.1M141.8 154.5L141.9 159M139.5 155.9L142.1 158.9M135.7 154.2L133 156.6M140.2 142.7L138.2 140M142.7 144.7L144.9 140.9M156.7 155.6L154.5 157.5M156.1 144.7L156.5 140.9M185.1 148.4L190.3 149.7M185.8 151.8L189.3 153.2M176.3 143.2L174.2 142M178.8 143.6L175.8 139.3M184.4 145.9L188.6 143.8M196.1 153.5L193.7 156.7M194.2 147.3L191.4 144.9M204 145.4L208.6 144.1M213 153.1L210.4 155.6M211.9 149.3L209.6 147.3M212.8 147.1L210 145.3M214.2 144.4L212.3 142.5M218 143.2L217.3 139.1M235.3 153.7L234 157.9M233.2 146.1L230.6 142.5M236.3 144.2L235.3 140.1M241.7 144.3L241.1 139.6M244 146.2L246.8 144.2"/>
<path fill="none" stroke="#b6b6b6" stroke-width="0.8" d="M146.6 59.9L142.4 57.8M155.5 54.9L157.7 51.3M177 60.1L181.6 60.5M172.5 64.9L171.5 68.9M172.3 54L172.7 50.4M174.6 54.8L178.4 52.2M196.9 61.9L198.8 65.5M216.6 62.4L217.9 66.1M206.9 62.7L205.4 66.8M205.9 59.9L202.6 61.6M214.5 54.7L218.6 53.3M236.7 59.4L240.1 58.4M235.6 61.4L239.5 63.9M235.8 56L237.5 53.4M254.7 62.5L257.6 64.2M251.9 64.5L254.9 66M249 63.7L247.7 68.3M244.7 61.3L240.7 61.5M247.3 53.1L245 50.5M250.8 51.9L250.8 49.1M150.8 82.1L154.8 84M147.4 83.1L149.2 85.9M143.8 81.8L143.7 86.6M142.4 79.7L138 80.7M141.2 78.1L137.8 77.7M142.5 73.9L138.7 72.8M143.6 72.1L141.4 69.1M147.6 71.7L149 67.3M173.9 76.8L178.6 75.3M174.7 79.3L178.8 79.1M165.2 72.8L162.1 69.8M192.7 82.3L193.8 84.9M186.2 83.4L184.5 86.1M184.7 72.2L183.4 68.8M194.7 75.2L198.9 74.3M203 81.9L200.3 85.7M204 72.7L199.6 70.3M206.6 72.2L204.7 68M232.3 76.9L236 76.3M231.4 79.3L235.2 81.4M224.8 81L222.7 84.5M221 78.2L218.1 79.8M220.3 75.1L217.4 73.8M221.3 73.1L217.6 73.2M229.9 70.2L228.7 67M251.1 76.9L255.4 77.5M250.8 81.8L254 82.1M245.3 83.7L247.5 87.6M242.1 83L243 86.6M240.2 79.3L237.5 82.3M239.6 77L236.3 76M155.1 98.4L158.6 101.5M153.1 99.5L154.8 103.4M154.2 88L155.4 85.5M176.4 93.7L179.7 95.5M174.1 98.2L175.8 100.8M166.8 95.6L162.1 97.6M165.4 90.6L161.9 88M195.3 93.5L199 94.5M187.3 97.4L182.6 100.1M183.6 95.4L180.2 93.9M184.6 93.6L180.4 96.2M187.4 86.5L189.1 83.2M190.3 86.4L190.4 83.3M204.5 94.4L201.4 97.3M210.5 88.4L210.3 83.5M215.9 91.8L220.2 92.4M238.1 94L240.6 96.3M226 96.6L223.3 97M226 93.4L222.1 90.9M229.9 87.6L229.2 83.2M234.8 87.7L234.7 83.9M256.7 94L260.4 93.6M253.8 99.1L256.9 101.6M250.7 101L248.5 104.6M254 88.5L255.4 86.2M134.2 116.9L133.3 120.2M131.7 113L128.4 111M134.5 106.6L130.4 105.2M143.3 109.6L147.3 109.4M163.6 113.8L167.1 116.3M158.4 118.8L161.1 122.3M154.8 108.7L152 106M161.5 108.7L163.5 105.5M181.3 118.6L182.3 122.6M172.7 113.9L168.8 112.2M195 119.7L195.8 122.8M198.1 106.8L198.2 104.4M222.8 113L226.7 111.5M218.4 118.8L220.9 122.3M239.8 117.6L243.8 118.1M232.4 119.7L230.2 122.8M232.5 108.4L231.5 104.2M234 107.4L234.6 103.8M151.5 132.8L153.1 137M145.7 135.6L142.4 138.8M140.9 129.3L136.4 129M151.3 126L153.6 122.7M187.4 135.2L190.9 137.3M183.3 135.7L184.1 140M181.9 135.7L181.7 138.5M183.4 124.4L185.4 120.1M200.9 128L197.8 127.6M203.7 124.7L201.8 122M227.1 135.5L227.5 138.4M226.6 124.5L230.5 121.9M228.9 127.6L231.6 123.4M250.4 132.4L253 135.5M240 127.6L237.7 123.8M243.9 124.7L242.8 121.1M145.9 149L149.7 149.1M133.4 149L129.9 145.9M134.7 145.9L131.4 143.6M166.5 150.6L168.6 153.1M155.5 153.2L151.7 154.8M153.8 150.6L151.6 152.9M154.9 147.6L151.1 145.9M164.2 144.8L166.8 143.5M181.9 154.6L181 158.2M179.2 154.5L177.2 157.8M177.9 154.5L177.8 158.6M174.6 149.3L170.6 151.4M174.4 145.5L171.6 144.6M184 143.7L187.2 141.8M205.6 148.5L209.9 148.7M204.9 153.2L207.8 152.7M198.5 154.5L194.9 158.1M195.9 144.3L193.9 141.6M198.7 142.8L199.4 139.1M216.4 154.6L213 157.8M221.3 144.6L222.9 140.9M244 149.5L247.8 150.9M241.3 155.3L242.9 158.3M233.1 151.2L230.2 153.9M231.9 150.4L228 150.8"/>
<path fill="none" stroke="#8a8a8a" stroke-width="1" d="M150.4 55.1L147.9 52.4M161.9 61.3L158.6 61.3M157 65.8L154.6 67.4M148.6 52.6L148.2 55.1M163.6 54.6L167.3 55.5M179.1 57.1L178.8 60M163.1 58.7L167.8 59.2M178.2 52.7L177.7 57.3M177.5 59.9L180.8 60.3M170.6 62.5L170.2 67.2M183.4 59.2L186.5 59.8M198.6 53.8L198 56.3M185.8 63.9L189.3 64.7M196.6 66.1L193.6 68M189.3 64.9L192.2 65.6M193.8 65L196.8 68.2M196.6 54.6L199.6 55.2M182.7 62.6L185.9 63.3M186.8 62.6L185.8 67.2M217.9 54.4L221.9 55.2M219.4 52.8L218.8 56.1M217 59.6L216.2 63.4M211.1 65.1L210.5 68.3M218.2 56.7L217.3 61.2M215.8 66.7L218.6 69.3M219 54.4L218.1 56.6M231.2 63.6L228.8 66M223.4 63L224 67.5M226.1 64.3L224.1 63M224.4 56L220.6 56.5M222.4 52.4L222.9 56.5M224.4 59.7L223.7 55.5M236.3 67.2L235.1 65M225.7 59.7L221.5 60.3M234.1 52.2L229.6 52.8M255.2 65.8L251.3 65.4M244.5 60.9L241 60.8M243.1 66.3L240.7 62.5M252.4 54.1L252.4 50M244.2 48.7L243.8 52.9M147.7 71.6L146.9 67.2M147.9 82.4L145.1 82.9M139.6 82.4L141.6 80.7M148.3 83.8L150.4 81.7M153.7 80.2L152.9 76M153.5 71.5L149.6 71.4M175.9 79.3L173.9 81M178.7 78.2L176.3 75.5M162 78.9L159.3 78M163.1 74.9L160.8 72.3M177 78.5L175.2 80.1M189.4 70.6L187 68.5M190 87.5L188.1 85.8M186.4 83.7L185.3 81M192.4 85L190.3 81.7M196.5 80L193.9 82.9M203 72.2L199.4 72.6M200.3 72.1L198.8 69.6M215.3 83.8L210.6 84.2M212.3 69.8L209.1 70.1M205.9 70.6L206.2 73.8M201.7 81.2L198.2 81.6M221.2 68.2L220.6 71.7M233.9 78.3L230.1 76.6M238.2 72.9L234.4 74.5M245.8 70.2L241.6 71.9M237.5 76.5L236.1 73.1M254.3 82.8L254.3 78.6M251.7 81.4L247.4 83.2M241.3 81.1L237.9 82.5M152.2 103.7L148.9 100.7M156 98.8L151.8 100.1M155.5 100.4L154.3 97.4M147.2 101.3L146.3 98.5M150.6 88.5L148.2 89.3M150.7 89.6L148.2 87.6M158.7 95.4L159.4 92.5M148.8 97.5L146.2 97M159.9 98.7L156 97.9M147 103.1L145.7 99M179.4 95.3L178 92.3M170.6 85L168.1 86.2M167.2 89.2L165.4 85.5M170.1 100.8L166.7 102.5M170.5 103.3L168.5 99.1M170.4 100.3L168.1 101.4M172.9 101.2L171.5 98.3M169.3 99.2L166.4 100.6M184.2 86.5L184.1 90.7M183.3 92.4L183.1 87.9M197.1 83.7L197 87.2M194.2 97L194.1 100.3M190.5 85.1L186.5 87.6M187.7 84.1L187.6 88.3M220 89L218.5 92.2M209.9 99.5L206.4 97.8M216.7 98.3L213.3 99.5M233.8 85.8L229.2 84.6M230.4 87.2L230.4 82.5M227.8 89L224.7 92.3M243.8 92.2L240 89.6M224.1 94.5L221.8 93M227.3 97.8L225.2 96.3M242.6 91.5L240.4 93M241.8 89.3L242.6 93.7M258 92.2L260 95.1M141.2 119.4L139 117.2M138.4 120.3L140.8 117.1M142 104.3L140 106.2M142.9 108.7L140.1 105.9M143.6 105L139.8 107.2M152.7 107.8L153.7 105.2M164.9 115.9L163 118.7M160.5 106.4L157.7 104.6M178.7 108.2L178.3 105.3M173.3 120.4L172.7 117M184.7 106.7L184.2 103.8M188.4 118.8L184.2 119.5M174.5 123.1L173.9 119.4M174.2 117L171 117.5M176.3 120.7L173.7 121.1M172.8 107.5L169.4 106.8M197.2 117.6L195.1 121.9M199.4 104.5L197.9 107.3M201.6 120.5L200 117.7M191.9 116.2L190 120M217.2 104.4L217.8 107.4M225.5 115.8L222.4 118.9M228.1 108.3L227.5 112.1M240.6 109.6L240 113.5M241.3 113.9L240.6 118.4M237.9 106.5L242.2 107.1M238.4 106.6L238.8 109.3M229.3 111.1L228.6 115.6M156.4 128L153.4 131.7M143.9 128.1L140.2 126M138.5 131.1L136.9 133.8M139.5 132.4L138 135M148.3 120.1L146.3 123.6M174.8 130.2L172.7 134M175.4 128.8L173.4 132M168.2 120.9L164.6 122.9M166.1 138.4L169.7 140.4M170.6 123.2L168.3 127.4M172.7 129.1L172.6 133.7M164.3 123L167.4 124.6M179.6 133.6L179.5 137M184.1 121.3L184.1 124.8M175.8 130.5L178.6 130.5M192.3 125.3L188.8 125.3M177.9 135.4L176.8 138.8M207.8 123.5L210.4 120.7M207.2 122L203.4 123.2M204.7 138.7L203.4 135.3M211.3 128.4L213 124.2M205.6 135.4L203.3 137.3M202.5 124.8L200.2 126.7M210.3 136.1L207.7 138.4M219 127.1L218.6 129.5M218.3 129.1L217.7 133.7M222.7 122.2L222.1 125.8M241 123L237.2 122.3M245.5 124.7L244.3 121.9M240.8 122.2L240.4 124.9M254.1 127.9L252.3 124.7M244.8 123L241.6 124.2M149.7 153.8L146.4 154.8M133.7 154.2L135.1 158.6M148.3 149.5L144.6 146.6M135.5 151.4L132 152.4M134.1 152.7L135.4 156.9M155.1 158.8L155.3 155.7M165.8 156.4L163.1 154.1M166.7 146.2L162.8 146.9M155.8 152.2L151.4 153.9M167.7 150.7L164.6 148.2M182.6 143L178.5 141.6M186.2 155L183.3 154M175.8 141.9L173.3 141M176.4 146.7L172.8 145.8M183.7 143L179.6 141.5M181.1 143L178.8 142.2M176 148L172.2 146.7M192.4 149.3L193.8 152.9M191.7 140.2L195.9 141M194.3 141.1L193.6 144.4M201.8 155.6L203.2 157.8M223.4 154.4L220.3 155.6M211.4 146.4L210 142.9M225.5 153.7L221.2 153.4M211.7 152.9L213.1 150.2M213 148.9L209.8 150.2M225.8 152.7L226.3 148.3M213.4 145.8L211.6 141.4M224.6 142.2L220.6 143.8M210.8 150.8L214.2 147.5M243.5 143.6L241.3 146.2M234.3 153.3L232.3 155.6M230.5 150.6L228.5 152.8M229.5 148.3L232.3 150.7M244.1 149L246 150.7M232.1 143.9L234.3 147.3M237.1 141.3L234.9 143.7"/>
<path fill="none" stroke="#989898" stroke-width="1" d="M156.7 56L154.6 57.4M151.6 59.5L149.1 59.8M152 54.9L154.3 58.2M147.7 55.9L150.2 59.5M150.1 65.5L151.9 68.2M148.9 59L145.8 61.2M167.3 57.8L169.3 61.7M191.3 57.8L188.5 61.1M187.4 58.1L186.6 61.9M207.4 57.5L211.9 58.3M209.4 59L210.1 63.4M207 54.5L206.3 58.1M213.5 57.7L213.5 62.3M210.2 56.7L213.1 57.3M207.5 59.3L212.2 60.2M213.9 62.8L216.9 65.3M226.7 57.9L227.1 60.5M233.5 63.9L231 64.2M251.8 65.8L249.7 61.7M254.6 65.6L253.6 61.6M252 60.2L248.3 59.8M248.5 55.9L248 60.2M244.9 56.4L244.5 60.3M246.7 53.7L246.2 58.3M255.9 62.9L251.5 62.5M145.2 79.7L144.5 75.7M148.7 73.5L145.5 74.1M150 72.9L149.4 69.8M145.7 80.3L143.2 80.7M148.1 74.7L147.6 71.9M170.5 73.6L168.9 71.8M196 75.1L194.2 77.2M186.3 73.3L184.5 75.4M193.8 80.3L191.7 78.5M186.2 74.7L184.1 72.9M191.5 78.8L188.6 82.1M195.8 78.3L193.6 76.4M189.2 81.4L185 80.1M188.3 72.6L185.6 75.7M212.1 79.4L208.6 76.4M211.5 82L209.8 80.1M222.6 71L221.9 74.4M227.8 75.2L225 74.7M226.7 70.4L225.2 72.9M229.2 72.1L226.4 71.6M228.5 72.7L225.3 72.2M225.3 72.8L220.9 72M251.3 79.7L248 81.1M243.4 84.3L247 82.3M243.1 77.7L242 75.2M250.5 75.9L247 77.3M245.5 76.4L243.6 72.7M159.7 97.8L156.8 96.2M154.4 96.5L153.1 92.4M148.5 92.5L149 89M152.8 93.4L150.3 94.2M175.6 94L171.9 95.8M171.3 96L172.1 92.8M175.8 93.4L171.8 95.3M174.4 97.9L171.9 96.3M166.7 93.8L164.8 89.9M172 94.9L169.4 96.1M194.3 93.5L191.1 93.5M195.2 95.8L193 98M190.5 90.9L187.9 90.8M212.6 99.2L209.7 100M216.6 97.4L213.8 94.8M210.8 100L207.9 97.4M214.4 87.5L212.6 91.2M210 95.6L206 94.4M231.7 94.5L229.9 97.2M232.5 91.8L231.5 88M253.4 93.9L255.7 97.3M250.2 90.5L247.5 92.4M249.3 89.7L245.6 92.2M247.6 89.4L249.3 91.8M139 119.3L135.9 116.3M161.2 107.7L159.4 110.6M157.5 110.6L153.8 108.2M162.3 112.3L158.9 109.9M163.2 113.1L160.9 116.7M160.9 116.9L159.1 119.5M178.8 115.5L178.3 112.4M174.9 120.2L174.1 115.8M177.9 118.1L177.2 113.9M195 110.1L193.5 113.3M196.7 111.8L196.3 107.9M195.8 108.4L192.2 108.1M199.4 108.8L195.2 108.6M195.4 117.2L191.8 114.3M204.7 110L203.2 113.2M198 114.6L194.7 114.1M218.2 114.7L219.1 118.8M216.3 118.8L213.5 119.4M218.6 112.7L217.7 108.9M213.2 110.7L209.9 111.4M218.8 107.7L218.1 111.2M236.9 113.2L236.2 117.8M239.9 115.5L236.9 115.5M235.5 117.3L238.2 117.7M150.9 128.4L148.8 125M147.7 125.2L145.6 128.7M150.6 131.5L149 134.3M164.5 123.6L164.2 127.4M168.6 125.1L170.2 128M172.1 125.2L169.9 129.2M169.4 126.2L167.6 129.5M168.2 126.2L171.2 127.9M187.1 133.3L187 136M185.7 131.7L185.7 135.6M182.6 131.8L182.5 134.9M179.7 128.4L182.9 128.4M189 126.3L189 130.3M206.9 135L207 131.9M211.9 126.8L209.1 129.2M204.6 134.3L202.3 131.6M206.7 129L203.6 126.5M212 128.2L207.9 129.3M222.6 128.7L220.4 132.1M229.8 131.6L227.4 131.2M229.4 134.1L225.5 133.5M250.2 135.4L245.5 134.5M248 126.6L244.8 126M246.7 128.2L244.1 127.7M140.9 155.2L138.6 151.5M140.5 145.9L138.4 147.1M142.2 150.4L143.4 154.5M161.3 148.9L158.2 150.1M163 155.4L161.5 151.8M181 149L179.8 152.5M180.1 147L178.6 151.4M200.2 145.3L199.9 150.1M198.7 150L198.2 152.5M202.9 151.7L198.5 152.7M202 144.4L201.6 146.8M201.9 146.2L201.1 150.4M218.8 146.7L217.5 143.5M237.2 142L238.3 146.4"/>
<path fill="none" stroke="#b4b4b4" stroke-width="1" d="M157.7 62.6L159.7 65.5M162.6 58.9L158.9 61.4M148 54.6L149.4 56.6M158.3 62L160.9 65.8M160 55.9L158.5 58.7M179.2 57.9L178.9 61.1M165.4 61.2L165 64.3M176.6 52.3L173.3 54.5M178.6 61L178.1 64.5M176.4 56.2L180.2 56.6M169.5 52.9L173.2 53.3M199.3 50.9L196.6 54.5M197.1 62.7L195.2 64.3M189.4 51.5L192 52.2M213.5 66.4L217.4 67.1M207.5 53.2L211.4 53.9M217.9 62.1L217.3 66.1M211.5 53L214.5 53.5M215.9 52.6L218.6 53.1M203.7 54.7L206.2 55.1M235.2 63.6L235.7 67.5M223.8 60.4L222.5 58M231.4 66.4L226.9 67M239 53L234.5 53.7M243.7 55.2L243.3 58.9M245.5 65.2L241.8 64.8M248.8 64.6L245.8 64.3M247.8 50.6L245.3 50.8M147.8 85.2L147.4 82.5M144.6 72L141.8 72.5M154.4 70.8L151.4 69.2M153.4 73.9L152.7 69.8M144.1 77.9L139.5 78.8M168.5 87.5L166.4 85.1M164.8 71.6L161.6 74.4M164.7 83.4L161.7 79.9M177.6 76.3L175.5 78.1M162.3 78.7L160.4 80.4M174.4 72.7L170.4 70.1M164.3 82.7L161.5 79.4M166 83L165.2 80.2M159.9 76.4L162.6 73.9M175.8 82.4L173.7 79.9M195.4 70.5L192.7 73.5M197.5 79.1L194.5 76.4M195.5 73.7L192.5 72.3M194.4 82.5L191.5 85.7M188.6 72.1L186.1 69.8M185.8 73.5L183.6 71.6M203.1 84.3L198.4 84.7M204.4 69.1L203 72.7M202.4 69.3L202.7 72M215.5 77L211.8 75.2M214.1 76.5L211.4 76.2M199.6 80L199.9 83.2M214.4 80.6L210.4 81M223.1 69L219 68.3M230.8 84.9L228.9 80.9M233.9 71.8L233.2 75.9M221.1 76L220.3 80.4M223.1 67.9L220.3 67.4M229.4 68L226.9 70.7M249.7 82.4L251.6 80.4M238 75.1L235.4 76.2M159.2 99.3L155.5 98.4M155.8 98.5L152.3 99.6M161.8 99.8L160.4 95.4M148.8 97.3L145.9 98.2M154.4 101.2L153.2 97.4M171.1 85.7L168.5 86.9M178.3 92.7L176.3 88.5M171.1 100.7L170 98.5M167.9 88.3L163.9 90.3M180.7 95.3L179.1 92M165.1 95.3L162.7 94.6M181.8 95L178.7 96.6M179.2 97.6L177.7 94.4M197.4 98.7L194.9 95.8M198.5 91.1L195.9 91M189.4 87.6L186.3 86.6M189.2 85.3L184.8 85.2M185 91.6L182 91.6M186.4 95.9L186.3 100.2M185.8 95.8L181.5 95.7M206.9 87.4L204.6 86.4M209.2 84.2L207.2 88.4M203.7 95.6L200.7 94.2M210.3 83.8L208.9 86.7M240.7 96.1L237 96.2M234.6 87.2L230.6 87.2M228.6 89.4L225.3 87.1M227.5 87.6L225.6 90.5M255.7 101.1L252.4 98.4M257.8 91.1L260.1 94.4M257.9 94.9L260.1 98.5M254.5 87L256.6 90M261.4 92.8L258.1 95.1M254.5 85.5L252.2 87M245.2 92.8L242.3 94.8M246.8 97.1L243.9 99M147.3 110.2L144.1 113.4M148.2 112.5L145.6 109.9M132.7 109.4L130.6 107.3M130.6 114L127.3 110.8M137.9 119.5L136 117.5M166.8 113.3L164.2 111.5M167.9 110L165.7 113.5M158.3 119.5L156.7 121.8M164.7 108.5L162.3 112.1M159.2 119.9L157.5 122.5M185.7 119.6L185.2 116.9M172.1 110.8L168.6 111.3M178.6 119.6L175.9 120M173.3 116.3L171.7 113.9M187.2 113.9L184.6 114.3M185.7 116.4L184.9 111.9M192.3 116.8L190.8 119.8M193.9 118.1L190 116.1M197.4 103.7L196 106.6M200.3 120.9L197.7 119.6M223.9 107L220.1 107.9M225.4 118.6L222.7 119.2M218.3 119.1L215.8 119.7M225.5 109.9L223 112.4M227.4 116.1L223.8 118.5M226 115.3L221.8 114.9M243.9 110.3L240.4 110.2M240 108.5L244.2 109.1M237 107L234 109.1M230.5 104L229.9 108M240.9 105.9L237.9 108.8M242.6 106.7L242 110.4M227.3 112.2L230.4 112.6M153 125.2L149.3 123.1M142.8 133.9L139.4 133M151.5 125.4L149.2 124.1M141.2 128.8L138.7 127.3M171.5 135.2L169.6 138.7M173.2 126.2L171.9 128.6M169.5 138.2L166.7 141.1M170.2 131.9L171.8 134.1M189.8 127.8L192.3 130.6M186.7 133.8L186.7 137.2M190.2 128.6L193 128.7M188.4 135L193.1 135.1M190.3 136.1L190.2 138.6M176.8 121.7L178.1 125.6M177 122.3L177 126.3M190.1 126.5L190.1 130.1M208.5 139.7L205.8 136.5M202.6 131.3L200 133.5M215.2 130.6L213.2 128.9M226.5 136.1L223.8 135.6M231.9 124.6L231.2 128.8M230.7 131.1L228.1 130.7M232.7 124.4L228 123.6M223 120.6L222.5 124.1M251.5 138.6L247.1 137.8M241.7 121.7L241 125.8M239.7 136.3L237.2 134.8M240.9 132.2L237.3 131.6M244.6 122.4L243.9 126.4M250.2 136L248 138.9M243.1 137L241.3 134.4M143.8 143.1L145.2 147.5M136.3 143.4L133 143.6M136.8 141.9L138.1 146.2M145 146.4L143.2 144.1M147.6 149.3L144 150.4M132.2 146.1L133.5 150.5M154.9 145.1L153.8 142.4M152.1 148.5L150.9 145.3M152.7 147.9L149.6 147.2M153.5 148.7L150.9 149.5M162.6 144.4L160.5 141.5M166.5 142L162.4 143.6M188.8 143.6L186.2 144.8M179.5 141.3L175.5 139.9M175.5 145.4L173.1 142.7M181.1 155.9L178.5 155M185.3 144.9L182.2 143.8M192.6 151.5L191.9 155.3M197.3 152.3L194.7 156M194.5 145.6L193.9 149M202.6 149L207.3 149.8M190.5 147.7L195 148.6M201.9 141.7L201.2 145.3M202.9 142.2L202.3 144.9M197.6 153.7L196.7 158.3M220 141.8L219.1 139.5M208.3 145.7L210.9 144.6M223.6 142L221.2 141.7M225.6 142.7L221.4 144.4M222.4 150.5L226.4 148.9M222.6 155.6L218.4 157.3M215 154.3L212.7 155.3M216.8 144.4L215.5 141.2M223 157.7L221.4 153.7M238.9 141.3L234.7 141.3M245.2 152.5L243.6 154.5M235.6 156.8L238.4 159.3M230.1 147.2L232.5 149.3M242.8 142.2L239 142.5M238.9 156.6L241.6 158.9"/>
<path fill="none" stroke="#5a5a5a" stroke-width="1" d="M152.7 63.5L154.5 66.1M153.6 62.5L155.1 64.8M170.9 62.3L170.5 65.8M169.5 56.6L173.5 57M174.1 61L170.4 63.3M173.8 55.1L173.4 58.9M173.5 64.6L176.1 64.9M167.3 52.6L168.6 54.7M187.3 56.9L191.5 57.8M192.5 59.7L195.5 60.3M186.6 55.8L188.9 59.6M189.4 55.9L186.4 58.5M211.7 57.1L210.8 60.5M215.5 54.8L215.1 57.6M213.2 55.5L215.9 57.5M225.6 61.6L226.1 65.9M233 54.8L233.4 58M232 61.1L229.4 64.4M229.4 53.6L229.7 56M234.8 57.3L235.4 61.8M231.6 57.5L227.1 58.1M252.8 52.9L252.4 56.9M244.6 56.5L244.2 60.2M151.2 73.7L150.8 71.4M142 73L146.1 72.2M170.1 73.8L167.2 76.4M188.4 72.5L185.8 75.4M191.3 72.4L189.1 74.9M192.9 76.9L190.6 79.5M190 74.7L187.8 73.7M211.3 81.4L210.3 78.3M211.2 73.9L207.8 76.3M204.8 81.3L201.5 84M206.5 79L202.1 78.8M212.6 77.5L207.9 78M210.4 72.8L206.5 73.1M210 74.7L207.2 74.9M231 77.5L230.4 81.3M231.4 74.7L228.9 74.3M227.7 78.3L226.9 83M228.4 79.6L227.8 83M231.1 75.7L226.8 74.9M225.2 81.4L223.4 79M241.6 78.4L238 75.7M251.2 78.1L248.4 79.2M245.8 80.5L244.5 77.4M241.9 74.6L244.3 73M245.1 77.1L240.8 78.9M151.8 90.6L148.6 91.6M157.8 94.3L154.4 95.4M154.5 94.2L153.8 91.8M150.7 101.4L149.6 97.8M190 96L189.9 98.5M190.8 95.5L188 95.5M186.7 94L184.2 91.9M191.6 90.7L187.9 90.7M195.7 92L192.6 91.4M213.7 94.5L209.9 92.8M215.2 97.1L211.8 100M214.1 93.9L212.6 97.1M214.9 98.8L210.8 96.9M227.8 92.9L225.3 91.2M232.1 91.7L230.3 94.2M231.2 95.7L227.5 93.3M230.8 93.8L228.8 91.5M231.6 88.3L229.2 86.7M250.6 87.4L253.1 90.9M254.4 87.5L253.4 92M244.6 93.5L246.9 96.8M253.9 90.6L254.2 93.1M257.5 93.6L254.9 95.5M135.3 117.2L135.8 112.6M137.2 110.8L134 109.4M140.6 107.6L138.3 105.3M159.3 117.6L155.5 115.1M160.5 113.8L160.7 109.9M159.9 115.1L160.7 112.3M156.9 110.8L154.4 114.6M160.6 119.8L157.7 117.9M180.4 116.7L179.6 112M175 115.4L172.4 115.8M196.2 106.4L195.1 108.6M199.2 112.7L197.2 110.1M197.8 107.6L196.5 110.3M194.4 112.4L194.7 108.3M193.6 110L192.1 113M194.4 109.4L195.6 106.4M212.8 111.2L213.8 115.4M233.5 107.2L233.1 110M146.9 124.1L144.4 122.3M170.9 133.5L167.9 132.8M170 128.9L174 131.1M170.4 135.2L166.2 134.3M161.1 127.3L164.9 129.4M186.9 131.8L186.9 136.3M183.5 122.9L183.5 126.6M179.5 131.1L184 131.2M183 125.4L179.5 126.4M180 123.7L180.5 128.2M212.6 131.5L209.3 134.2M212.4 127.6L209.7 128.9M213.2 127.4L210.7 129.5M222 126.7L221.6 129.1M225.3 127.8L224.8 131.3M221.3 129.5L220.7 132.9M248 127L247.4 130.2M248.2 127.1L243.8 128.4M247.7 129.8L247.1 133.1M246 129.4L245.4 132.2M144.2 147.8L140.6 149.4M140.7 144.9L137 146M141.7 145.2L141.8 149.5M137.8 154.1L136 152.1M139 149.1L139.8 151.9M155.5 149L154.6 146.6M161.8 145.5L164.5 144.1M160 149.9L158.5 146.3M164.7 147.4L162.4 148.3M183.6 148.4L179.6 146.9M187.5 147.6L184 147M181.8 151L179.4 154.5M183.4 144.1L179.8 144.7M177.3 149.1L173 147.6M180.9 151.7L179.6 148.3M182.6 147L178.5 145.6M186 145.8L183.5 144.9M204.9 146.6L204.2 150.1M202 144.8L206.1 145.6M194.8 151.8L197.5 152.4M226.4 151.6L222.1 151.9M212.9 149.2L211.9 146.7M217.4 151.1L218 147.5M216.7 148.2L215.5 145.1M213.9 151.7L212.7 149M230.9 147.4L233.8 150M235.6 153L238.1 155.1M240.9 143.2L237.8 146.8M236.8 147.8L234 151.1M238.4 149.9L234.5 152.4M234.1 148L230.7 148.5"/>
<path fill="none" stroke="#b8b8b8" stroke-width="1" d="M147.9 57.9L150.6 61.8M155.5 62.9L152.7 64.8M146.9 58.7L149.2 62.1M153.8 60.5L152.1 62.6M156.1 59.2L153.5 58.4M175 63.8L172.6 64.7M172 62.4L176 62.8M165 62.8L169.4 63.3M191.3 62.3L194.7 63M194.2 58.2L194.1 61.5M189.8 52L189.2 55.1M186.2 57.7L188.8 58.3M193.1 55L196.1 55.7M204.6 62.8L208.1 63.4M206.2 54.5L207.1 58.5M207.2 55.1L206.3 59.8M206 60.8L208.8 61.3M210.5 53.6L207.1 54.6M227 61.7L224 62.1M231 59.5L228.4 59.8M251.8 62.5L247.5 62.1M251.6 60.7L248.4 62.4M145 83.6L143.5 80.6M142.9 79.8L142.3 76.1M146.5 82.5L143.5 81.4M144.2 74.5L139.5 75.3M167.5 76.1L165.2 78.1M176.5 75.6L173.6 78.1M172.5 77.1L169.7 73.9M195 79.4L191.7 76.4M189.9 78.1L187.3 81M191.6 79.3L192.4 75.2M190.3 71.5L188.2 69.6M200.8 71.9L201.2 76M205.4 75.4L200.7 75.8M212.5 79.2L208.8 79.5M207.8 79.9L208 82.6M231.3 83.2L229 79.3M223.9 75.3L220.4 74.7M223.8 78.4L221.2 78M248.3 75.9L245.8 77M247.1 81.3L245.6 77.8M251 78.8L250.1 75M249.9 72.9L247 72.4M154.8 97.8L157 96M157.3 95.1L156.6 92.7M147 94.7L151 92.5M170.1 96.2L167.1 97.7M171.6 99.7L169.7 96.3M170.3 88.3L167.5 89.7M167.1 93.8L168.2 91M194.5 95.9L191.8 95.9M194.7 89.5L192.6 85.9M214.9 87.6L213.1 91.7M215.9 91.3L214.2 95M212 99.2L208.3 97.4M227.6 93.8L224.4 91.6M236.1 92.7L232.5 90.3M234.6 93.4L232.7 96.2M255.2 90.7L251.6 93.2M144.4 111.1L141.6 110.3M137.2 114.3L134 117.5M137.5 110.9L134.6 113.9M140.2 112.3L140.2 108.5M160.3 113.4L156.3 111M161.3 112.3L159.7 114.7M157.9 104.6L155.3 108.5M157 111.7L155 110.4M177.2 116.6L174.1 117.1M199.5 107.1L198.3 109.6M197.7 116.9L195.2 115.6M201.2 110.5L197.3 108.6M195.7 118.2L194.3 116M196.8 118.8L194.7 114.5M224 111.3L219.7 112.2M215.2 118.9L212.3 116.5M224.9 112.7L220.4 113.7M215.6 111.2L211.4 112.2M149.3 129.2L147.3 132.6M145.6 129.3L140.9 129.6M144.8 128L142.8 131.5M145.6 125.9L142.1 123.9M163.6 126.4L165.7 127.6M167.2 128.3L170.4 130.1M167.7 133.2L166.5 135.5M168.8 126.7L166.7 130.6M165 125.8L162.8 129.8M181.9 131.3L178.9 133.5M186.9 129.5L189.4 130M212.7 127.2L209.9 129.5M208.5 134.1L205.1 135M223.5 125.4L222.9 129.6M221.6 124.1L218.6 123.6M227.3 128.2L226.7 132.2M249.2 127.6L245.3 124.9M244.5 130.2L243.8 134.1M250.2 133.8L247.8 134.6M160.1 150.5L158.9 147.6M158.6 148.4L160.3 145M159.8 152.3L156.1 153.8M156.7 149.2L153.2 150.3M180.1 143.8L178.9 147.3M182.1 155.1L179.3 154.1M201.5 145.1L203.7 147.6M217.4 146.7L213.8 148.1M218.8 151L221 148.9M223.5 149.8L222.4 147.2M221.4 149.6L219.7 145.3M219.8 146.3L215.6 146.8M219.4 153.8L215.1 155.6M242.7 147.2L244.8 149.1M241.6 146.6L243.6 148.3M243.1 143.7L240.7 147.7M237.3 148.6L235.3 151.6M235.8 143.4L237.5 146.4"/>
<path fill="none" stroke="#404040" stroke-width="1" d="M145.3 57.1L147.9 60.8M157.4 58L157.6 61.4M149.1 62.8L151.2 65.9M148.3 57.7L150 60.1M155.7 54.5L151.8 56.1M147.5 59.7L149.8 63M150.2 62.8L147.3 64.8M168.4 52.3L168.1 55.3M173.2 57.4L172.9 59.8M167.9 61L167.4 65.6M188.5 52.2L187.7 55.8M195.5 58.6L194.5 63.1M185.7 54.5L189.9 55.4M185.4 57.8L187.3 60.4M185.4 56.5L189.8 57.4M191.9 52.6L193.4 56M207.9 58.5L207.4 61M207.4 55.4L206.8 58.3M232.4 58.8L229.4 59.2M231.1 53.6L230.6 58.4M234.6 57.4L233.2 54.4M228.8 54.3L229.3 57.9M229.6 57.9L230.2 62M236.8 60.7L233.6 59.9M231.5 53.2L230.9 55.8M246.7 58L244.1 57.7M256 60.7L252.1 59.1M251.3 54.9L249 57.5M248.1 52L247.7 56.3M142.9 79.3L141 77.2M141.8 74.9L141.3 72M145.8 83.8L145.9 81.2M145.2 72.5L142.1 73M168.9 73.5L167 71.3M167.6 71.7L165 74M176.5 79.7L174.2 75.9M163.8 78.4L161.1 76.2M186.8 80.9L185.1 78M187.7 75.5L185.4 76.5M185 78L181.5 74.9M203.6 77.4L199.3 77.8M205.2 73.6L201.6 73.9M202.4 80.1L202.8 84.6M203.1 78.3L203.5 81.8M206.7 77L206 80.5M207.4 74L203.9 71.9M229.1 73.5L228.4 77.4M223.6 71.4L222.9 75.6M221.5 76.3L220.7 80.9M231.5 76.7L230.8 80.9M247.5 77.5L246.4 74.8M249.7 81.7L247.3 81.8M156.6 95.8L155.2 91.4M154.1 91.4L153.3 88.9M154.1 98.5L150 99.8M167.5 95.6L168.8 92.3M172.9 97.7L171.5 94.8M172.2 94.1L169.9 95.2M174.1 92.7L172.6 89.5M176.7 93.9L176.4 91.3M185.4 89.1L185.4 92.4M191 89.9L190.1 93.5M191.9 90.9L191.5 93.6M191.9 88.4L187.9 88.4M187.8 92L187.7 96.2M195.8 98.6L193.9 96.8M207.6 89.6L205.5 92.9M211.4 92L208.6 90.7M213.5 87L211.7 90.8M233.5 96.1L231.3 94.6M230.7 93.9L228.2 92.2M229.6 95.9L226.3 93.6M234.3 91.7L231.1 89.5M234.1 94.9L231.4 93.1M256.5 95.1L256.1 98.1M259.4 93.9L255.5 96.6M254.6 90.6L256.7 93.7M249.6 94.8L247.8 97.9M137.3 111.8L135.5 113.7M142.2 111.7L140.2 110.1M141 109.7L138.1 106.8M159.9 106.8L158.3 109.1M161.3 109.5L158.3 107.5M153.6 112.1L151.1 116M152.3 112.9L150.6 115.6M154.6 115.5L151.8 113.7M159.7 115.7L157.2 119.5M156.2 112.8L152.3 110.6M159.4 114.9L158.1 116.9M160.1 107.5L157.5 111.5M159.1 109L155.3 111M155.5 116.8L151.8 114.3M176.4 117.6L171.8 117.8M176.5 115L179 111.8M182.9 109.1L178.3 109.9M196.5 114.9L194.1 115M198.9 117.7L195.5 116M193 114.9L190.4 115.9M199.4 110.1L198 112.8M217 113L212.7 111M222.3 109.1L218 110M220.5 116.3L219.7 113.4M214.6 117.9L212.1 118.5M219.7 116.2L220.5 119.6M231.4 117.1L234.5 117.5M238 113.4L237.6 116M238.4 110.6L242 111.1M235 107.9L234.6 111.2M235.5 117L239.8 117.6M229 111L232.4 111.5M148.2 125.1L146.2 128.5M149.5 130.3L147.2 129M148.2 124.8L146.3 127.9M143.7 125.8L142.2 128.3M147.7 124.7L146.4 127M154.5 130.2L151.1 128.2M162.7 127.9L166.6 130.1M179.2 132.4L182.5 132.4M182.3 133.2L186.7 134.2M183.2 133.2L187.3 133.3M204.2 130.4L202.2 132.1M208.7 132.2L206.2 132.5M207.6 135.8L205 136M205.9 132.9L203.9 130.6M208.4 136.4L206.2 133.4M209.2 128.6L206.9 125.8M230.3 128.3L227.2 127.8M227.2 132L224.4 131.5M229.3 126.8L227.1 129.8M227 134.6L224 134.2M221.6 126.8L217.9 126.3M222.6 126.5L219.3 126M249 134.2L246.4 133.8M248.3 129.8L245.4 129.2M243 131.2L243.1 127.5M244.5 125.4L243.9 128.7M249.2 127.4L245.4 126.7M139 142.7L140 145.9M136.9 147.2L135.7 143.7M140 150.1L137.8 148.2M163.1 154.6L162.7 151.2M177 153.4L173.3 152.1M176.7 143.9L175.1 148.5M178.2 140.9L177 144.4M178.6 154.5L179.7 151.1M204.7 148.4L203.9 152.5M202.9 153.4L204 156.1M196.3 142.5L195.7 145.3M239.4 145.9L236.8 148.9M235.9 151.3L235.6 154.5M242.6 147.5L240 150.5"/>
<path fill="none" stroke="#787878" stroke-width="1" d="M163.1 59.4L161.3 63.5M152.8 61.1L152.2 63.4M147 63.8L143.6 61.3M153.5 60.4L150.2 62.7M156.1 58.4L158.4 61.8M176.3 56.3L174.5 59.6M172.5 64L175.8 64.4M175.6 58.3L172.8 60.4M167.6 53.6L172.4 54.1M171.9 64.5L174 66.8M169 61L168.6 64.4M175.3 53.9L179.1 54.4M173.9 64.7L173.3 68M164.7 64.6L167.9 65M170.8 58L174.7 58.4M177.9 56.4L180.7 56.8M164.9 54.4L169.2 54.9M190.7 51.4L189.9 55M191.5 64.2L194.2 64.8M190.3 52.2L189.2 55.6M185.2 61.4L184.4 64.8M187.7 51.8L190.9 52.5M195.2 65.5L194.5 68.7M195.4 60.1L193.9 63.8M192.7 59.1L192 62.5M204.4 57.2L207.5 57.8M203.9 64.3L207.6 65M210.3 61.5L206.7 62.3M211.4 53.9L216.1 54.7M214.2 51.4L217 53.8M209 59.8L206.3 60.6M235.4 60.7L236 65.1M223.6 53.3L224 56.7M230.7 58.8L227.2 59.2M234.9 52.2L235.3 55.1M232.9 59.3L228.3 59.9M252.4 64.1L252 68M247.8 65.7L244.7 65.4M256.6 57.7L254.1 55.2M248.5 59.9L244 59.2M252.7 58L252.4 60.8M255.5 54.9L255 59.5M253.7 58.5L250.7 58.2M255.9 65.7L252.5 65.4M244.5 61.4L243.3 57.9M254.5 63.5L254 67.8M144.7 73L141.1 73.6M155.5 72.4L152.1 73M143.9 74.2L145.7 72.6M146.5 74.7L142.6 75.4M143.5 82.4L141 82.9M156.4 82.1L153.5 79.9M150.8 80.6L153.2 79.6M151.8 72L147.4 72.7M143.7 72.4L143.3 69.8M143 77.6L142.5 74.6M173.2 74.7L169.6 74.4M172.9 76.5L173.7 73.9M170.7 68.7L167.6 71.4M166.2 71.4L163.5 73.8M164.8 82.4L161.7 78.8M171.5 74.3L171.4 69.6M165.4 75.8L160.7 75M169.6 74.1L166.9 71.1M167.7 71.3L165.1 68.3M166.7 85.3L164.4 82.7M197.1 79.8L194.1 81M183.9 74.1L182 72.4M188.3 69.1L186.1 71.7M183.8 73.1L181.8 75.3M185.3 74.9L181 74.5M185 73.9L182 71.2M188.3 77.2L186 79.7M190.9 76.6L191.1 73.8M182.7 81.2L180.2 78.9M186.9 70.6L184 72.7M202.6 82.3L202.8 84.9M208 78.8L207 81.4M201.5 71.5L199.9 75.5M213.4 77.8L213.6 81.6M204.8 84.6L202.2 84.8M200.4 78.1L200.7 81.5M214.7 77.5L212.2 77.7M234.7 81.7L231.9 79.6M228.6 72.7L226.2 73.9M234.9 80.5L230.9 79.8M226.1 74.5L223.7 78.2M228.6 70.4L226.9 67.6M236.1 78.9L232 78.2M232.7 74.1L229 73.4M226.6 75.6L225 80.1M222.7 80.1L222 84.5M247.2 71.1L243.3 72.7M241.4 76.4L242.4 73.9M251.1 75.7L250.2 73.4M240.6 76.1L237.5 77.4M250.2 83.2L248.5 79M250.8 68.9L246.7 70.2M245.5 75.3L247 73.1M243.5 74.7L241.8 70.5M161.2 98.6L158.6 99.4M151.9 94L150.7 90.2M156.9 95.6L155.7 91.6M158.6 91.5L156.5 87.4M159.8 93.8L158.8 90.6M160.2 99.5L159.3 96.6M158.2 92L155.7 92.8M170.1 87.2L168.8 83.9M174.9 94.6L172.6 95.7M168.9 102.8L167.6 100.1M172.8 92.1L171.1 88.2M167.6 100.8L170.4 98.9M165.6 98.1L164.2 95.2M167.4 93L164.1 94.6M171 92.6L173.8 91.2M167.1 96L166.1 93.9M188.7 84.7L188.7 88.4M195.2 99.8L192.2 100M185 89.7L184.9 92.2M194.3 100.3L192.6 98.6M198.3 88.5L193.8 88.5M187.2 89.8L183.6 89.7M186.2 98.4L182.7 98.3M209.3 94L206.8 92.8M207.2 100.9L205.9 96.8M211.4 91.2L210 94.2M216 96.8L217.9 92.5M213.5 99.7L209.6 97.9M216.9 102.9L212.9 101M215.4 97.7L214.1 100.5M207.9 100.9L203.7 98.9M209.1 91.3L207.2 95.3M204.8 96.5L203.6 99.1M212.2 93.7L208.4 91.9M207.3 88.8L205.3 91.9M211.5 87L207.7 85.4M207.3 90.2L206 93M222.9 93.3L220.9 96.3M227.7 91.7L225.8 94.5M232.8 92.2L228.5 91.9M236.1 88.9L233.5 92.7M235.9 101L232.5 98.7M240.3 91.6L237.8 89.9M238.5 91.9L235.4 89.7M224.8 95.7L221.8 93.7M232.2 99.5L228.7 97.9M226.5 90.2L227.7 88M245.5 94L246 96.9M245.6 92.4L242.6 94.4M254.8 101.6L251.3 101.1M245.6 94.8L247.8 98M253.1 99.3L250 101.4M242 92.3L244.1 95.3M255.2 97.3L252.7 96.4M244.1 95.9L240.9 92.5M254 93L251.9 94.4M255.9 91.4L253.5 90.5M250.8 103.1L246.9 105.8M246.3 97.7L244.3 99.1M141.3 112.7L139.1 114.9M146.9 109.5L144.3 112M149.5 111.3L146.4 114.5M139.2 107.6L136.7 105M138.5 117.8L136.5 119.8M143.8 110.6L142.3 108.6M141.6 119.2L139.6 120.6M131.4 111L128.1 112.9M140.6 119.5L137.6 122.5M158.6 104.5L157.2 106.7M162.9 121.4L161.6 117.7M160.4 109L158.1 112.6M159.4 103.4L156.9 107.2M157.4 120.3L154.9 118.7M155 113.4L153.1 116.2M153.6 113.6L151.3 117.1M155.6 108.7L154 111.2M181.6 110.4L177.1 111.1M176.9 119.8L176.1 115.2M171.8 110.9L168.9 111.4M174.8 121L171.9 120.6M179 118.8L176.6 119.2M180.4 118.6L177.8 119M173.5 116.6L170.3 117.1M182.8 118.1L182.4 115.6M202.7 116.2L198.9 114.3M193.4 110.4L190.8 107.5M194 112.1L192 116.2M199.4 118.5L197.9 114.5M201.9 107.8L199.8 111.9M201.2 121.9L198.5 122.9M199.4 118.2L197.7 115.2M215.6 109.8L215.3 113.9M219.9 108.5L218.3 112.9M225.8 115.7L221.8 116.6M212.9 112.3L213.6 115.6M220.8 110.3L217.1 111.1M221.7 120.4L219.5 117.9M222.8 116.9L223.4 119.7M212.5 110.3L213.3 114M213 115.7L208.4 116.7M209.9 110.3L210.9 114.8M224.3 108.9L220.2 109.8M222.3 109.6L222.9 112.5M217.4 119.8L213.7 122.7M213.6 119.9L214.1 122.3M224.5 107.8L221.6 109.9M222.8 108.1L223.4 110.8M216.9 115.6L212.5 116.6M239.3 113.2L243.2 113.7M240.5 115L238.8 117.7M235.7 118.2L233.9 120.7M239.1 110.2L238.6 113.3M230.4 106.5L227.9 108.3M230.2 113.8L228.6 116.5M231.6 119L234.2 119.4M240.8 108.1L240.3 111.2M233 115.3L237.5 116M141.3 131.3L141.5 128M151.7 127.3L147.4 127.3M152.7 130.8L150.8 133.9M140.9 130.2L143 126.3M152.1 135.5L149.4 134M143.6 133.4L141.5 131.7M152.9 127L151.3 129.7M145.6 135.7L143.2 134.3M166.8 122.6L165.1 125.7M171.2 132.7L173.4 134M161.5 127.8L159.6 131M172.3 124.6L169.1 124.3M164 125.9L161.8 129.8M167.8 127.5L170.4 128.9M162.3 136.9L164.9 138.3M173.3 127.8L176.6 129.6M171.5 123.5L170.2 125.7M171.3 130.5L174.9 132.4M165.7 120L163.9 123.1M176.2 136.5L180.6 136.5M190.4 122.1L191.4 125.2M191.2 128.1L191.1 130.8M177.9 128.9L177.9 132.8M182.8 134.5L187.1 134.6M184.4 129.6L187 129.6M182.8 125L182.8 128M182.1 128.8L182 133.5M188.8 134.6L188.8 137.5M188.2 137.1L191.3 137.1M210.7 136.1L208.9 133.9M215.9 131.2L213.8 133M216.9 132.9L214.5 130M207.3 141.3L205.5 137.3M207.5 130L204.1 132.9M213 130.4L210.3 127.2M204.4 134.9L201.7 131.7M216.2 128.2L212.7 131.2M211.8 125.1L208.8 127.5M228.2 128.7L227.1 124.8M228.9 134.1L228.1 138.2M226.2 133.4L223.8 134.6M217.4 124.4L217 126.9M229.2 122.8L228.8 125.7M223.7 123.6L219.1 124.1M222.2 127.2L221.6 130.9M234.2 126.3L229.7 125.6M225.9 124.4L224.4 121.8M222.8 135L222.7 131.4M220.1 133.3L215.9 132.3M247.9 128.4L247 133.2M249.1 131.6L247.3 135.5M239 128.8L236.1 128.3M252.3 131.9L249.8 133.6M246.9 135.8L244.2 135.3M241.8 128L238.6 127.6M253.3 125.1L249.5 123.5M250.7 127.9L250.2 130.9M241.3 128.8L238.7 128.3M146.5 145.9L143.3 147.9M144.3 146.5L141.3 147.4M134.4 152.1L134.9 155.3M137.4 149.3L133.2 148.3M138.8 145.9L136.5 141.8M136.9 155.4L138.3 160M140.1 142.3L136.5 143.3M131.7 146.9L132.9 151.1M141.8 149.4L137.8 150.7M148.2 153.4L145.6 153.9M145.7 153.2L146.6 156.2M135.5 155.3L136.8 159.6M160.9 158.9L159.8 156.2M163.3 147.7L161.6 143.4M156.3 152.2L155.2 149.4M160.5 145.2L158.9 141.3M162.2 150.7L163.3 147.7M158.7 160L157.1 155.9M153.2 151.9L151.6 147.7M168.8 147.5L165 149M156.6 143.3L153.9 144.3M154.1 150.3L151.8 151.3M161.8 140.8L157.9 142.4M165.3 141.5L162.6 138.3M183.3 150.3L181.6 152M184.3 154.6L181 153.4M185.5 142.9L181.6 141.5M179.4 149.1L177.2 153.4M186.7 143.2L184.1 147M182.1 151.7L177.8 150.2M186.2 146.9L184.3 149.6M188.5 151.7L185.2 150.5M183.4 150.7L181 149.7M202.4 155L198.6 157.6M197.8 150.3L197.1 154M207.9 156.1L203.7 156.2M199 149.8L202.5 150.5M203.5 148.5L207.8 149.3M200.1 143.6L204.4 144.4M205.9 142.4L204.1 145.3M191.7 145.4L194.9 146M226.5 153.4L225.1 149.8M225 148.9L223.9 146.1M235.1 148.8L232.9 151.4M230.3 150L233.7 153M237.3 152.6L234.7 155.6M231.8 153L234.1 155M233.3 147.1L236 149.5M237.1 150.3L234.8 153M243.6 145.6L245.2 148.7M239.8 156.3L236.9 159.7"/>
<path fill="none" stroke="#a0a0a0" stroke-width="1" d="M157.1 53.5L156.1 55.8M159.1 62.3L155.6 64.2M155.6 63.5L157.7 66.6M149.2 53.1L150.7 55.3M152.3 50.8L154.4 54M153.3 49.6L155.6 52.9M173.9 52.4L177.3 55.6M167.1 54.2L164.6 57.6M173.2 65.4L172.9 68.1M165.2 57.7L164.9 60.3M175.8 52.1L178.4 52.4M170.9 64.9L173.9 65.2M195.2 59.8L199.6 60.8M188.6 50.5L187.9 53.7M185.4 56.8L184.8 59.7M182.2 60.3L185.7 61.5M195.4 61.1L199.4 61.9M217.8 62.2L217.1 66.1M214 64.9L211.7 65.6M217.5 56.8L216.9 59.7M204.2 52.5L207 53M205.3 59.5L204.6 63.3M214.2 65.3L211.4 65M215.9 67.1L219.1 67.7M236.8 65.3L235.5 62.5M225.1 55.6L221.7 56.1M223.9 57.8L221.2 58.1M236.6 57.6L237.1 61.6M253.3 52.6L249.1 52.2M256.7 58.4L254.9 60M245.2 58.9L240.4 59.6M255.1 66L251.4 65.1M256.6 60.8L254.1 56.9M250.4 62.9L250.1 66.5M258.3 56.6L255.6 56.3M247.8 49.3L247.5 52.2M141.6 79.1L140.8 74.5M156.6 80.1L153.1 80.7M142 85.7L141.8 83M150.4 70.2L148 70.6M160 78.3L157.9 75.9M177.6 78.8L174 81.9M168.2 71.6L164.8 71M164.3 72.8L162.3 70.5M169 69.3L166.4 71.6M161.6 77.1L159.5 74.7M164.3 74.3L161.7 71.2M183.6 80.9L179.8 79.7M191.2 67.4L189.3 69.5M187.4 81.6L184.9 84.4M215.3 77.4L211.3 77.7M216.6 82.3L212.1 82.7M221 79.3L217.3 78.7M225.3 70.2L225.5 67.1M233.9 75.4L233.1 80M221 68L219.4 72M245.6 70.6L242.4 71.9M240.7 79.8L239 75.8M252.6 75.2L250.9 70.9M250.5 73.5L249.5 71.1M250.7 80.4L253.5 77.1M243.1 73.1L241.5 69.1M247.8 86.3L246.1 82.1M236.3 76.9L236.9 72.3M242.7 86.7L239.6 84.4M236 76.3L238.3 73.8M251.2 68.4L247.3 69M151.2 104.1L149.8 99.9M145.8 94.6L142.5 93.3M149.1 90L148.8 87.4M147.3 88.5L144.2 87.6M146.8 94.5L143.1 91.8M153.7 100.7L150.4 101.7M168.6 95.3L164.8 97.2M180.3 98.6L178.3 94.5M177 87.8L175.5 84.8M164.3 87.7L160.5 89.6M191.3 85.7L191.3 89M191.9 96.6L191.8 100.8M197.6 85.4L195.3 87M196.9 92.2L193.3 92.1M184.8 86.2L181.3 86.1M219.9 89.7L217.9 92.6M210.4 99.5L208.1 98.5M220.3 87.8L218.6 91.4M205.8 94.8L202.6 93.3M208.5 88.4L207.6 85.1M220.5 92.2L217.9 89.5M228.6 96.7L226.8 99.4M237.6 89.8L234.3 87.2M224.6 92.4L225.7 88.5M225.4 93.1L221.8 93.2M233.9 100.9L230.8 98.8M229.5 89.8L224.9 89.6M229.5 83.4L227.3 86.6M241.1 93.3L240.9 89.7M242.3 90.7L244.3 93.6M244.4 91.8L242.4 93.2M253.3 98.3L254.9 100.6M258.8 93.1L261.1 96.5M244.2 90.2L242.2 91.9M140.7 120.8L138.1 118.2M137.9 121.1L135.5 118.7M147.2 108.9L144.3 111.8M140 104.7L138.2 106.3M135.2 117.2L132.5 114.5M132.9 118.7L132.7 114.5M139.9 104.8L138.1 103M142 120.1L138.3 117.4M144 108.8L141 105.9M166.5 109L164.8 111.5M183.3 107.4L182.7 103.6M175.4 108.2L171.5 108.9M186.8 113.7L182.8 114.4M184.3 114L183.8 111.1M180.2 120L176.1 120.7M186 116.9L183.6 117.3M190.6 112.5L187.1 115.8M194.9 116.2L191.9 119.6M190.5 116L187.5 114.5M193.5 118.2L190.3 116.6M193.3 106.6L191.6 110M205.7 109.8L203.2 108.6M213.2 112.1L210.2 114.1M215.3 120L211 121M223.5 109.1L221 109.6M222 117.1L223.1 121.8M228.7 108.6L228.1 112.8M231.5 104.7L231.5 107.3M227.3 119.7L231.8 120.4M238.9 119.1L238.4 122.4M231.4 120.4L234.4 120.9M230.6 116.2L232.6 120.4M227.8 112.6L227.3 116.4M236 105.8L231.5 105.7M239.9 110.2L242.3 110.6M226.6 108L231 108.6M229.1 119.9L225 119.9M239.5 118.2L240.7 120.4M144.3 134L142.2 137.5M140.8 129.9L136.8 127.6M145.3 137L146.3 134.1M139.3 135.7L139.8 131.6M152.9 127.2L149.2 125M147.6 122.2L143.8 120M144.8 120L143.3 122.6M152.9 133.2L154.7 129.2M146.5 137.6L143.7 136M155.8 127.9L153.3 126.5M157 130.2L159.9 131.8M162.4 125.5L161.1 129.7M162.8 120.2L165.4 121.6M159.1 128.6L162.2 130.3M184.5 120.9L184.4 125M189 135.2L190.5 137.5M178 126L175.5 127.5M184.9 135.3L189.4 135.3M204 133.5L201.4 135.7M209.3 138.5L204.8 139.4M206.6 123.3L204.5 120.8M215.7 131.8L211.5 131.8M202.4 125L199.7 126M229.7 129.2L229.2 132.1M230.9 134.7L226.9 134.1M221.5 137.5L219.6 135.9M226.6 125.1L227 121.5M231 122.7L230.4 126.4M240 133.3L239.3 137.2M254 130.3L249.9 129.6M252.9 137L249.2 136.3M244.8 122L244.3 124.5M249.5 125.4L245.2 125.6M141.1 155.2L136.5 155.9M145.6 147.3L144.4 145.1M141.3 154.6L138.6 155.4M135.7 158.5L134.5 155.1M132.3 145.1L132.1 147.6M158.1 154.7L154 156.4M152.7 147.2L151.2 143.6M163.6 142L159.5 143.7M167.9 151.4L165.6 152.3M170.7 151.6L166.7 153.2M157.1 143.5L154.7 144.5M155.1 149.7L151.5 151.1M153 144.4L148.8 146.1M167.4 152.8L166.5 150.4M187.9 148.9L186.2 152.8M181.1 142.2L177.4 140.9M185.2 154.1L182.5 153.2M185.4 158.6L181.6 157.3M194.8 142.4L194.3 145M203.5 146.5L208 147.4M206.8 144.1L206.6 147.9M192 154.2L194.8 154.7M191.4 150.9L194.2 152.9M195.2 153.3L194.5 156.7M204.7 152.2L208.1 152.9M193.5 146.6L194.6 148.8M193.1 143.7L192.3 147.8M218.3 158.7L217.2 155.9M216.3 158.9L217 155.9M218.8 157L215.9 158.1M220.3 140.6L217.4 141.7M226.5 145.8L223.9 146.9M212.5 149.4L211.2 146.1M222.1 155.9L222.5 153M216.6 157.4L213.1 158.8M236 153.3L233.5 156.1M248.4 149.8L244.6 148.5M239.1 138L236.4 141.1M237.8 140.6L234.7 144.1M243.1 142.2L241.1 144.6M232.6 151.8L230.4 154.3M236.6 154.1L234.4 156.7"/>
<path fill="none" stroke="#2a2a2a" stroke-width="1" d="M148.3 57.2L145.6 59M158.1 59.1L160.8 63M152.7 56.1L154.5 58.7M155.6 58.5L157.7 61.6M157.5 61.2L153.8 63.8M154.7 60.8L151.6 63M172.9 55.2L168.3 56.2M166.6 60.3L170.9 60.8M174.4 56.2L178.6 56.7M197.1 60.9L194 61M191.4 54.1L190.9 56.5M188.4 52.5L186.2 53.5M194.4 58.6L193.8 61.7M211.5 59.6L214.4 60.1M211.8 58.4L215.7 59.1M215.5 61.2L214.9 64.5M230.4 63.4L226.9 62.6M233.4 63.7L232.8 61.4M237.3 62.7L233.5 63.2M225.7 53.8L226.1 56.8M230.3 59.1L230.9 63.8M233.9 56.4L234.4 59.7M231.3 58.1L231.7 61.2M247.2 51.5L246.8 55.4M246.3 55.6L243.5 57.5M254.2 52.7L253.5 55.1M245.8 53.9L245.4 57.4M144.8 76.1L144.1 72.2M147 73.4L150.4 72.2M150 73.5L152.3 72.7M146.1 79.9L141.8 80.6M150.3 80.5L146.3 81.2M149.4 83.2L149 80.8M165.5 74.4L163.1 76.5M169.6 83.5L166.2 80.1M176.7 76.7L174.1 79M169.8 85.5L167.1 82.3M168.7 82.6L165.9 79.4M192.8 80.9L189.5 77.9M187.5 77.2L185.9 79M189.6 78.6L187.6 80.8M210.3 77.5L207 74.9M209.3 78.7L205.4 79.5M210.7 79.4L211 82.8M208.1 76.5L208.3 79.4M211.1 81.3L206.8 81.7M225.9 79.2L225.3 82.9M226.9 76.5L223.2 75.9M227.3 79.6L226.7 83.2M231.7 72.7L229.3 76.2M225.3 71.1L224.8 74.2M232.3 73.3L228 73.8M245.7 75.7L244.7 73.3M246.3 81.7L247.6 78.4M247.2 80.9L250.4 78M156.4 94.8L153.4 95.8M156.4 95.2L155.4 92M156.6 96.8L155.9 94.5M157.8 95.7L156.1 92.9M169.6 94.9L166 93.5M174.9 91.9L171.9 93.4M193.7 88.8L190.8 88.7M194.4 97.6L191.6 97.5M187.8 97.9L183.9 97.8M192.3 88.7L192.2 92.5M194.1 94.2L193.9 91.4M208.8 92.7L205 90.9M206.9 95.8L206.4 91.8M212.4 98.7L211.2 101.4M215.6 97.4L215 93.3M237.4 89.7L235.9 91.8M229 91.3L226 89.3M236.7 91.1L232.9 88.8M251.6 97.1L248.9 100.1M245.1 89.9L247.4 93.2M254.6 96.4L251.3 98.8M249.7 90.8L246.7 92.9M144.8 113L142.6 110.8M135.6 112.1L135.2 107.3M143.5 111L140.4 114.1M142.5 113.2L139.9 115.8M134.1 112.3L131.9 114.6M141.1 116.3L138.8 118.6M144.7 111L140.1 110.2M162.6 116.5L161.2 114.5M154 115.8L151.8 114.4M155.6 116.3L154.1 118.6M159.2 109.3L158.3 106.8M176.1 117.1L173.1 117.5M181 113.6L177.6 110.6M172.9 111L173.2 107.1M174.3 110.4L173.7 106.9M184.9 111L180.5 111.7M176.7 117.1L172.4 117.8M177.6 110L177.1 106.8M181.1 117.9L176.9 118.6M175.5 113.5L172.7 113.9M199.7 112.9L198.4 115.3M198.4 112.8L196.5 116.7M200.6 118.5L196.5 116.4M211.3 108.7L212.1 112M215 111.2L212.2 113.8M235.6 115.7L235.2 118.3M233.8 114.3L233.4 116.9M142.4 129.5L140.4 132.9M151.6 131.4L149.3 130M143.2 128.8L140.2 129.5M150 137.1L147.9 135.9M148 127.5L144.7 125.6M168.5 129.4L167.2 131.7M173.2 127.2L171.3 130.6M160.5 126.6L162.7 130.5M164.3 130.7L163 133.1M164.8 127.1L163.3 129.9M182.6 128.9L185.8 129M184.1 123.9L184 127.4M181.6 130L180.5 132.6M183.3 126.7L187.9 126.8M214 131.9L211.4 128.8M207.3 128.3L205.2 130M208.4 131.6L205 134.5M209.9 136L207.1 132.7M203.8 129.1L201.7 130.9M204.2 128.1L202.2 125.6M221 130.6L220.6 133.1M226.1 129.9L221.6 129.2M222.2 128.3L221.8 130.7M221.9 126.5L221.4 129.8M222.8 125.2L222.3 128.4M231.1 130.9L226.6 130.2M223.4 124.9L222.7 129.6M247.3 128.5L243 127.7M245.4 134L241.5 133.2M242.3 125.7L239.8 125.3M241.4 134.5L238.1 131.2M248.9 131.5L248 135.9M139.1 148.6L140.1 151.7M133.5 146.1L134.3 148.7M141 143.3L139.9 147.4M135.4 147L136.4 150.2M142.1 152.2L143 155.3M137.3 145.3L134.7 145.5M143.1 149L141 150.6M154.6 147.2L152.4 148.1M161.2 149.6L159.4 147.5M163.6 145.1L162.2 141.7M177.4 150.7L176.4 153.3M180.6 152L178.1 153.7M182.9 145.2L179.7 148.7M184.1 145.8L181.4 147.4M183.9 152L179.8 152.5M197.1 147.6L196.6 150.4M195.2 150.1L194.5 153.5M200.2 152.2L198.1 154.2M201.4 145.2L205.9 146M194.4 144.3L197.1 144.8M217.6 146.3L220.3 143.1M216.2 156.9L214.8 153.4M215.7 153.6L214.4 150.3M223.2 148.8L219.9 150.1M224.5 152L223 149.5M216.3 155.8L215.3 153.3M241.3 148.2L244.5 151M240.4 144.4L237.2 142.3M236.8 152.4L234.3 150.6"/>
<path fill="none" stroke="#383838" stroke-width="0.9" d="M151 56.8L146.5 62M154.4 58.9L154.2 64.4M156.8 55.3L152.4 60.7M171.9 55.3L172.8 60.5M171.7 58.9L167.9 63.2M170.8 57.3L177.1 62.2M169.9 57.5L172.5 64.3M197.1 60.3L189.2 59.4M212.7 60.5L207.6 60.3M214.2 54.6L213.2 59.8M214.4 58.5L211.7 63.7M211.5 57.7L208.3 63.3M233.4 62L225.5 61.5M249 60.9L245.6 55.3M250.7 56.7L243.1 59.5M254.2 56.7L250 61.7M251.6 57.9L245.7 57.2M152.1 79.5L143.8 79M150.9 77.7L145.8 76.2M166.6 79.9L169 72.3M194 79.6L190 76.1M207.9 80.3L200.9 76M209.9 73.2L202.4 77.5M207.6 77L203.4 80.6M210.2 80.7L206.5 75.3M232.8 76.4L227.6 71.5M251.2 77.9L246.1 77.6M244.2 78.1L246.3 71.6M242.5 78.7L245.4 72.2M150.7 95L151.4 89.7M158.5 95.3L151.4 96.1M153.5 95.9L153.4 90.2M170.6 92.2L173.3 86.7M190.9 93.2L186.9 89.5M189.7 88.1L184.5 92.3M215.4 95.6L212.8 89.1M214.2 92L210.5 96.6M234.8 94.9L229 89.6M158.8 117.7L155.8 109.2M181.5 115.1L178.1 109.3M181.4 114.4L174 109.5M199.9 107.3L194.4 113.6M200.9 111.1L194.3 116.5M221.9 111.3L216.3 113.4M216.1 117L214.9 111.9M221.1 111.7L215.6 109.4M233.8 113.1L240.2 114.5M232.6 108.9L233.1 114.7M233.9 108.7L239.5 115.7M151.6 131.4L145.9 132M184.2 126.5L187.4 131.6M208.6 129.9L200.6 129.2M212.2 131L206.5 127.2M225.7 133.3L219.1 128.9M225.9 126.6L220.1 132.5M225.7 130.7L218.9 130.6M223.5 134.6L221 126.9M247.4 131.1L242.4 128.5M146.4 147.9L139.9 152.4M139 145.5L138.2 151.3M141.2 145.9L140.3 151.3M140.4 150.6L136.2 143.4M141.8 148.1L138.6 154.4M160 149.3L158.3 144.3M162.4 149.2L155.3 150.5M156.9 155L159 149.7M183.1 152.8L177.6 150.5M185.8 145.1L179.3 148.4M182.3 152.4L180.2 144M194.3 145.6L202.4 148.9M201.7 144.7L195.8 148M216.3 152.8L215.1 145.3M237.1 144.6L241.3 148.7M239.5 149.7L234.2 151.6M236.8 145.9L235.1 154.1"/>
<path fill="none" stroke="#444444" stroke-width="0.9" d="M157.1 56.6L150.6 62.3M150 56.4L150.4 63.1M165 57.2L172.9 60.4M169.3 57.8L177.5 59.2M190.2 54.4L194.4 60.8M190.8 56.3L192.9 63.2M194.9 60.4L188.8 59.5M190.4 57.9L191.9 63.9M233.8 55.1L227.7 57.3M234.5 63.3L229.6 59.1M251.4 61.8L244.2 58.7M146.2 78.7L148.6 72.1M175 80.2L169.4 74.6M168.1 80.3L168.9 72.9M191.2 78L188.5 71.4M189.5 76.5L182.4 80.1M210 77.9L202 74.7M226.4 75L224.4 81.8M229.9 73.4L224.8 75.8M249.3 80.1L241.3 79.3M246.5 80.4L241.8 75.8M148.9 95.5L149.2 90.4M149.5 96.3L154.4 94.7M167.3 95.3L168.3 86.8M175.5 90L166.6 90.8M192.4 93.5L186.8 96.3M192.5 91.5L187.2 88.6M217.2 94.5L210.2 92.5M212.8 91.4L209.7 97.9M233 96.2L227.3 91.6M233.7 92.2L226.7 89.5M229.6 94.6L231.4 87.3M234.3 93L225.7 92.3M253.1 90.6L253.8 99M251.5 94.1L245.4 90.8M254.5 96.7L247.4 95.4M252.4 94.1L246.9 92.6M134.8 116.2L139.4 109.3M135.6 117.9L141.5 112M141.1 113.9L137.8 109M140.8 114.2L139.6 106.3M154.8 115.4L156.6 110.3M157.4 116.1L157.8 108.5M155.2 114.8L158.7 109.4M178 114.7L183 110M196.8 109.4L192.6 115.9M196.9 117.3L194 112.2M214.2 108.6L214.6 114M232.2 109.7L237.7 113.1M233.2 112.7L234 118.3M148.6 133.4L140.4 130.3M153.9 128.4L145.4 128.2M146.1 126.9L142.2 131.8M163.9 128L167.7 135.2M166.6 127.2L163.1 133.4M169 127.3L162.8 129M184.4 125.3L185.9 131.4M187.2 130.6L181.4 133.6M182.9 126.1L179.8 130.7M184 124.8L185.1 133.6M207.8 132.1L202.5 128.6M210.8 131.9L205.4 126M204.7 131.4L205.6 125.3M211.3 128.6L202.8 129M223.9 128.7L221.2 134.7M245.6 132.5L241.7 127.8M250.6 134L243.4 130.9M158.9 156.9L160.4 149.1M159 154.7L162.4 147M181.5 148.4L176.1 151.8M194.9 146L201.6 148.2M195.2 146L198.1 153.9M219.5 150.3L217.3 145.5M223.4 147.1L217.2 145.5M237.7 147.6L240.9 155.4"/>
<path fill="none" stroke="#505050" stroke-width="0.9" d="M158.3 59.8L150.5 55.7M194.4 58.8L187.6 63.6M208.8 55.7L216 57.6M209.3 58.9L212.5 64.1M230.6 58.3L226.2 61.1M230.3 59.6L227.2 54.6M232.9 57.4L232.8 64.4M252.5 56.2L246.2 57.3M150.2 77.3L148.9 71.9M145.8 75.3L151.5 74.1M146.5 77.7L141.9 73.5M170.6 79.2L170.8 71.1M170.8 77.8L163.9 73.6M168.6 80.5L166.7 74.8M192.3 77L187.9 73.1M193.7 76.2L188 74.7M189.7 79.1L191 72.5M210.7 78.8L206.9 74.7M229 75.3L226.5 80M232.4 72.9L225.3 76.1M229.1 80.3L226.2 72M249.6 78.8L244.3 77M154.4 95.5L152.3 88.9M169.2 95.2L167 87M171.3 96.9L171.9 91.3M175.9 92.8L168.5 92.6M192.4 98.3L190.9 90.5M189.1 94L187.6 87.6M215.9 96.1L207.4 95M213.9 93.9L208.4 94.1M232.2 92.7L228 97.6M254.4 91.6L248 97.3M252.2 91.6L247.6 93.8M133.3 114.5L135.7 109.4M137 113.7L131.8 111.2M160.5 114L151.6 115.4M162.6 110.7L156.2 116M176.5 116L179.9 109.9M177.5 116.3L173.3 108.7M180.5 115.7L179 107.5M203.9 113.3L195.3 115.4M197.5 120.4L198.8 112.8M221.3 117.4L214.8 112.6M217.7 107.8L216.9 115.7M237.4 109L236 116.1M150.3 130.6L144.1 129.6M145 133.5L146.4 127.9M168.4 127L170.6 134.5M171 134L163.6 131.6M168.6 125.9L161.1 130.9M188.6 128.6L182.8 133.3M221.2 135.2L222.2 128.6M248.3 130.8L239.3 131.5M247.8 128.8L240.9 130.3M246.5 131.1L242.2 135.1M142.2 152.2L135.5 149.9M158.6 147.9L164.5 144.2M181.1 154.9L179.8 146.8M181.6 154.8L178.2 147M196.2 142.9L199.6 150.7M201.7 147.6L195.7 149.5M221 152.2L217.9 147.4M221.4 150.1L215.6 151.3M219.8 151.9L215.3 147.7M244.6 147.9L238 150.5M241.9 146.3L240.4 152.5"/>
<g fill="#f4f4f4"><circle cx="145" cy="60.8" r="0.85"/><circle cx="148.3" cy="65" r="0.85"/><circle cx="156.8" cy="64.2" r="0.85"/><circle cx="145.3" cy="54.3" r="0.85"/><circle cx="158.1" cy="59.9" r="0.85"/><circle cx="158.1" cy="67.1" r="0.85"/><circle cx="157.1" cy="51.6" r="0.85"/><circle cx="157.6" cy="61.3" r="0.85"/><circle cx="149.2" cy="61" r="0.85"/><circle cx="150.9" cy="56" r="0.85"/><circle cx="146.8" cy="59.4" r="0.85"/><circle cx="155.2" cy="67.7" r="0.85"/><circle cx="152.6" cy="63.4" r="0.85"/><circle cx="147.6" cy="66.7" r="0.85"/><circle cx="163.1" cy="61.6" r="0.85"/><circle cx="176.6" cy="54.5" r="0.85"/><circle cx="178.5" cy="55.6" r="0.85"/><circle cx="168.9" cy="68.1" r="0.85"/><circle cx="169.3" cy="55.3" r="0.85"/><circle cx="180" cy="57.9" r="0.85"/><circle cx="179.7" cy="54.4" r="0.85"/><circle cx="172.3" cy="66.9" r="0.85"/><circle cx="174.4" cy="55.6" r="0.85"/><circle cx="177.5" cy="59.8" r="0.85"/><circle cx="170.3" cy="50.6" r="0.85"/><circle cx="168.6" cy="59.4" r="0.85"/><circle cx="170.6" cy="65.4" r="0.85"/><circle cx="172.5" cy="55.9" r="0.85"/><circle cx="190.5" cy="65" r="0.85"/><circle cx="198.6" cy="56.2" r="0.85"/><circle cx="195" cy="58.3" r="0.85"/><circle cx="196.7" cy="61.1" r="0.85"/><circle cx="188.6" cy="57.1" r="0.85"/><circle cx="187.6" cy="67.1" r="0.85"/><circle cx="183.2" cy="62.7" r="0.85"/><circle cx="185.6" cy="53" r="0.85"/><circle cx="194.3" cy="60.8" r="0.85"/><circle cx="192.4" cy="52.4" r="0.85"/><circle cx="190.7" cy="54" r="0.85"/><circle cx="197.7" cy="52.7" r="0.85"/><circle cx="195" cy="57.2" r="0.85"/><circle cx="197.5" cy="57.3" r="0.85"/><circle cx="205.4" cy="54.3" r="0.85"/><circle cx="208.5" cy="61.1" r="0.85"/><circle cx="213.8" cy="62.5" r="0.85"/><circle cx="205.9" cy="63.2" r="0.85"/><circle cx="212.7" cy="64.5" r="0.85"/><circle cx="216.8" cy="67.2" r="0.85"/><circle cx="215.3" cy="58" r="0.85"/><circle cx="215.8" cy="58.5" r="0.85"/><circle cx="216.4" cy="57.4" r="0.85"/><circle cx="213.5" cy="53.9" r="0.85"/><circle cx="208" cy="61.3" r="0.85"/><circle cx="214.2" cy="56.7" r="0.85"/><circle cx="209.6" cy="50.5" r="0.85"/><circle cx="208.3" cy="52.2" r="0.85"/><circle cx="229.3" cy="62.9" r="0.85"/><circle cx="223.4" cy="53.4" r="0.85"/><circle cx="229.1" cy="63.5" r="0.85"/><circle cx="227.4" cy="57.2" r="0.85"/><circle cx="224.6" cy="53.8" r="0.85"/><circle cx="223.4" cy="56.5" r="0.85"/><circle cx="236.3" cy="56.5" r="0.85"/><circle cx="221.2" cy="61.2" r="0.85"/><circle cx="226.4" cy="51.8" r="0.85"/><circle cx="233" cy="67.1" r="0.85"/><circle cx="236.9" cy="53.2" r="0.85"/><circle cx="227.2" cy="55.9" r="0.85"/><circle cx="225.8" cy="52.3" r="0.85"/><circle cx="232.2" cy="65.4" r="0.85"/><circle cx="251.3" cy="55.1" r="0.85"/><circle cx="246.4" cy="58.8" r="0.85"/><circle cx="246.3" cy="52.4" r="0.85"/><circle cx="249.9" cy="65.5" r="0.85"/><circle cx="255.9" cy="61.1" r="0.85"/><circle cx="245.9" cy="54.1" r="0.85"/><circle cx="252.7" cy="62.5" r="0.85"/><circle cx="251.4" cy="65.6" r="0.85"/><circle cx="253.2" cy="52.2" r="0.85"/><circle cx="254.5" cy="58.3" r="0.85"/><circle cx="244.9" cy="61.1" r="0.85"/><circle cx="240.4" cy="56.1" r="0.85"/><circle cx="256.6" cy="64.3" r="0.85"/><circle cx="254" cy="58.4" r="0.85"/><circle cx="143.1" cy="78.9" r="0.85"/><circle cx="139.9" cy="80.3" r="0.85"/><circle cx="137.2" cy="77.3" r="0.85"/><circle cx="142.6" cy="73.5" r="0.85"/><circle cx="143.5" cy="75.5" r="0.85"/><circle cx="154.1" cy="76" r="0.85"/><circle cx="147" cy="73.3" r="0.85"/><circle cx="143" cy="81.2" r="0.85"/><circle cx="140.1" cy="82.3" r="0.85"/><circle cx="152.3" cy="82" r="0.85"/><circle cx="147.2" cy="85.7" r="0.85"/><circle cx="154" cy="77.3" r="0.85"/><circle cx="147.1" cy="67.3" r="0.85"/><circle cx="150.8" cy="70.7" r="0.85"/><circle cx="168.3" cy="72.7" r="0.85"/><circle cx="159.5" cy="78.7" r="0.85"/><circle cx="167.8" cy="68.9" r="0.85"/><circle cx="171.7" cy="74.2" r="0.85"/><circle cx="173.6" cy="81.6" r="0.85"/><circle cx="174.7" cy="76.6" r="0.85"/><circle cx="163.5" cy="85.6" r="0.85"/><circle cx="164.6" cy="82.5" r="0.85"/><circle cx="173.7" cy="75.4" r="0.85"/><circle cx="162.5" cy="70.9" r="0.85"/><circle cx="165.2" cy="76.5" r="0.85"/><circle cx="172.8" cy="76" r="0.85"/><circle cx="166.2" cy="86.4" r="0.85"/><circle cx="172.3" cy="85.3" r="0.85"/><circle cx="189.3" cy="68.2" r="0.85"/><circle cx="192.8" cy="78.4" r="0.85"/><circle cx="193.6" cy="81.4" r="0.85"/><circle cx="182.6" cy="80.7" r="0.85"/><circle cx="189.3" cy="71.8" r="0.85"/><circle cx="186.9" cy="73.8" r="0.85"/><circle cx="197.4" cy="82" r="0.85"/><circle cx="183.3" cy="75" r="0.85"/><circle cx="190.6" cy="68.7" r="0.85"/><circle cx="183.8" cy="70.9" r="0.85"/><circle cx="182.3" cy="78.2" r="0.85"/><circle cx="183.7" cy="80.1" r="0.85"/><circle cx="196.2" cy="70.6" r="0.85"/><circle cx="185.4" cy="85.7" r="0.85"/><circle cx="201.6" cy="78.2" r="0.85"/><circle cx="203.1" cy="70.9" r="0.85"/><circle cx="206.1" cy="74.2" r="0.85"/><circle cx="212.7" cy="80.4" r="0.85"/><circle cx="214.7" cy="82.6" r="0.85"/><circle cx="211.9" cy="79.2" r="0.85"/><circle cx="212.8" cy="81.7" r="0.85"/><circle cx="212.6" cy="79.6" r="0.85"/><circle cx="203.1" cy="77.1" r="0.85"/><circle cx="205" cy="81.7" r="0.85"/><circle cx="209" cy="80.3" r="0.85"/><circle cx="204.9" cy="85" r="0.85"/><circle cx="206.2" cy="80.7" r="0.85"/><circle cx="207.1" cy="85.2" r="0.85"/><circle cx="232.3" cy="75.2" r="0.85"/><circle cx="227.4" cy="72.4" r="0.85"/><circle cx="228.8" cy="80.8" r="0.85"/><circle cx="227" cy="82" r="0.85"/><circle cx="222.3" cy="75" r="0.85"/><circle cx="219.5" cy="74.2" r="0.85"/><circle cx="224.5" cy="79.7" r="0.85"/><circle cx="218.5" cy="72.5" r="0.85"/><circle cx="230.2" cy="73.4" r="0.85"/><circle cx="229.8" cy="70" r="0.85"/><circle cx="228.3" cy="82.7" r="0.85"/><circle cx="223.9" cy="78.6" r="0.85"/><circle cx="225.4" cy="80.2" r="0.85"/><circle cx="225.5" cy="72.2" r="0.85"/><circle cx="254.2" cy="80.6" r="0.85"/><circle cx="250.3" cy="81.8" r="0.85"/><circle cx="240.1" cy="77.5" r="0.85"/><circle cx="237" cy="79.1" r="0.85"/><circle cx="240.4" cy="70.9" r="0.85"/><circle cx="255" cy="80.4" r="0.85"/><circle cx="252.8" cy="77.4" r="0.85"/><circle cx="241.5" cy="84" r="0.85"/><circle cx="243.2" cy="74" r="0.85"/><circle cx="244.2" cy="82.5" r="0.85"/><circle cx="251.9" cy="80.7" r="0.85"/><circle cx="248.8" cy="77.7" r="0.85"/><circle cx="242.1" cy="74.9" r="0.85"/><circle cx="244.4" cy="70.8" r="0.85"/><circle cx="146.4" cy="96.3" r="0.85"/><circle cx="143.9" cy="99" r="0.85"/><circle cx="154.6" cy="89.4" r="0.85"/><circle cx="147.6" cy="95.5" r="0.85"/><circle cx="147.5" cy="99.2" r="0.85"/><circle cx="158" cy="97.4" r="0.85"/><circle cx="149.6" cy="97.3" r="0.85"/><circle cx="155" cy="88.6" r="0.85"/><circle cx="160.3" cy="90.6" r="0.85"/><circle cx="152.9" cy="98.1" r="0.85"/><circle cx="154.3" cy="89" r="0.85"/><circle cx="148.5" cy="91.1" r="0.85"/><circle cx="143.2" cy="96.9" r="0.85"/><circle cx="153.2" cy="103" r="0.85"/><circle cx="177.8" cy="86.8" r="0.85"/><circle cx="179.1" cy="90.7" r="0.85"/><circle cx="176.3" cy="95.8" r="0.85"/><circle cx="178.7" cy="94" r="0.85"/><circle cx="165.2" cy="86.8" r="0.85"/><circle cx="165.4" cy="99.5" r="0.85"/><circle cx="173.2" cy="89.4" r="0.85"/><circle cx="175.5" cy="91" r="0.85"/><circle cx="174.5" cy="97" r="0.85"/><circle cx="172.9" cy="85.3" r="0.85"/><circle cx="164.5" cy="88.3" r="0.85"/><circle cx="169.7" cy="96.2" r="0.85"/><circle cx="171.3" cy="97" r="0.85"/><circle cx="165.4" cy="96.7" r="0.85"/><circle cx="185.3" cy="90.5" r="0.85"/><circle cx="184.7" cy="92.3" r="0.85"/><circle cx="187.5" cy="88.1" r="0.85"/><circle cx="188.3" cy="88.7" r="0.85"/><circle cx="196.6" cy="95.5" r="0.85"/><circle cx="192.9" cy="100.9" r="0.85"/><circle cx="186.4" cy="92.3" r="0.85"/><circle cx="197.6" cy="97.7" r="0.85"/><circle cx="187.4" cy="90.3" r="0.85"/><circle cx="194.4" cy="98.1" r="0.85"/><circle cx="184.6" cy="94.8" r="0.85"/><circle cx="188.7" cy="84.8" r="0.85"/><circle cx="194.6" cy="97.4" r="0.85"/><circle cx="193.4" cy="92.8" r="0.85"/><circle cx="215.6" cy="91" r="0.85"/><circle cx="209" cy="97.4" r="0.85"/><circle cx="212" cy="98.4" r="0.85"/><circle cx="214.8" cy="95.5" r="0.85"/><circle cx="208.1" cy="101" r="0.85"/><circle cx="218.7" cy="98" r="0.85"/><circle cx="210.3" cy="87.1" r="0.85"/><circle cx="207.8" cy="85" r="0.85"/><circle cx="216.8" cy="101.6" r="0.85"/><circle cx="214.6" cy="91.8" r="0.85"/><circle cx="218.2" cy="97.1" r="0.85"/><circle cx="201.4" cy="93.4" r="0.85"/><circle cx="210.5" cy="99.5" r="0.85"/><circle cx="212.1" cy="103.5" r="0.85"/><circle cx="235.4" cy="87.3" r="0.85"/><circle cx="233.6" cy="97.2" r="0.85"/><circle cx="229.8" cy="85" r="0.85"/><circle cx="239.4" cy="93.6" r="0.85"/><circle cx="224.3" cy="92.6" r="0.85"/><circle cx="240.6" cy="97.4" r="0.85"/><circle cx="230.2" cy="97.6" r="0.85"/><circle cx="239.6" cy="95.1" r="0.85"/><circle cx="237.9" cy="100.9" r="0.85"/><circle cx="232.7" cy="96.7" r="0.85"/><circle cx="228" cy="90.5" r="0.85"/><circle cx="231.8" cy="97.3" r="0.85"/><circle cx="236" cy="88.5" r="0.85"/><circle cx="227.9" cy="97.2" r="0.85"/><circle cx="257.1" cy="93.2" r="0.85"/><circle cx="255.1" cy="92.4" r="0.85"/><circle cx="254.1" cy="97.2" r="0.85"/><circle cx="254.1" cy="94.7" r="0.85"/><circle cx="253.8" cy="100.7" r="0.85"/><circle cx="253.7" cy="101.1" r="0.85"/><circle cx="252.3" cy="91.5" r="0.85"/><circle cx="245.1" cy="88.7" r="0.85"/><circle cx="259.9" cy="92.2" r="0.85"/><circle cx="249.7" cy="88.6" r="0.85"/><circle cx="255.6" cy="94.5" r="0.85"/><circle cx="252.9" cy="91.8" r="0.85"/><circle cx="259.8" cy="96.3" r="0.85"/><circle cx="255.4" cy="89.5" r="0.85"/><circle cx="141.3" cy="118.7" r="0.85"/><circle cx="137.2" cy="108.7" r="0.85"/><circle cx="133.1" cy="110" r="0.85"/><circle cx="132.9" cy="118.8" r="0.85"/><circle cx="132.1" cy="109.7" r="0.85"/><circle cx="143.7" cy="104.5" r="0.85"/><circle cx="131.3" cy="117.7" r="0.85"/><circle cx="143" cy="114.4" r="0.85"/><circle cx="135.2" cy="102.8" r="0.85"/><circle cx="135.9" cy="121.7" r="0.85"/><circle cx="129.6" cy="108.5" r="0.85"/><circle cx="139.3" cy="103.4" r="0.85"/><circle cx="138.6" cy="120.2" r="0.85"/><circle cx="140.7" cy="109.9" r="0.85"/><circle cx="153.3" cy="105.9" r="0.85"/><circle cx="153.5" cy="117.5" r="0.85"/><circle cx="158.9" cy="105.9" r="0.85"/><circle cx="157.6" cy="109.8" r="0.85"/><circle cx="163" cy="109.3" r="0.85"/><circle cx="153.4" cy="119.7" r="0.85"/><circle cx="165.2" cy="107.2" r="0.85"/><circle cx="153.6" cy="115.5" r="0.85"/><circle cx="160.4" cy="122.3" r="0.85"/><circle cx="154.1" cy="104.7" r="0.85"/><circle cx="155.7" cy="116.6" r="0.85"/><circle cx="160.2" cy="107.5" r="0.85"/><circle cx="160.2" cy="118.9" r="0.85"/><circle cx="160.3" cy="107.7" r="0.85"/><circle cx="184.4" cy="109.7" r="0.85"/><circle cx="176.2" cy="116" r="0.85"/><circle cx="183.2" cy="108.5" r="0.85"/><circle cx="174.3" cy="121.6" r="0.85"/><circle cx="169.1" cy="114.2" r="0.85"/><circle cx="186.7" cy="117.5" r="0.85"/><circle cx="181.2" cy="107.4" r="0.85"/><circle cx="175.2" cy="107.5" r="0.85"/><circle cx="178.1" cy="123.1" r="0.85"/><circle cx="187.5" cy="112.2" r="0.85"/><circle cx="181.5" cy="110" r="0.85"/><circle cx="173.6" cy="112.7" r="0.85"/><circle cx="178.7" cy="122.9" r="0.85"/><circle cx="172.9" cy="111.5" r="0.85"/><circle cx="197.6" cy="120.2" r="0.85"/><circle cx="189.6" cy="109.4" r="0.85"/><circle cx="197.1" cy="110.1" r="0.85"/><circle cx="197.6" cy="105.2" r="0.85"/><circle cx="189.3" cy="118.4" r="0.85"/><circle cx="195.7" cy="108.2" r="0.85"/><circle cx="202.2" cy="109.7" r="0.85"/><circle cx="193.7" cy="112.2" r="0.85"/><circle cx="193.9" cy="111" r="0.85"/><circle cx="190.1" cy="119.8" r="0.85"/><circle cx="192.3" cy="121.3" r="0.85"/><circle cx="193.4" cy="113.9" r="0.85"/><circle cx="199.4" cy="116.5" r="0.85"/><circle cx="198.8" cy="109.3" r="0.85"/><circle cx="208.9" cy="117" r="0.85"/><circle cx="214.7" cy="110.6" r="0.85"/><circle cx="224.2" cy="108.2" r="0.85"/><circle cx="210.1" cy="119.4" r="0.85"/><circle cx="210.7" cy="114.6" r="0.85"/><circle cx="218.7" cy="122.1" r="0.85"/><circle cx="222.6" cy="114" r="0.85"/><circle cx="219.4" cy="117.2" r="0.85"/><circle cx="220.1" cy="122.2" r="0.85"/><circle cx="220.1" cy="105.7" r="0.85"/><circle cx="220.4" cy="109.4" r="0.85"/><circle cx="211.4" cy="113.5" r="0.85"/><circle cx="215.1" cy="120.3" r="0.85"/><circle cx="211.7" cy="120.5" r="0.85"/><circle cx="232.2" cy="107.5" r="0.85"/><circle cx="226.6" cy="107.3" r="0.85"/><circle cx="238.2" cy="119.8" r="0.85"/><circle cx="232.9" cy="107.9" r="0.85"/><circle cx="233.4" cy="120.3" r="0.85"/><circle cx="232.7" cy="106.7" r="0.85"/><circle cx="227.5" cy="116.5" r="0.85"/><circle cx="239.4" cy="114.8" r="0.85"/><circle cx="226.4" cy="117.5" r="0.85"/><circle cx="240.8" cy="116.2" r="0.85"/><circle cx="236.9" cy="110.8" r="0.85"/><circle cx="235.2" cy="108.8" r="0.85"/><circle cx="233.5" cy="108.9" r="0.85"/><circle cx="230.9" cy="113.8" r="0.85"/><circle cx="152.2" cy="124.6" r="0.85"/><circle cx="145" cy="120.7" r="0.85"/><circle cx="141.2" cy="131.6" r="0.85"/><circle cx="142.7" cy="129" r="0.85"/><circle cx="153.1" cy="131.3" r="0.85"/><circle cx="146.6" cy="125.6" r="0.85"/><circle cx="147.8" cy="124.1" r="0.85"/><circle cx="143.7" cy="126.3" r="0.85"/><circle cx="150.4" cy="131.2" r="0.85"/><circle cx="153.5" cy="123.9" r="0.85"/><circle cx="141.7" cy="125.2" r="0.85"/><circle cx="141.5" cy="132.2" r="0.85"/><circle cx="140.2" cy="126.8" r="0.85"/><circle cx="149.2" cy="135.2" r="0.85"/><circle cx="165.1" cy="134.9" r="0.85"/><circle cx="164.3" cy="136.2" r="0.85"/><circle cx="168.5" cy="139.6" r="0.85"/><circle cx="172.1" cy="129.4" r="0.85"/><circle cx="163.4" cy="125.6" r="0.85"/><circle cx="167.9" cy="123" r="0.85"/><circle cx="170.2" cy="135.3" r="0.85"/><circle cx="169.6" cy="126" r="0.85"/><circle cx="171.4" cy="122" r="0.85"/><circle cx="171.7" cy="134" r="0.85"/><circle cx="160.2" cy="134" r="0.85"/><circle cx="162.7" cy="130.6" r="0.85"/><circle cx="160" cy="123.5" r="0.85"/><circle cx="170.1" cy="132.9" r="0.85"/><circle cx="186.9" cy="135.8" r="0.85"/><circle cx="180.9" cy="127.3" r="0.85"/><circle cx="191.3" cy="127.5" r="0.85"/><circle cx="181.5" cy="125.6" r="0.85"/><circle cx="178.5" cy="126.4" r="0.85"/><circle cx="177" cy="131.6" r="0.85"/><circle cx="188.3" cy="126.6" r="0.85"/><circle cx="176.4" cy="133.8" r="0.85"/><circle cx="191" cy="129.5" r="0.85"/><circle cx="191.8" cy="133" r="0.85"/><circle cx="180.6" cy="126.4" r="0.85"/><circle cx="181.3" cy="138.8" r="0.85"/><circle cx="180.5" cy="121.6" r="0.85"/><circle cx="189.9" cy="126.6" r="0.85"/><circle cx="209.2" cy="136.5" r="0.85"/><circle cx="208.1" cy="120.7" r="0.85"/><circle cx="215.6" cy="126.4" r="0.85"/><circle cx="203.5" cy="138.7" r="0.85"/><circle cx="201.1" cy="129.4" r="0.85"/><circle cx="209.7" cy="134.5" r="0.85"/><circle cx="208.6" cy="134" r="0.85"/><circle cx="210.9" cy="138.6" r="0.85"/><circle cx="207.8" cy="137.7" r="0.85"/><circle cx="197.6" cy="126.3" r="0.85"/><circle cx="203.8" cy="132" r="0.85"/><circle cx="210.2" cy="131.5" r="0.85"/><circle cx="203.9" cy="133.5" r="0.85"/><circle cx="200.4" cy="125.4" r="0.85"/><circle cx="216.7" cy="131.2" r="0.85"/><circle cx="223.9" cy="123.7" r="0.85"/><circle cx="225.7" cy="135.4" r="0.85"/><circle cx="221.1" cy="124.1" r="0.85"/><circle cx="218.6" cy="126.6" r="0.85"/><circle cx="227" cy="125.4" r="0.85"/><circle cx="219.7" cy="134.5" r="0.85"/><circle cx="217.3" cy="125.8" r="0.85"/><circle cx="219.6" cy="125.7" r="0.85"/><circle cx="218" cy="132.9" r="0.85"/><circle cx="229" cy="135.5" r="0.85"/><circle cx="228.8" cy="134.2" r="0.85"/><circle cx="220.3" cy="125.8" r="0.85"/><circle cx="229.6" cy="131.5" r="0.85"/><circle cx="235.7" cy="129.2" r="0.85"/><circle cx="252.7" cy="127.5" r="0.85"/><circle cx="247" cy="135.2" r="0.85"/><circle cx="238.7" cy="137.2" r="0.85"/><circle cx="243.9" cy="135.2" r="0.85"/><circle cx="241.2" cy="128" r="0.85"/><circle cx="242.5" cy="133.9" r="0.85"/><circle cx="252.4" cy="128" r="0.85"/><circle cx="241.9" cy="132.4" r="0.85"/><circle cx="253.2" cy="133.4" r="0.85"/><circle cx="242.6" cy="121.8" r="0.85"/><circle cx="241.5" cy="133.6" r="0.85"/><circle cx="236.7" cy="132.2" r="0.85"/><circle cx="245.7" cy="123.6" r="0.85"/><circle cx="145.5" cy="147.3" r="0.85"/><circle cx="148.1" cy="150.9" r="0.85"/><circle cx="146.5" cy="145.2" r="0.85"/><circle cx="133.8" cy="151.2" r="0.85"/><circle cx="136.4" cy="145.9" r="0.85"/><circle cx="144.9" cy="152.9" r="0.85"/><circle cx="141.9" cy="154" r="0.85"/><circle cx="146.8" cy="143.4" r="0.85"/><circle cx="133.1" cy="154.9" r="0.85"/><circle cx="139.7" cy="145.3" r="0.85"/><circle cx="147.9" cy="151.2" r="0.85"/><circle cx="143.6" cy="148" r="0.85"/><circle cx="130.1" cy="150" r="0.85"/><circle cx="143.2" cy="156.6" r="0.85"/><circle cx="153.6" cy="144.5" r="0.85"/><circle cx="156.4" cy="151.8" r="0.85"/><circle cx="159.1" cy="155.9" r="0.85"/><circle cx="165.1" cy="147.7" r="0.85"/><circle cx="155" cy="144.9" r="0.85"/><circle cx="166.5" cy="146" r="0.85"/><circle cx="160" cy="144.4" r="0.85"/><circle cx="160.9" cy="152.8" r="0.85"/><circle cx="159.2" cy="145.5" r="0.85"/><circle cx="156.5" cy="151.5" r="0.85"/><circle cx="162" cy="140.3" r="0.85"/><circle cx="163.5" cy="141.5" r="0.85"/><circle cx="160.5" cy="142.7" r="0.85"/><circle cx="157.3" cy="146.4" r="0.85"/><circle cx="188.3" cy="144.4" r="0.85"/><circle cx="177.3" cy="154.1" r="0.85"/><circle cx="178" cy="145.4" r="0.85"/><circle cx="185" cy="145.4" r="0.85"/><circle cx="174" cy="156.4" r="0.85"/><circle cx="183.7" cy="148.5" r="0.85"/><circle cx="187.5" cy="147.8" r="0.85"/><circle cx="172.8" cy="149.7" r="0.85"/><circle cx="186.9" cy="144.2" r="0.85"/><circle cx="186.1" cy="156.1" r="0.85"/><circle cx="177.6" cy="144.6" r="0.85"/><circle cx="180.7" cy="144.9" r="0.85"/><circle cx="182.9" cy="150.4" r="0.85"/><circle cx="181.8" cy="152.5" r="0.85"/><circle cx="194.5" cy="156.8" r="0.85"/><circle cx="204.2" cy="148.1" r="0.85"/><circle cx="192.9" cy="156.2" r="0.85"/><circle cx="195.8" cy="141.5" r="0.85"/><circle cx="193.1" cy="149" r="0.85"/><circle cx="193.6" cy="153.8" r="0.85"/><circle cx="203.4" cy="145.3" r="0.85"/><circle cx="195.2" cy="156.7" r="0.85"/><circle cx="202.8" cy="144.9" r="0.85"/><circle cx="195" cy="143.3" r="0.85"/><circle cx="198.3" cy="156.3" r="0.85"/><circle cx="197.8" cy="156.9" r="0.85"/><circle cx="197.1" cy="145.6" r="0.85"/><circle cx="204.5" cy="142" r="0.85"/><circle cx="222" cy="140.8" r="0.85"/><circle cx="212.7" cy="151.9" r="0.85"/><circle cx="217.5" cy="146.1" r="0.85"/><circle cx="225.3" cy="152.8" r="0.85"/><circle cx="221.8" cy="154.3" r="0.85"/><circle cx="225.8" cy="145.9" r="0.85"/><circle cx="214.2" cy="150.5" r="0.85"/><circle cx="220.7" cy="140.9" r="0.85"/><circle cx="222.3" cy="153.2" r="0.85"/><circle cx="209.5" cy="145.9" r="0.85"/><circle cx="216" cy="152.6" r="0.85"/><circle cx="218.9" cy="153.2" r="0.85"/><circle cx="211" cy="146.5" r="0.85"/><circle cx="212.4" cy="149" r="0.85"/><circle cx="234.3" cy="151.3" r="0.85"/><circle cx="231" cy="146.8" r="0.85"/><circle cx="241.3" cy="147.2" r="0.85"/><circle cx="231.6" cy="143" r="0.85"/><circle cx="234.2" cy="141.1" r="0.85"/><circle cx="245.2" cy="152.6" r="0.85"/><circle cx="234" cy="143.8" r="0.85"/><circle cx="245.9" cy="148.5" r="0.85"/><circle cx="230.1" cy="148.1" r="0.85"/><circle cx="240.8" cy="147.2" r="0.85"/><circle cx="236" cy="151.8" r="0.85"/><circle cx="235.6" cy="159" r="0.85"/><circle cx="246.3" cy="148.8" r="0.85"/><circle cx="233" cy="149.8" r="0.85"/></g>
<g fill="#f4f4f4" stroke="#909090" stroke-width="0.3"><circle cx="161.8" cy="57.6" r="0.75"/><circle cx="160.6" cy="65.1" r="0.75"/><circle cx="158.1" cy="67.8" r="0.75"/><circle cx="144.5" cy="66.5" r="0.75"/><circle cx="143.7" cy="54.4" r="0.75"/><circle cx="157.7" cy="51.3" r="0.75"/><circle cx="181.6" cy="60.5" r="0.75"/><circle cx="167" cy="67.4" r="0.75"/><circle cx="165.4" cy="52.7" r="0.75"/><circle cx="172.7" cy="50.4" r="0.75"/><circle cx="181.1" cy="58" r="0.75"/><circle cx="201.1" cy="60.2" r="0.75"/><circle cx="192.9" cy="68.1" r="0.75"/><circle cx="182" cy="61.4" r="0.75"/><circle cx="182.3" cy="61.7" r="0.75"/><circle cx="185.4" cy="51.4" r="0.75"/><circle cx="190.2" cy="49.4" r="0.75"/><circle cx="193.4" cy="50.3" r="0.75"/><circle cx="199.7" cy="55.7" r="0.75"/><circle cx="220.1" cy="57.2" r="0.75"/><circle cx="217.9" cy="66.1" r="0.75"/><circle cx="216.6" cy="66.8" r="0.75"/><circle cx="204.2" cy="66.8" r="0.75"/><circle cx="205.4" cy="66.8" r="0.75"/><circle cx="202.3" cy="54.4" r="0.75"/><circle cx="213.2" cy="49.1" r="0.75"/><circle cx="218.6" cy="53.3" r="0.75"/><circle cx="220.3" cy="55" r="0.75"/><circle cx="239.5" cy="63.9" r="0.75"/><circle cx="233.4" cy="68.4" r="0.75"/><circle cx="231.5" cy="69.7" r="0.75"/><circle cx="221.3" cy="57.3" r="0.75"/><circle cx="225.3" cy="51.4" r="0.75"/><circle cx="229.3" cy="48.9" r="0.75"/><circle cx="234.1" cy="51.2" r="0.75"/><circle cx="237.5" cy="53.4" r="0.75"/><circle cx="257.6" cy="64.2" r="0.75"/><circle cx="254.9" cy="66" r="0.75"/><circle cx="247.7" cy="68.3" r="0.75"/><circle cx="240.3" cy="58.6" r="0.75"/><circle cx="250.8" cy="49.1" r="0.75"/><circle cx="254.3" cy="50.5" r="0.75"/><circle cx="255.2" cy="51.1" r="0.75"/><circle cx="152.6" cy="85" r="0.75"/><circle cx="154.8" cy="84" r="0.75"/><circle cx="149.2" cy="85.9" r="0.75"/><circle cx="143.7" cy="86.6" r="0.75"/><circle cx="138" cy="80.7" r="0.75"/><circle cx="141.4" cy="69.1" r="0.75"/><circle cx="149" cy="67.3" r="0.75"/><circle cx="155.3" cy="73.6" r="0.75"/><circle cx="170.4" cy="86.9" r="0.75"/><circle cx="162.6" cy="85" r="0.75"/><circle cx="159.3" cy="77.2" r="0.75"/><circle cx="159.6" cy="76.6" r="0.75"/><circle cx="162.1" cy="69.8" r="0.75"/><circle cx="167.4" cy="67.8" r="0.75"/><circle cx="173.4" cy="69" r="0.75"/><circle cx="199" cy="76.6" r="0.75"/><circle cx="193.8" cy="84.9" r="0.75"/><circle cx="185.5" cy="86.9" r="0.75"/><circle cx="181.6" cy="82.5" r="0.75"/><circle cx="179.6" cy="79.3" r="0.75"/><circle cx="183.4" cy="68.8" r="0.75"/><circle cx="198.9" cy="74.3" r="0.75"/><circle cx="213.1" cy="84.4" r="0.75"/><circle cx="213.3" cy="84.2" r="0.75"/><circle cx="200.3" cy="85.7" r="0.75"/><circle cx="196.9" cy="80.3" r="0.75"/><circle cx="199.6" cy="70.3" r="0.75"/><circle cx="204.7" cy="68" r="0.75"/><circle cx="236" cy="76.3" r="0.75"/><circle cx="235.2" cy="81.4" r="0.75"/><circle cx="232.1" cy="85" r="0.75"/><circle cx="229.2" cy="85" r="0.75"/><circle cx="217.4" cy="73.8" r="0.75"/><circle cx="234" cy="69.2" r="0.75"/><circle cx="247.5" cy="87.6" r="0.75"/><circle cx="236.3" cy="76" r="0.75"/><circle cx="237.4" cy="74" r="0.75"/><circle cx="243.9" cy="68" r="0.75"/><circle cx="254.8" cy="72.3" r="0.75"/><circle cx="154.8" cy="103.4" r="0.75"/><circle cx="144" cy="99" r="0.75"/><circle cx="144.4" cy="88.7" r="0.75"/><circle cx="155.9" cy="84.7" r="0.75"/><circle cx="155.4" cy="85.5" r="0.75"/><circle cx="160.9" cy="88.7" r="0.75"/><circle cx="180.3" cy="96.5" r="0.75"/><circle cx="175.8" cy="100.8" r="0.75"/><circle cx="167.2" cy="102.4" r="0.75"/><circle cx="161.1" cy="94.1" r="0.75"/><circle cx="161.9" cy="88" r="0.75"/><circle cx="166.5" cy="83.5" r="0.75"/><circle cx="174" cy="82.7" r="0.75"/><circle cx="199" cy="94.5" r="0.75"/><circle cx="182.6" cy="100.1" r="0.75"/><circle cx="180.4" cy="96.2" r="0.75"/><circle cx="180.1" cy="89.4" r="0.75"/><circle cx="189.1" cy="83.2" r="0.75"/><circle cx="190.4" cy="83.3" r="0.75"/><circle cx="192.2" cy="83.7" r="0.75"/><circle cx="220.8" cy="95.7" r="0.75"/><circle cx="219.1" cy="98.3" r="0.75"/><circle cx="216.4" cy="101.2" r="0.75"/><circle cx="212.4" cy="102.8" r="0.75"/><circle cx="206.4" cy="102.1" r="0.75"/><circle cx="201.4" cy="97.3" r="0.75"/><circle cx="201.7" cy="90.5" r="0.75"/><circle cx="204.4" cy="85.9" r="0.75"/><circle cx="216.9" cy="86.5" r="0.75"/><circle cx="220.2" cy="92.4" r="0.75"/><circle cx="240.5" cy="97.4" r="0.75"/><circle cx="234.3" cy="101.9" r="0.75"/><circle cx="226.1" cy="101.7" r="0.75"/><circle cx="223.3" cy="97" r="0.75"/><circle cx="222.1" cy="90.9" r="0.75"/><circle cx="229.2" cy="83.2" r="0.75"/><circle cx="234.7" cy="83.9" r="0.75"/><circle cx="260.4" cy="93.6" r="0.75"/><circle cx="257.7" cy="100.4" r="0.75"/><circle cx="248.5" cy="104.6" r="0.75"/><circle cx="246.7" cy="102.6" r="0.75"/><circle cx="241" cy="93.2" r="0.75"/><circle cx="244" cy="87.5" r="0.75"/><circle cx="245.4" cy="85.9" r="0.75"/><circle cx="147.1" cy="115.2" r="0.75"/><circle cx="144.2" cy="119.6" r="0.75"/><circle cx="142.1" cy="120.3" r="0.75"/><circle cx="133.3" cy="120.2" r="0.75"/><circle cx="129.4" cy="117" r="0.75"/><circle cx="128.4" cy="111" r="0.75"/><circle cx="147.3" cy="109.4" r="0.75"/><circle cx="150.2" cy="118.7" r="0.75"/><circle cx="148.5" cy="111.2" r="0.75"/><circle cx="152" cy="106" r="0.75"/><circle cx="159" cy="104.3" r="0.75"/><circle cx="187.4" cy="117.2" r="0.75"/><circle cx="185.6" cy="120.3" r="0.75"/><circle cx="182.3" cy="122.6" r="0.75"/><circle cx="175.8" cy="123.4" r="0.75"/><circle cx="170.6" cy="118.7" r="0.75"/><circle cx="173.8" cy="104.9" r="0.75"/><circle cx="177.2" cy="102.9" r="0.75"/><circle cx="179.6" cy="104.4" r="0.75"/><circle cx="186.4" cy="106.9" r="0.75"/><circle cx="206.8" cy="110.7" r="0.75"/><circle cx="205.3" cy="118.8" r="0.75"/><circle cx="195.8" cy="122.8" r="0.75"/><circle cx="188.8" cy="117" r="0.75"/><circle cx="187" cy="113.9" r="0.75"/><circle cx="188.3" cy="110.6" r="0.75"/><circle cx="191.1" cy="105.4" r="0.75"/><circle cx="198.2" cy="104.4" r="0.75"/><circle cx="202.2" cy="105.2" r="0.75"/><circle cx="226.7" cy="111.5" r="0.75"/><circle cx="225" cy="119.2" r="0.75"/><circle cx="222.3" cy="121.3" r="0.75"/><circle cx="220.9" cy="122.3" r="0.75"/><circle cx="212.9" cy="122.8" r="0.75"/><circle cx="208.9" cy="118.6" r="0.75"/><circle cx="209.5" cy="108.3" r="0.75"/><circle cx="210.2" cy="107.5" r="0.75"/><circle cx="220.9" cy="104.2" r="0.75"/><circle cx="226.3" cy="110.2" r="0.75"/><circle cx="243.5" cy="113.8" r="0.75"/><circle cx="243.8" cy="118.1" r="0.75"/><circle cx="239.2" cy="121.3" r="0.75"/><circle cx="232.9" cy="123" r="0.75"/><circle cx="227.6" cy="106.2" r="0.75"/><circle cx="239.2" cy="104" r="0.75"/><circle cx="243.3" cy="108.3" r="0.75"/><circle cx="150.5" cy="139.5" r="0.75"/><circle cx="142.4" cy="138.8" r="0.75"/><circle cx="141.8" cy="138.2" r="0.75"/><circle cx="140.5" cy="136.5" r="0.75"/><circle cx="138.2" cy="126.2" r="0.75"/><circle cx="142.7" cy="122" r="0.75"/><circle cx="175.9" cy="129.8" r="0.75"/><circle cx="170.6" cy="138.8" r="0.75"/><circle cx="168.9" cy="140" r="0.75"/><circle cx="160" cy="138.2" r="0.75"/><circle cx="157.5" cy="134.5" r="0.75"/><circle cx="156" cy="131.7" r="0.75"/><circle cx="163.5" cy="120.8" r="0.75"/><circle cx="170.5" cy="121.3" r="0.75"/><circle cx="193.1" cy="131.1" r="0.75"/><circle cx="190.9" cy="137.3" r="0.75"/><circle cx="181.7" cy="138.5" r="0.75"/><circle cx="176.8" cy="135.8" r="0.75"/><circle cx="179.5" cy="120.6" r="0.75"/><circle cx="185.4" cy="120.9" r="0.75"/><circle cx="193.2" cy="125.2" r="0.75"/><circle cx="216.2" cy="127.9" r="0.75"/><circle cx="204" cy="138.6" r="0.75"/><circle cx="207.7" cy="119.9" r="0.75"/><circle cx="211.3" cy="122.1" r="0.75"/><circle cx="216.1" cy="127.9" r="0.75"/><circle cx="233.4" cy="134.3" r="0.75"/><circle cx="231.5" cy="136.9" r="0.75"/><circle cx="218.5" cy="136.9" r="0.75"/><circle cx="214.2" cy="131.9" r="0.75"/><circle cx="215" cy="127" r="0.75"/><circle cx="218.3" cy="121.2" r="0.75"/><circle cx="219.7" cy="120.3" r="0.75"/><circle cx="230.5" cy="121.9" r="0.75"/><circle cx="254.1" cy="130.3" r="0.75"/><circle cx="253" cy="135.5" r="0.75"/><circle cx="246.6" cy="140" r="0.75"/><circle cx="239.9" cy="139.3" r="0.75"/><circle cx="234.6" cy="131.1" r="0.75"/><circle cx="240.6" cy="122.3" r="0.75"/><circle cx="242.8" cy="121.1" r="0.75"/><circle cx="251.1" cy="122.3" r="0.75"/><circle cx="253.8" cy="126" r="0.75"/><circle cx="147.4" cy="156.1" r="0.75"/><circle cx="142.1" cy="158.9" r="0.75"/><circle cx="133" cy="156.6" r="0.75"/><circle cx="132.1" cy="154.5" r="0.75"/><circle cx="129.9" cy="145.9" r="0.75"/><circle cx="131.4" cy="143.6" r="0.75"/><circle cx="132.7" cy="143.9" r="0.75"/><circle cx="144.9" cy="140.9" r="0.75"/><circle cx="148.4" cy="144.6" r="0.75"/><circle cx="168.6" cy="154.9" r="0.75"/><circle cx="164.5" cy="158.1" r="0.75"/><circle cx="154.5" cy="157.5" r="0.75"/><circle cx="151.1" cy="145.9" r="0.75"/><circle cx="159.6" cy="140.1" r="0.75"/><circle cx="166.8" cy="143.5" r="0.75"/><circle cx="168.9" cy="147.6" r="0.75"/><circle cx="190.3" cy="149.7" r="0.75"/><circle cx="189.3" cy="153.2" r="0.75"/><circle cx="181" cy="158.2" r="0.75"/><circle cx="177.2" cy="157.8" r="0.75"/><circle cx="177.8" cy="158.6" r="0.75"/><circle cx="201.4" cy="158.2" r="0.75"/><circle cx="194.9" cy="158.1" r="0.75"/><circle cx="193.9" cy="141.6" r="0.75"/><circle cx="199.4" cy="139.1" r="0.75"/><circle cx="206.2" cy="141.8" r="0.75"/><circle cx="208.6" cy="144.1" r="0.75"/><circle cx="227.9" cy="152.8" r="0.75"/><circle cx="226.5" cy="155.7" r="0.75"/><circle cx="209.6" cy="147.3" r="0.75"/><circle cx="212.3" cy="142.5" r="0.75"/><circle cx="217.3" cy="139.1" r="0.75"/><circle cx="222.9" cy="140.9" r="0.75"/><circle cx="227.7" cy="145.4" r="0.75"/><circle cx="245.9" cy="154.3" r="0.75"/><circle cx="242.9" cy="158.3" r="0.75"/><circle cx="237.7" cy="159.4" r="0.75"/><circle cx="234" cy="157.9" r="0.75"/><circle cx="230.2" cy="153.9" r="0.75"/><circle cx="228" cy="150.8" r="0.75"/><circle cx="240.6" cy="139.5" r="0.75"/><circle cx="241.1" cy="139.6" r="0.75"/><circle cx="246.8" cy="144.2" r="0.75"/></g>
<circle cx="145.71" cy="54.71" r="0.9" fill="#c81010"/>
<circle cx="152.45" cy="53.02" r="0.9" fill="#c81010"/>
<circle cx="151.33" cy="66.9" r="0.9" fill="#c81010"/>
<circle cx="150.78" cy="56.37" r="0.9" fill="#c81010"/>
<circle cx="145.12" cy="62.2" r="0.9" fill="#c81010"/>
<circle cx="157.74" cy="65.07" r="0.9" fill="#c81010"/>
<circle cx="167.36" cy="54.45" r="0.9" fill="#c81010"/>
<circle cx="167.93" cy="55.39" r="0.83" fill="#c81010"/>
<circle cx="174.39" cy="64.46" r="0.9" fill="#c81010"/>
<circle cx="172.79" cy="65.57" r="0.9" fill="#c81010"/>
<circle cx="176.72" cy="54.92" r="0.9" fill="#c81010"/>
<circle cx="175.97" cy="58.17" r="0.9" fill="#c81010"/>
<circle cx="167.08" cy="53.3" r="0.9" fill="#c81010"/>
<circle cx="184.39" cy="55.6" r="0.9" fill="#c81010"/>
<circle cx="183.64" cy="54.8" r="0.83" fill="#c81010"/>
<circle cx="196.73" cy="61.29" r="0.9" fill="#c81010"/>
<circle cx="188.39" cy="62.02" r="0.9" fill="#c81010"/>
<circle cx="189.27" cy="61.37" r="0.83" fill="#c81010"/>
<circle cx="194.55" cy="64.93" r="0.9" fill="#c81010"/>
<circle cx="197.65" cy="57.61" r="0.9" fill="#c81010"/>
<circle cx="197.04" cy="56.69" r="0.83" fill="#c81010"/>
<circle cx="191.37" cy="67.48" r="0.9" fill="#c81010"/>
<circle cx="190.31" cy="67.76" r="0.83" fill="#c81010"/>
<circle cx="217.27" cy="57.33" r="0.9" fill="#c81010"/>
<circle cx="216.2" cy="59.92" r="0.9" fill="#c81010"/>
<circle cx="203.8" cy="56.24" r="0.9" fill="#c81010"/>
<circle cx="203.79" cy="55.14" r="0.83" fill="#c81010"/>
<circle cx="212.95" cy="64.5" r="0.9" fill="#c81010"/>
<circle cx="206.28" cy="63.14" r="0.9" fill="#c81010"/>
<circle cx="206.56" cy="64.21" r="0.83" fill="#c81010"/>
<circle cx="214.69" cy="58.08" r="0.9" fill="#c81010"/>
<circle cx="215.73" cy="57.72" r="0.83" fill="#c81010"/>
<circle cx="224.64" cy="65.63" r="0.9" fill="#c81010"/>
<circle cx="231.54" cy="66.3" r="0.9" fill="#c81010"/>
<circle cx="226.18" cy="58.63" r="0.9" fill="#c81010"/>
<circle cx="235.77" cy="57.04" r="0.9" fill="#c81010"/>
<circle cx="229.69" cy="65.99" r="0.9" fill="#c81010"/>
<circle cx="230.3" cy="65.08" r="0.83" fill="#c81010"/>
<circle cx="234.1" cy="58.15" r="0.9" fill="#c81010"/>
<circle cx="250.55" cy="66.97" r="0.9" fill="#c81010"/>
<circle cx="249.78" cy="67.76" r="0.83" fill="#c81010"/>
<circle cx="254.05" cy="55.5" r="0.9" fill="#c81010"/>
<circle cx="247.88" cy="55.04" r="0.9" fill="#c81010"/>
<circle cx="258.07" cy="57.42" r="0.9" fill="#c81010"/>
<circle cx="259.17" cy="57.56" r="0.83" fill="#c81010"/>
<circle cx="246.34" cy="53.02" r="0.9" fill="#c81010"/>
<circle cx="246.58" cy="54.09" r="0.83" fill="#c81010"/>
<circle cx="254.62" cy="55.95" r="0.9" fill="#c81010"/>
<circle cx="255.71" cy="56.12" r="0.83" fill="#c81010"/>
<circle cx="141.14" cy="73.12" r="0.9" fill="#c81010"/>
<circle cx="140.08" cy="73.41" r="0.83" fill="#c81010"/>
<circle cx="150.37" cy="70.52" r="0.9" fill="#c81010"/>
<circle cx="153.34" cy="82.03" r="0.9" fill="#c81010"/>
<circle cx="147.68" cy="83.44" r="0.9" fill="#c81010"/>
<circle cx="147.4" cy="84.5" r="0.83" fill="#c81010"/>
<circle cx="143.64" cy="83.66" r="0.9" fill="#c81010"/>
<circle cx="154.32" cy="75.12" r="0.9" fill="#c81010"/>
<circle cx="175.37" cy="72.44" r="0.9" fill="#c81010"/>
<circle cx="169.42" cy="83.97" r="0.9" fill="#c81010"/>
<circle cx="165.69" cy="69.31" r="0.9" fill="#c81010"/>
<circle cx="167.04" cy="85.13" r="0.9" fill="#c81010"/>
<circle cx="174.67" cy="79.62" r="0.9" fill="#c81010"/>
<circle cx="174.47" cy="78.54" r="0.83" fill="#c81010"/>
<circle cx="166.62" cy="73.11" r="0.9" fill="#c81010"/>
<circle cx="167.41" cy="72.34" r="0.83" fill="#c81010"/>
<circle cx="196.36" cy="74.84" r="0.9" fill="#c81010"/>
<circle cx="196.48" cy="73.75" r="0.83" fill="#c81010"/>
<circle cx="194.75" cy="79.56" r="0.9" fill="#c81010"/>
<circle cx="193.99" cy="80.36" r="0.83" fill="#c81010"/>
<circle cx="193.2" cy="75.99" r="0.9" fill="#c81010"/>
<circle cx="192.51" cy="76.85" r="0.83" fill="#c81010"/>
<circle cx="183.35" cy="83.61" r="0.9" fill="#c81010"/>
<circle cx="184.02" cy="84.48" r="0.83" fill="#c81010"/>
<circle cx="195.78" cy="80.96" r="0.9" fill="#c81010"/>
<circle cx="185.82" cy="73.35" r="0.9" fill="#c81010"/>
<circle cx="185.27" cy="74.3" r="0.83" fill="#c81010"/>
<circle cx="213.85" cy="81.91" r="0.9" fill="#c81010"/>
<circle cx="203.48" cy="75.79" r="0.9" fill="#c81010"/>
<circle cx="202.79" cy="76.65" r="0.83" fill="#c81010"/>
<circle cx="210.37" cy="81.96" r="0.9" fill="#c81010"/>
<circle cx="209.9" cy="80.97" r="0.83" fill="#c81010"/>
<circle cx="210.29" cy="80.73" r="0.9" fill="#c81010"/>
<circle cx="202.84" cy="70.5" r="0.9" fill="#c81010"/>
<circle cx="201.94" cy="71.13" r="0.83" fill="#c81010"/>
<circle cx="207.66" cy="69.25" r="0.9" fill="#c81010"/>
<circle cx="232.33" cy="71.8" r="0.9" fill="#c81010"/>
<circle cx="233.42" cy="71.65" r="0.83" fill="#c81010"/>
<circle cx="235.61" cy="77.33" r="0.9" fill="#c81010"/>
<circle cx="235.05" cy="78.27" r="0.83" fill="#c81010"/>
<circle cx="231.93" cy="76.09" r="0.9" fill="#c81010"/>
<circle cx="234.9" cy="75.46" r="0.9" fill="#c81010"/>
<circle cx="223.53" cy="79.58" r="0.9" fill="#c81010"/>
<circle cx="231.69" cy="76.75" r="0.9" fill="#c81010"/>
<circle cx="253.77" cy="76.54" r="0.9" fill="#c81010"/>
<circle cx="252.91" cy="72.82" r="0.9" fill="#c81010"/>
<circle cx="239.28" cy="77.37" r="0.9" fill="#c81010"/>
<circle cx="240.44" cy="75.67" r="0.9" fill="#c81010"/>
<circle cx="248.23" cy="73.88" r="0.9" fill="#c81010"/>
<circle cx="250.01" cy="78.58" r="0.9" fill="#c81010"/>
<circle cx="148.18" cy="101.55" r="0.9" fill="#c81010"/>
<circle cx="145.19" cy="91.61" r="0.9" fill="#c81010"/>
<circle cx="144.78" cy="92.63" r="0.83" fill="#c81010"/>
<circle cx="155.71" cy="99.46" r="0.9" fill="#c81010"/>
<circle cx="154.92" cy="87.46" r="0.9" fill="#c81010"/>
<circle cx="154.03" cy="86.81" r="0.83" fill="#c81010"/>
<circle cx="158.86" cy="91.31" r="0.9" fill="#c81010"/>
<circle cx="158.19" cy="90.43" r="0.83" fill="#c81010"/>
<circle cx="146.75" cy="98.04" r="0.9" fill="#c81010"/>
<circle cx="168.37" cy="84.87" r="0.9" fill="#c81010"/>
<circle cx="167.91" cy="83.87" r="0.83" fill="#c81010"/>
<circle cx="171.73" cy="86.33" r="0.9" fill="#c81010"/>
<circle cx="175.27" cy="96.82" r="0.9" fill="#c81010"/>
<circle cx="175.09" cy="97.91" r="0.83" fill="#c81010"/>
<circle cx="178.55" cy="94.97" r="0.9" fill="#c81010"/>
<circle cx="177.93" cy="94.06" r="0.83" fill="#c81010"/>
<circle cx="168.38" cy="89.02" r="0.9" fill="#c81010"/>
<circle cx="175.87" cy="88.36" r="0.9" fill="#c81010"/>
<circle cx="182.51" cy="88.81" r="0.9" fill="#c81010"/>
<circle cx="186.9" cy="95.57" r="0.9" fill="#c81010"/>
<circle cx="195.33" cy="89.55" r="0.9" fill="#c81010"/>
<circle cx="193.11" cy="87.44" r="0.9" fill="#c81010"/>
<circle cx="184.88" cy="94.9" r="0.9" fill="#c81010"/>
<circle cx="189.4" cy="89.01" r="0.9" fill="#c81010"/>
<circle cx="209.31" cy="102.41" r="0.9" fill="#c81010"/>
<circle cx="215.94" cy="95.5" r="0.9" fill="#c81010"/>
<circle cx="217.84" cy="90.73" r="0.9" fill="#c81010"/>
<circle cx="206.94" cy="96.47" r="0.9" fill="#c81010"/>
<circle cx="213.91" cy="85.67" r="0.9" fill="#c81010"/>
<circle cx="214.67" cy="92.63" r="0.9" fill="#c81010"/>
<circle cx="234.01" cy="89.23" r="0.9" fill="#c81010"/>
<circle cx="233.02" cy="89.71" r="0.83" fill="#c81010"/>
<circle cx="233.47" cy="88.32" r="0.9" fill="#c81010"/>
<circle cx="232.48" cy="88.25" r="0.9" fill="#c81010"/>
<circle cx="237.6" cy="86.59" r="0.9" fill="#c81010"/>
<circle cx="237.16" cy="85.59" r="0.83" fill="#c81010"/>
<circle cx="232.38" cy="88.66" r="0.9" fill="#c81010"/>
<circle cx="235.4" cy="100.45" r="0.9" fill="#c81010"/>
<circle cx="255.5" cy="97.25" r="0.9" fill="#c81010"/>
<circle cx="250.97" cy="89.16" r="0.9" fill="#c81010"/>
<circle cx="251.34" cy="90.2" r="0.83" fill="#c81010"/>
<circle cx="252.38" cy="90.99" r="0.9" fill="#c81010"/>
<circle cx="251.34" cy="89.78" r="0.9" fill="#c81010"/>
<circle cx="245.67" cy="90.05" r="0.9" fill="#c81010"/>
<circle cx="245.34" cy="91.1" r="0.83" fill="#c81010"/>
<circle cx="246.75" cy="98.81" r="0.9" fill="#c81010"/>
<circle cx="247.78" cy="99.19" r="0.83" fill="#c81010"/>
<circle cx="142.88" cy="119.36" r="0.9" fill="#c81010"/>
<circle cx="140.93" cy="109.58" r="0.9" fill="#c81010"/>
<circle cx="140.9" cy="120.12" r="0.9" fill="#c81010"/>
<circle cx="145.25" cy="107.58" r="0.9" fill="#c81010"/>
<circle cx="133.22" cy="113.55" r="0.9" fill="#c81010"/>
<circle cx="132.88" cy="116.33" r="0.9" fill="#c81010"/>
<circle cx="150.57" cy="113.86" r="0.9" fill="#c81010"/>
<circle cx="151.61" cy="114.24" r="0.83" fill="#c81010"/>
<circle cx="162.62" cy="112.6" r="0.9" fill="#c81010"/>
<circle cx="152.04" cy="116.21" r="0.9" fill="#c81010"/>
<circle cx="152.7" cy="115.33" r="0.83" fill="#c81010"/>
<circle cx="166.26" cy="111.81" r="0.9" fill="#c81010"/>
<circle cx="161.27" cy="117.99" r="0.9" fill="#c81010"/>
<circle cx="160.98" cy="119.05" r="0.83" fill="#c81010"/>
<circle cx="149.92" cy="117.54" r="0.9" fill="#c81010"/>
<circle cx="150.99" cy="117.29" r="0.83" fill="#c81010"/>
<circle cx="173.95" cy="112.39" r="0.9" fill="#c81010"/>
<circle cx="172.85" cy="112.29" r="0.83" fill="#c81010"/>
<circle cx="172.35" cy="119.84" r="0.9" fill="#c81010"/>
<circle cx="172.27" cy="108.72" r="0.9" fill="#c81010"/>
<circle cx="173.34" cy="108.44" r="0.83" fill="#c81010"/>
<circle cx="181.15" cy="105.43" r="0.9" fill="#c81010"/>
<circle cx="182.05" cy="118.83" r="0.9" fill="#c81010"/>
<circle cx="181.18" cy="118.16" r="0.83" fill="#c81010"/>
<circle cx="181.92" cy="119.51" r="0.9" fill="#c81010"/>
<circle cx="191.21" cy="108.69" r="0.9" fill="#c81010"/>
<circle cx="189.38" cy="117.64" r="0.9" fill="#c81010"/>
<circle cx="201.95" cy="117.7" r="0.9" fill="#c81010"/>
<circle cx="200.07" cy="118.07" r="0.9" fill="#c81010"/>
<circle cx="199.88" cy="116.98" r="0.83" fill="#c81010"/>
<circle cx="200.83" cy="111.39" r="0.9" fill="#c81010"/>
<circle cx="201.54" cy="112.24" r="0.83" fill="#c81010"/>
<circle cx="200.53" cy="110.38" r="0.9" fill="#c81010"/>
<circle cx="216.6" cy="117.71" r="0.9" fill="#c81010"/>
<circle cx="212.79" cy="118.26" r="0.9" fill="#c81010"/>
<circle cx="221.14" cy="116.05" r="0.9" fill="#c81010"/>
<circle cx="220.79" cy="117.1" r="0.83" fill="#c81010"/>
<circle cx="214.56" cy="116.14" r="0.9" fill="#c81010"/>
<circle cx="216.17" cy="110.03" r="0.9" fill="#c81010"/>
<circle cx="215.09" cy="110.21" r="0.83" fill="#c81010"/>
<circle cx="212.88" cy="105.68" r="0.9" fill="#c81010"/>
<circle cx="233.78" cy="117.94" r="0.9" fill="#c81010"/>
<circle cx="238.66" cy="108.4" r="0.9" fill="#c81010"/>
<circle cx="229.61" cy="119.73" r="0.9" fill="#c81010"/>
<circle cx="229.52" cy="116.08" r="0.9" fill="#c81010"/>
<circle cx="228.81" cy="111.71" r="0.9" fill="#c81010"/>
<circle cx="227.74" cy="111.93" r="0.83" fill="#c81010"/>
<circle cx="235.11" cy="106.43" r="0.9" fill="#c81010"/>
<circle cx="155" cy="127.52" r="0.9" fill="#c81010"/>
<circle cx="154.05" cy="128.08" r="0.83" fill="#c81010"/>
<circle cx="142.66" cy="132.47" r="0.9" fill="#c81010"/>
<circle cx="143.73" cy="132.72" r="0.83" fill="#c81010"/>
<circle cx="152.61" cy="127.77" r="0.9" fill="#c81010"/>
<circle cx="150.49" cy="134.31" r="0.9" fill="#c81010"/>
<circle cx="142.52" cy="123.7" r="0.9" fill="#c81010"/>
<circle cx="143.6" cy="123.52" r="0.83" fill="#c81010"/>
<circle cx="142.1" cy="128.93" r="0.9" fill="#c81010"/>
<circle cx="167.13" cy="126.78" r="0.9" fill="#c81010"/>
<circle cx="159.7" cy="125.47" r="0.9" fill="#c81010"/>
<circle cx="159.23" cy="126.47" r="0.83" fill="#c81010"/>
<circle cx="159.32" cy="126.07" r="0.9" fill="#c81010"/>
<circle cx="167.23" cy="124.13" r="0.9" fill="#c81010"/>
<circle cx="166.81" cy="123.11" r="0.83" fill="#c81010"/>
<circle cx="159.72" cy="136.26" r="0.9" fill="#c81010"/>
<circle cx="164.61" cy="137.08" r="0.9" fill="#c81010"/>
<circle cx="164.36" cy="138.15" r="0.83" fill="#c81010"/>
<circle cx="179.28" cy="130.74" r="0.9" fill="#c81010"/>
<circle cx="178.62" cy="127.17" r="0.9" fill="#c81010"/>
<circle cx="179.09" cy="128.81" r="0.9" fill="#c81010"/>
<circle cx="180.05" cy="129.34" r="0.83" fill="#c81010"/>
<circle cx="181.94" cy="121.96" r="0.9" fill="#c81010"/>
<circle cx="178.43" cy="129.3" r="0.9" fill="#c81010"/>
<circle cx="191.61" cy="130.86" r="0.9" fill="#c81010"/>
<circle cx="213.38" cy="129.2" r="0.9" fill="#c81010"/>
<circle cx="211.42" cy="127.73" r="0.9" fill="#c81010"/>
<circle cx="212.05" cy="128.63" r="0.83" fill="#c81010"/>
<circle cx="210.42" cy="131.28" r="0.9" fill="#c81010"/>
<circle cx="213.26" cy="135.42" r="0.9" fill="#c81010"/>
<circle cx="211.22" cy="133.27" r="0.9" fill="#c81010"/>
<circle cx="214" cy="130.84" r="0.9" fill="#c81010"/>
<circle cx="218.79" cy="136" r="0.9" fill="#c81010"/>
<circle cx="217.87" cy="135.39" r="0.83" fill="#c81010"/>
<circle cx="230.26" cy="132.97" r="0.9" fill="#c81010"/>
<circle cx="231.08" cy="133.7" r="0.83" fill="#c81010"/>
<circle cx="225.76" cy="126.24" r="0.9" fill="#c81010"/>
<circle cx="226.91" cy="125.26" r="0.9" fill="#c81010"/>
<circle cx="227.94" cy="125.65" r="0.83" fill="#c81010"/>
<circle cx="221.99" cy="122.4" r="0.9" fill="#c81010"/>
<circle cx="230.38" cy="135.33" r="0.9" fill="#c81010"/>
<circle cx="240.74" cy="138.4" r="0.9" fill="#c81010"/>
<circle cx="244.53" cy="137.69" r="0.9" fill="#c81010"/>
<circle cx="243.18" cy="134.19" r="0.9" fill="#c81010"/>
<circle cx="244" cy="133.45" r="0.83" fill="#c81010"/>
<circle cx="246.05" cy="134.79" r="0.9" fill="#c81010"/>
<circle cx="239.97" cy="128.85" r="0.9" fill="#c81010"/>
<circle cx="238.74" cy="126.12" r="0.9" fill="#c81010"/>
<circle cx="144.7" cy="145.48" r="0.9" fill="#c81010"/>
<circle cx="144.35" cy="146.53" r="0.83" fill="#c81010"/>
<circle cx="138.49" cy="145.92" r="0.9" fill="#c81010"/>
<circle cx="139.16" cy="145.05" r="0.83" fill="#c81010"/>
<circle cx="142.23" cy="144.12" r="0.9" fill="#c81010"/>
<circle cx="143.16" cy="144.7" r="0.83" fill="#c81010"/>
<circle cx="135.18" cy="145.89" r="0.9" fill="#c81010"/>
<circle cx="135.64" cy="146.89" r="0.83" fill="#c81010"/>
<circle cx="144.64" cy="148.07" r="0.9" fill="#c81010"/>
<circle cx="136.39" cy="153.95" r="0.9" fill="#c81010"/>
<circle cx="167.32" cy="144.77" r="0.9" fill="#c81010"/>
<circle cx="162.41" cy="152.62" r="0.9" fill="#c81010"/>
<circle cx="160.74" cy="153.93" r="0.9" fill="#c81010"/>
<circle cx="165.67" cy="147.81" r="0.9" fill="#c81010"/>
<circle cx="160.07" cy="145.94" r="0.9" fill="#c81010"/>
<circle cx="154.89" cy="156.42" r="0.9" fill="#c81010"/>
<circle cx="173.04" cy="153.72" r="0.9" fill="#c81010"/>
<circle cx="176.06" cy="148.54" r="0.9" fill="#c81010"/>
<circle cx="176.09" cy="154.33" r="0.9" fill="#c81010"/>
<circle cx="174.99" cy="154.28" r="0.83" fill="#c81010"/>
<circle cx="185.28" cy="151.88" r="0.9" fill="#c81010"/>
<circle cx="184.06" cy="146.07" r="0.9" fill="#c81010"/>
<circle cx="183.79" cy="147.14" r="0.83" fill="#c81010"/>
<circle cx="176.88" cy="147.03" r="0.9" fill="#c81010"/>
<circle cx="196.21" cy="157.54" r="0.9" fill="#c81010"/>
<circle cx="207.2" cy="148.46" r="0.9" fill="#c81010"/>
<circle cx="195.46" cy="145.98" r="0.9" fill="#c81010"/>
<circle cx="194.37" cy="146.13" r="0.83" fill="#c81010"/>
<circle cx="194.61" cy="153.68" r="0.9" fill="#c81010"/>
<circle cx="193.58" cy="154.07" r="0.83" fill="#c81010"/>
<circle cx="192.77" cy="153.81" r="0.9" fill="#c81010"/>
<circle cx="206.08" cy="150.98" r="0.9" fill="#c81010"/>
<circle cx="207.07" cy="151.47" r="0.83" fill="#c81010"/>
<circle cx="225.11" cy="147.65" r="0.9" fill="#c81010"/>
<circle cx="222.04" cy="143.54" r="0.9" fill="#c81010"/>
<circle cx="221.46" cy="142.61" r="0.83" fill="#c81010"/>
<circle cx="217.99" cy="153.54" r="0.9" fill="#c81010"/>
<circle cx="217.99" cy="153.05" r="0.9" fill="#c81010"/>
<circle cx="214.24" cy="144" r="0.9" fill="#c81010"/>
<circle cx="213.45" cy="155.93" r="0.9" fill="#c81010"/>
<circle cx="242.28" cy="155.52" r="0.9" fill="#c81010"/>
<circle cx="236.77" cy="155.19" r="0.9" fill="#c81010"/>
<circle cx="236.85" cy="154.09" r="0.83" fill="#c81010"/>
<circle cx="239.06" cy="145.2" r="0.9" fill="#c81010"/>
<circle cx="238.98" cy="144.1" r="0.83" fill="#c81010"/>
<circle cx="236.96" cy="145.04" r="0.9" fill="#c81010"/>
<circle cx="236.07" cy="144.39" r="0.83" fill="#c81010"/>
<circle cx="244.49" cy="147.48" r="0.9" fill="#c81010"/>
<circle cx="245.56" cy="147.69" r="0.83" fill="#c81010"/>
<circle cx="233.84" cy="145.29" r="0.9" fill="#c81010"/>
<path fill="none" stroke="#2c2c2c" stroke-width="1.1" d="M294.5 83.5L291 84.5M294.5 83.5L293.3 80.5M294.5 83.5L298 83M294.5 83.5L294.7 86.9M301.1 86.3L304.4 86.7M301.1 86.3L301.1 89M301.1 86.3L298.3 86.8M301.1 86.3L301.6 83.1M307.7 89.1L304.6 88.8M307.7 89.1L308.6 85.8M307.7 89.1L310.6 89.1M307.7 89.1L307.6 92.7M314.3 91.9L316.9 91.7M314.3 91.9L314.1 94.9M314.3 91.9L311.2 93.2M314.3 91.9L313.3 88.3M320.9 94.7L323.1 96.3M320.9 94.7L318.5 96.7M320.9 94.7L318.2 92.6M320.9 94.7L322.9 92.7M289.5 96L292.4 95.9M289.5 96L289.2 99.3M289.5 96L285.9 97.1M289.5 96L289 93.1M295.7 98.9L298.1 100.5M295.7 98.9L293.2 100.9M295.7 98.9L292.9 96.6M295.7 98.9L297.8 96.9M301.9 101.8L302.4 99M301.9 101.8L304.6 101.7M301.9 101.8L302.7 105.4M301.9 101.8L298.7 101.2M308.1 104.7L309 107.2M308.1 104.7L305.3 105.6M308.1 104.7L307.6 101.9M308.1 104.7L310.4 103.1M314.3 107.6L311.4 106.8M314.3 107.6L316.3 105M314.3 107.6L316.8 108.5M314.3 107.6L312.4 109.5M331 99.5L327.5 99.5M331 99.5L331.4 95.2M331 99.5L335 99.9M331 99.5L330.7 103.8M320 116.5L316 118M320 116.5L318.5 112.9M320 116.5L323.2 114.1M320 116.5L321.9 120.1M365 126L362.4 126.5M365 126L364.2 123.3M365 126L368.1 125.4M365 126L366.5 128.5M372 127.8L373.6 131M372 127.8L368.8 128.8M372 127.8L370.9 124.9M372 127.8L375.1 126.9M379 129.6L381.3 132.3M379 129.6L376.9 131.5M379 129.6L377.2 127.3M379 129.6L381.4 127.9M386 131.4L388.7 131M386 131.4L385.7 134.6M386 131.4L382.5 131.8M386 131.4L385 128M393 133.2L395.6 135.2M393 133.2L389.7 134.8M393 133.2L391.6 130.7M393 133.2L395.8 131.2M358.5 139.5L358.3 142.9M358.5 139.5L355.1 138.9M358.5 139.5L359.7 137.1M358.5 139.5L361.7 140.2M365.1 141.1L362.4 143.5M365.1 141.1L363.5 138.8M365.1 141.1L368.1 139.2M365.1 141.1L366.8 144.4M371.7 142.7L369 141.6M371.7 142.7L372 139.6M371.7 142.7L375 143.9M371.7 142.7L371.4 146.2M378.3 144.3L376.6 146.4M378.3 144.3L375.9 141.9M378.3 144.3L380.7 142.2M378.3 144.3L380.7 146M384.9 145.9L382.6 143.1M384.9 145.9L388.2 144.4M384.9 145.9L387.4 148.5M384.9 145.9L382.6 148.1M408.5 135.5L404.3 133.7M408.5 135.5L411.2 132.7M408.5 135.5L410.7 138M408.5 135.5L405.5 137.5M399 156.5L402.7 160.1M399 156.5L395.8 160.1M399 156.5L397.2 152.9M399 156.5L402.3 152.9"/>
<path fill="none" stroke="#6a6a6a" stroke-width="0.9" d="M291 84.5L290.6 86.6M291 84.5L288.8 85M291 84.5L289.6 82.7M293.3 80.5L291.4 80.6M293.3 80.5L294.8 79.2M298 83L298.3 80.8M298 83L300.1 82.5M298 83L299.4 84.7M294.7 86.9L296.5 87.5M294.7 86.9L292.9 87.6M304.4 86.7L305.7 84.9M304.4 86.7L306.6 86.8M304.4 86.7L305.4 88.7M301.1 89L303 89.6M301.1 89L299.3 89.7M298.3 86.8L298.1 89M298.3 86.8L296.1 87.3M298.3 86.8L296.9 85.1M301.6 83.1L299.9 82.2M301.6 83.1L303.5 82.8M304.6 88.8L303.6 90.8M304.6 88.8L302.5 88.3M304.6 88.8L304.2 86.7M308.6 85.8L307 84.7M308.6 85.8L310.5 85.6M310.6 89.1L311.3 87M310.6 89.1L312.7 88.7M310.6 89.1L311.3 91.1M307.6 92.7L309.4 93.4M307.6 92.7L305.7 93.3M316.9 91.7L317.4 89.5M316.9 91.7L319.1 91.8M316.9 91.7L318 93.6M314.1 94.9L315.8 95.7M314.1 94.9L312.2 95.5M311.2 93.2L311 95.4M311.2 93.2L309.3 94.2M311.2 93.2L309.4 92M313.3 88.3L311.4 88.2M313.3 88.3L314.9 87.2M323.1 96.3L324.8 94.9M323.1 96.3L324.8 97.7M323.1 96.3L323 98.5M318.5 96.7L319.2 98.6M318.5 96.7L316.8 95.8M318.2 92.6L316.4 93.8M318.2 92.6L316.5 91.1M318.2 92.6L318.4 90.4M322.9 92.7L322.1 90.9M322.9 92.7L324.7 93.5M292.4 95.9L293.6 94M292.4 95.9L294.6 95.7M292.4 95.9L293.5 97.9M289.2 99.3L291 100.1M289.2 99.3L287.3 99.8M285.9 97.1L285.9 99.3M285.9 97.1L283.9 98M285.9 97.1L284.6 95.4M289 93.1L287 92.8M289 93.1L290.6 92.1M298.1 100.5L300 99.5M298.1 100.5L299.9 101.7M298.1 100.5L297.7 102.7M293.2 100.9L293.9 102.7M293.2 100.9L291.6 99.9M292.9 96.6L291.1 97.8M292.9 96.6L291.1 95.4M292.9 96.6L293.8 94.6M297.8 96.9L297 95.1M297.8 96.9L299.5 97.8M302.4 99L300.8 97.5M302.4 99L303 96.9M302.4 99L304.5 98.5M304.6 101.7L305.2 99.9M304.6 101.7L305.3 103.6M302.7 105.4L304.9 105.7M302.7 105.4L303 107.6M302.7 105.4L301.1 106.9M298.7 101.2L297.7 102.9M298.7 101.2L298.4 99.3M309 107.2L311.2 107.2M309 107.2L309.7 109.3M309 107.2L307.3 108.6M305.3 105.6L305.3 107.6M305.3 105.6L304.1 104.1M307.6 101.9L305.4 101.7M307.6 101.9L307.1 99.8M307.6 101.9L309.4 100.6M310.4 103.1L309.9 101.2M310.4 103.1L312 104.2M311.4 106.8L309.8 108.3M311.4 106.8L309.4 105.9M311.4 106.8L311.1 104.6M316.3 105L315.2 103.4M316.3 105L318.1 105.5M316.8 108.5L318.1 106.7M316.8 108.5L318.7 109.6M316.8 108.5L316.8 110.7M312.4 109.5L313.3 111.2M312.4 109.5L310.7 108.6M327.5 99.5L325.9 101.6M327.5 99.5L324.9 99.8M327.5 99.5L326.4 97.1M331.4 95.2L329.3 94.2M331.4 95.2L333.7 94.6M335 99.9L336.6 97.8M335 99.9L337.6 100.5M335 99.9L336 102.3M330.7 103.8L332.8 104.8M330.7 103.8L328.4 104.4M316 118L315.8 120.7M316 118L313.5 118.9M316 118L314 116.3M318.5 112.9L316.2 113M318.5 112.9L320.2 111.3M323.2 114.1L323 111.5M323.2 114.1L325.4 112.8M323.2 114.1L325.4 115.5M321.9 120.1L324.2 119.8M321.9 120.1L320.4 121.8M362.4 126.5L361.6 128.6M362.4 126.5L360.3 127.3M362.4 126.5L361.1 124.7M364.2 123.3L362.2 123.2M364.2 123.3L365.7 122.1M368.1 125.4L368.8 123.3M368.1 125.4L370.3 125.3M368.1 125.4L369.5 127.1M366.5 128.5L368.4 128.1M366.5 128.5L365.3 130M373.6 131L375.9 131.1M373.6 131L374.7 133M373.6 131L372.1 132.6M368.8 128.8L368.7 130.7M368.8 128.8L367.6 127.2M370.9 124.9L368.7 124.5M370.9 124.9L370.4 122.8M370.9 124.9L372.6 123.5M375.1 126.9L375.3 125M375.1 126.9L376.3 128.5M381.3 132.3L383.5 131.9M381.3 132.3L382.7 134M381.3 132.3L380.1 134.1M376.9 131.5L377.7 133.3M376.9 131.5L375.2 130.6M377.2 127.3L375.1 128M377.2 127.3L375.8 125.6M377.2 127.3L378.3 125.4M381.4 127.9L380.8 126M381.4 127.9L383 128.9M388.7 131L389 128.8M388.7 131L390.9 131M388.7 131L390.1 132.7M385.7 134.6L387.5 135.5M385.7 134.6L383.8 135.1M382.5 131.8L382.2 134M382.5 131.8L380.4 132.4M382.5 131.8L381.3 130M385 128L383.1 127.8M385 128L386.6 126.9M395.6 135.2L397.6 134.1M395.6 135.2L397.3 136.6M395.6 135.2L395.1 137.3M389.7 134.8L389.8 136.7M389.7 134.8L388.3 133.4M391.6 130.7L389.4 130.9M391.6 130.7L390.4 128.9M391.6 130.7L392.6 128.7M395.8 131.2L395.3 129.4M395.8 131.2L397.4 132.4M358.3 142.9L360.2 144M358.3 142.9L358.1 145.1M358.3 142.9L356.2 143.5M355.1 138.9L354.1 140.6M355.1 138.9L354.7 137M359.7 137.1L358.5 135.2M359.7 137.1L360.7 135.1M359.7 137.1L361.8 136.8M361.7 140.2L362.8 138.5M361.7 140.2L362 142.1M362.4 143.5L362.9 145.7M362.4 143.5L360.6 144.7M362.4 143.5L360.4 142.7M363.5 138.8L361.6 139.3M363.5 138.8L364.6 137.2M368.1 139.2L367.9 137M368.1 139.2L370 138.1M368.1 139.2L370 140.2M366.8 144.4L368.7 144.2M366.8 144.4L365.5 145.8M369 141.6L367.1 142.8M369 141.6L367 140.5M369 141.6L368.7 139.4M372 139.6L370.3 138.8M372 139.6L373.9 139.1M375 143.9L376.5 142.3M375 143.9L377.1 144.3M375 143.9L374.9 146.1M371.4 146.2L373.1 147M371.4 146.2L369.5 146.7M376.6 146.4L377.8 148.3M376.6 146.4L375.1 148.1M376.6 146.4L374.5 145.7M375.9 141.9L374.2 142.7M375.9 141.9L376.8 140.1M380.7 142.2L380.4 140M380.7 142.2L382.1 140.5M380.7 142.2L382.8 142.9M380.7 146L382.3 145M380.7 146L380.1 147.9M382.6 143.1L380.5 143.6M382.6 143.1L381.1 141.5M382.6 143.1L383.5 141.1M388.2 144.4L388 142.4M388.2 144.4L389.6 145.8M387.4 148.5L389.5 148.1M387.4 148.5L388.9 150.1M387.4 148.5L386.5 150.5M382.6 148.1L383.4 149.9M382.6 148.1L380.8 147.3M404.3 133.7L402.3 135.5M404.3 133.7L401.8 132.7M404.3 133.7L404.6 131M411.2 132.7L410.2 130.6M411.2 132.7L413.4 133.7M410.7 138L413.3 137.2M410.7 138L412.5 140M410.7 138L409.2 140.3M405.5 137.5L406.1 139.8M405.5 137.5L403.6 136.1M402.7 160.1L405.9 159.3M402.7 160.1L405.1 162.3M402.7 160.1L401.9 163.2M395.8 160.1L397.2 162.6M395.8 160.1L393.2 159.1M397.2 152.9L394 152.7M397.2 152.9L395.3 150.3M397.2 152.9L398.9 150.2M402.3 152.9L401 150.3M402.3 152.9L405 153.9"/>
<path fill="none" stroke="#6a3a3a" stroke-width="0.8" d="M293.3 80.5L292.4 78.1M294.7 86.9L294.8 89.5M301.1 89L301.2 91.6M301.6 83.1L302 80.6M308.6 85.8L309.3 83.3M307.6 92.7L307.5 95.3M314.1 94.9L313.9 97.5M313.3 88.3L312.7 85.8M318.5 96.7L316.6 98.4M322.9 92.7L324.8 90.9M289.2 99.3L289 101.9M289 93.1L288.5 90.6M293.2 100.9L291.2 102.5M297.8 96.9L299.7 95.2M304.6 101.7L307.2 101.7M298.7 101.2L296.1 100.7M305.3 105.6L302.9 106.4M310.4 103.1L312.5 101.6M316.3 105L317.8 102.9M312.4 109.5L310.6 111.3M331.4 95.2L331.7 92.1M330.7 103.8L330.5 106.9M318.5 112.9L317.3 110M321.9 120.1L323.4 122.8M364.2 123.3L363.4 120.8M366.5 128.5L367.9 130.7M368.8 128.8L366.3 129.6M375.1 126.9L377.6 126.2M376.9 131.5L375 133.3M381.4 127.9L383.5 126.3M385.7 134.6L385.5 137.2M385 128L384.3 125.5M389.7 134.8L387.3 135.9M395.8 131.2L397.9 129.7M355.1 138.9L352.5 138.5M361.7 140.2L364.3 140.7M363.5 138.8L362 136.6M366.8 144.4L368 146.7M372 139.6L372.3 137M371.4 146.2L371.1 148.8M375.9 141.9L374.1 140M380.7 146L382.8 147.6M388.2 144.4L390.6 143.3M382.6 148.1L380.7 149.9M411.2 132.7L413.5 130.5M405.5 137.5L402.9 139.3M395.8 160.1L393.3 163M402.3 152.9L404.9 150.1"/>
<path fill="none" stroke="#9a9a9a" stroke-width="0.6" d="M292.4 78.1L293.3 76.5M294.8 89.5L293.4 90.7M301.2 91.6L299.7 92.7M302 80.6L303.6 79.7M309.3 83.3L310.9 82.6M307.5 95.3L306 96.3M313.9 97.5L312.4 98.6M312.7 85.8L313.7 84.4M316.6 98.4L314.8 98.1M324.8 90.9L326.6 91.1M289 101.9L287.4 102.9M288.5 90.6L289.7 89.2M291.2 102.5L289.4 102.1M299.7 95.2L301.5 95.4M307.2 101.7L308.4 103.1M296.1 100.7L295.3 99.1M302.9 106.4L301.3 105.4M312.5 101.6L314.3 102.1M317.8 102.9L319.6 102.8M310.6 111.3L308.8 111.1M331.7 92.1L333.6 90.9M330.5 106.9L328.7 108.1M317.3 110L318.4 108.1M323.4 122.8L322.5 124.8M363.4 120.8L364.4 119.3M367.9 130.7L367.2 132.5M366.3 129.6L364.8 128.5M377.6 126.2L379.1 127.3M375 133.3L373.2 133M383.5 126.3L385.2 126.8M385.5 137.2L384 138.2M384.3 125.5L385.4 124M387.3 135.9L385.7 135.1M397.9 129.7L399.7 130.3M352.5 138.5L351.6 136.9M364.3 140.7L365.1 142.3M362 136.6L362.5 134.9M368 146.7L367.3 148.4M372.3 137L373.8 136M371.1 148.8L369.6 149.8M374.1 140L374.4 138.2M382.8 147.6L382.8 149.4M390.6 143.3L392.2 144.1M380.7 149.9L378.9 149.7M413.5 130.5L415.7 130.7M402.9 139.3L400.8 138.7M393.3 163L390.6 162.8M404.9 150.1L407.6 150.2"/>
<g fill="#fafafa" stroke="#555555" stroke-width="0.35"><circle cx="290.6" cy="86.6" r="0.9"/><circle cx="288.8" cy="85" r="0.9"/><circle cx="289.6" cy="82.7" r="0.9"/><circle cx="291.4" cy="80.6" r="0.9"/><circle cx="294.8" cy="79.2" r="0.9"/><circle cx="293.3" cy="76.5" r="0.9"/><circle cx="298.3" cy="80.8" r="0.9"/><circle cx="300.1" cy="82.5" r="0.9"/><circle cx="299.4" cy="84.7" r="0.9"/><circle cx="296.5" cy="87.5" r="0.9"/><circle cx="292.9" cy="87.6" r="0.9"/><circle cx="293.4" cy="90.7" r="0.9"/><circle cx="305.7" cy="84.9" r="0.9"/><circle cx="306.6" cy="86.8" r="0.9"/><circle cx="305.4" cy="88.7" r="0.9"/><circle cx="303" cy="89.6" r="0.9"/><circle cx="299.3" cy="89.7" r="0.9"/><circle cx="299.7" cy="92.7" r="0.9"/><circle cx="298.1" cy="89" r="0.9"/><circle cx="296.1" cy="87.3" r="0.9"/><circle cx="296.9" cy="85.1" r="0.9"/><circle cx="299.9" cy="82.2" r="0.9"/><circle cx="303.5" cy="82.8" r="0.9"/><circle cx="303.6" cy="79.7" r="0.9"/><circle cx="303.6" cy="90.8" r="0.9"/><circle cx="302.5" cy="88.3" r="0.9"/><circle cx="304.2" cy="86.7" r="0.9"/><circle cx="307" cy="84.7" r="0.9"/><circle cx="310.5" cy="85.6" r="0.9"/><circle cx="310.9" cy="82.6" r="0.9"/><circle cx="311.3" cy="87" r="0.9"/><circle cx="312.7" cy="88.7" r="0.9"/><circle cx="311.3" cy="91.1" r="0.9"/><circle cx="309.4" cy="93.4" r="0.9"/><circle cx="305.7" cy="93.3" r="0.9"/><circle cx="306" cy="96.3" r="0.9"/><circle cx="317.4" cy="89.5" r="0.9"/><circle cx="319.1" cy="91.8" r="0.9"/><circle cx="318" cy="93.6" r="0.9"/><circle cx="315.8" cy="95.7" r="0.9"/><circle cx="312.2" cy="95.5" r="0.9"/><circle cx="312.4" cy="98.6" r="0.9"/><circle cx="311" cy="95.4" r="0.9"/><circle cx="309.3" cy="94.2" r="0.9"/><circle cx="309.4" cy="92" r="0.9"/><circle cx="311.4" cy="88.2" r="0.9"/><circle cx="314.9" cy="87.2" r="0.9"/><circle cx="313.7" cy="84.4" r="0.9"/><circle cx="324.8" cy="94.9" r="0.9"/><circle cx="324.8" cy="97.7" r="0.9"/><circle cx="323" cy="98.5" r="0.9"/><circle cx="319.2" cy="98.6" r="0.9"/><circle cx="316.8" cy="95.8" r="0.9"/><circle cx="314.8" cy="98.1" r="0.9"/><circle cx="316.4" cy="93.8" r="0.9"/><circle cx="316.5" cy="91.1" r="0.9"/><circle cx="318.4" cy="90.4" r="0.9"/><circle cx="322.1" cy="90.9" r="0.9"/><circle cx="324.7" cy="93.5" r="0.9"/><circle cx="326.6" cy="91.1" r="0.9"/><circle cx="293.6" cy="94" r="0.9"/><circle cx="294.6" cy="95.7" r="0.9"/><circle cx="293.5" cy="97.9" r="0.9"/><circle cx="291" cy="100.1" r="0.9"/><circle cx="287.3" cy="99.8" r="0.9"/><circle cx="287.4" cy="102.9" r="0.9"/><circle cx="285.9" cy="99.3" r="0.9"/><circle cx="283.9" cy="98" r="0.9"/><circle cx="284.6" cy="95.4" r="0.9"/><circle cx="287" cy="92.8" r="0.9"/><circle cx="290.6" cy="92.1" r="0.9"/><circle cx="289.7" cy="89.2" r="0.9"/><circle cx="300" cy="99.5" r="0.9"/><circle cx="299.9" cy="101.7" r="0.9"/><circle cx="297.7" cy="102.7" r="0.9"/><circle cx="293.9" cy="102.7" r="0.9"/><circle cx="291.6" cy="99.9" r="0.9"/><circle cx="289.4" cy="102.1" r="0.9"/><circle cx="291.1" cy="97.8" r="0.9"/><circle cx="291.1" cy="95.4" r="0.9"/><circle cx="293.8" cy="94.6" r="0.9"/><circle cx="297" cy="95.1" r="0.9"/><circle cx="299.5" cy="97.8" r="0.9"/><circle cx="301.5" cy="95.4" r="0.9"/><circle cx="300.8" cy="97.5" r="0.9"/><circle cx="303" cy="96.9" r="0.9"/><circle cx="304.5" cy="98.5" r="0.9"/><circle cx="305.2" cy="99.9" r="0.9"/><circle cx="305.3" cy="103.6" r="0.9"/><circle cx="308.4" cy="103.1" r="0.9"/><circle cx="304.9" cy="105.7" r="0.9"/><circle cx="303" cy="107.6" r="0.9"/><circle cx="301.1" cy="106.9" r="0.9"/><circle cx="297.7" cy="102.9" r="0.9"/><circle cx="298.4" cy="99.3" r="0.9"/><circle cx="295.3" cy="99.1" r="0.9"/><circle cx="311.2" cy="107.2" r="0.9"/><circle cx="309.7" cy="109.3" r="0.9"/><circle cx="307.3" cy="108.6" r="0.9"/><circle cx="305.3" cy="107.6" r="0.9"/><circle cx="304.1" cy="104.1" r="0.9"/><circle cx="301.3" cy="105.4" r="0.9"/><circle cx="305.4" cy="101.7" r="0.9"/><circle cx="307.1" cy="99.8" r="0.9"/><circle cx="309.4" cy="100.6" r="0.9"/><circle cx="309.9" cy="101.2" r="0.9"/><circle cx="312" cy="104.2" r="0.9"/><circle cx="314.3" cy="102.1" r="0.9"/><circle cx="309.8" cy="108.3" r="0.9"/><circle cx="309.4" cy="105.9" r="0.9"/><circle cx="311.1" cy="104.6" r="0.9"/><circle cx="315.2" cy="103.4" r="0.9"/><circle cx="318.1" cy="105.5" r="0.9"/><circle cx="319.6" cy="102.8" r="0.9"/><circle cx="318.1" cy="106.7" r="0.9"/><circle cx="318.7" cy="109.6" r="0.9"/><circle cx="316.8" cy="110.7" r="0.9"/><circle cx="313.3" cy="111.2" r="0.9"/><circle cx="310.7" cy="108.6" r="0.9"/><circle cx="308.8" cy="111.1" r="0.9"/><circle cx="325.9" cy="101.6" r="0.9"/><circle cx="324.9" cy="99.8" r="0.9"/><circle cx="326.4" cy="97.1" r="0.9"/><circle cx="329.3" cy="94.2" r="0.9"/><circle cx="333.7" cy="94.6" r="0.9"/><circle cx="333.6" cy="90.9" r="0.9"/><circle cx="336.6" cy="97.8" r="0.9"/><circle cx="337.6" cy="100.5" r="0.9"/><circle cx="336" cy="102.3" r="0.9"/><circle cx="332.8" cy="104.8" r="0.9"/><circle cx="328.4" cy="104.4" r="0.9"/><circle cx="328.7" cy="108.1" r="0.9"/><circle cx="315.8" cy="120.7" r="0.9"/><circle cx="313.5" cy="118.9" r="0.9"/><circle cx="314" cy="116.3" r="0.9"/><circle cx="316.2" cy="113" r="0.9"/><circle cx="320.2" cy="111.3" r="0.9"/><circle cx="318.4" cy="108.1" r="0.9"/><circle cx="323" cy="111.5" r="0.9"/><circle cx="325.4" cy="112.8" r="0.9"/><circle cx="325.4" cy="115.5" r="0.9"/><circle cx="324.2" cy="119.8" r="0.9"/><circle cx="320.4" cy="121.8" r="0.9"/><circle cx="322.5" cy="124.8" r="0.9"/><circle cx="361.6" cy="128.6" r="0.9"/><circle cx="360.3" cy="127.3" r="0.9"/><circle cx="361.1" cy="124.7" r="0.9"/><circle cx="362.2" cy="123.2" r="0.9"/><circle cx="365.7" cy="122.1" r="0.9"/><circle cx="364.4" cy="119.3" r="0.9"/><circle cx="368.8" cy="123.3" r="0.9"/><circle cx="370.3" cy="125.3" r="0.9"/><circle cx="369.5" cy="127.1" r="0.9"/><circle cx="368.4" cy="128.1" r="0.9"/><circle cx="365.3" cy="130" r="0.9"/><circle cx="367.2" cy="132.5" r="0.9"/><circle cx="375.9" cy="131.1" r="0.9"/><circle cx="374.7" cy="133" r="0.9"/><circle cx="372.1" cy="132.6" r="0.9"/><circle cx="368.7" cy="130.7" r="0.9"/><circle cx="367.6" cy="127.2" r="0.9"/><circle cx="364.8" cy="128.5" r="0.9"/><circle cx="368.7" cy="124.5" r="0.9"/><circle cx="370.4" cy="122.8" r="0.9"/><circle cx="372.6" cy="123.5" r="0.9"/><circle cx="375.3" cy="125" r="0.9"/><circle cx="376.3" cy="128.5" r="0.9"/><circle cx="379.1" cy="127.3" r="0.9"/><circle cx="383.5" cy="131.9" r="0.9"/><circle cx="382.7" cy="134" r="0.9"/><circle cx="380.1" cy="134.1" r="0.9"/><circle cx="377.7" cy="133.3" r="0.9"/><circle cx="375.2" cy="130.6" r="0.9"/><circle cx="373.2" cy="133" r="0.9"/><circle cx="375.1" cy="128" r="0.9"/><circle cx="375.8" cy="125.6" r="0.9"/><circle cx="378.3" cy="125.4" r="0.9"/><circle cx="380.8" cy="126" r="0.9"/><circle cx="383" cy="128.9" r="0.9"/><circle cx="385.2" cy="126.8" r="0.9"/><circle cx="389" cy="128.8" r="0.9"/><circle cx="390.9" cy="131" r="0.9"/><circle cx="390.1" cy="132.7" r="0.9"/><circle cx="387.5" cy="135.5" r="0.9"/><circle cx="383.8" cy="135.1" r="0.9"/><circle cx="384" cy="138.2" r="0.9"/><circle cx="382.2" cy="134" r="0.9"/><circle cx="380.4" cy="132.4" r="0.9"/><circle cx="381.3" cy="130" r="0.9"/><circle cx="383.1" cy="127.8" r="0.9"/><circle cx="386.6" cy="126.9" r="0.9"/><circle cx="385.4" cy="124" r="0.9"/><circle cx="397.6" cy="134.1" r="0.9"/><circle cx="397.3" cy="136.6" r="0.9"/><circle cx="395.1" cy="137.3" r="0.9"/><circle cx="389.8" cy="136.7" r="0.9"/><circle cx="388.3" cy="133.4" r="0.9"/><circle cx="385.7" cy="135.1" r="0.9"/><circle cx="389.4" cy="130.9" r="0.9"/><circle cx="390.4" cy="128.9" r="0.9"/><circle cx="392.6" cy="128.7" r="0.9"/><circle cx="395.3" cy="129.4" r="0.9"/><circle cx="397.4" cy="132.4" r="0.9"/><circle cx="399.7" cy="130.3" r="0.9"/><circle cx="360.2" cy="144" r="0.9"/><circle cx="358.1" cy="145.1" r="0.9"/><circle cx="356.2" cy="143.5" r="0.9"/><circle cx="354.1" cy="140.6" r="0.9"/><circle cx="354.7" cy="137" r="0.9"/><circle cx="351.6" cy="136.9" r="0.9"/><circle cx="358.5" cy="135.2" r="0.9"/><circle cx="360.7" cy="135.1" r="0.9"/><circle cx="361.8" cy="136.8" r="0.9"/><circle cx="362.8" cy="138.5" r="0.9"/><circle cx="362" cy="142.1" r="0.9"/><circle cx="365.1" cy="142.3" r="0.9"/><circle cx="362.9" cy="145.7" r="0.9"/><circle cx="360.6" cy="144.7" r="0.9"/><circle cx="360.4" cy="142.7" r="0.9"/><circle cx="361.6" cy="139.3" r="0.9"/><circle cx="364.6" cy="137.2" r="0.9"/><circle cx="362.5" cy="134.9" r="0.9"/><circle cx="367.9" cy="137" r="0.9"/><circle cx="370" cy="138.1" r="0.9"/><circle cx="370" cy="140.2" r="0.9"/><circle cx="368.7" cy="144.2" r="0.9"/><circle cx="365.5" cy="145.8" r="0.9"/><circle cx="367.3" cy="148.4" r="0.9"/><circle cx="367.1" cy="142.8" r="0.9"/><circle cx="367" cy="140.5" r="0.9"/><circle cx="368.7" cy="139.4" r="0.9"/><circle cx="370.3" cy="138.8" r="0.9"/><circle cx="373.9" cy="139.1" r="0.9"/><circle cx="373.8" cy="136" r="0.9"/><circle cx="376.5" cy="142.3" r="0.9"/><circle cx="377.1" cy="144.3" r="0.9"/><circle cx="374.9" cy="146.1" r="0.9"/><circle cx="373.1" cy="147" r="0.9"/><circle cx="369.5" cy="146.7" r="0.9"/><circle cx="369.6" cy="149.8" r="0.9"/><circle cx="377.8" cy="148.3" r="0.9"/><circle cx="375.1" cy="148.1" r="0.9"/><circle cx="374.5" cy="145.7" r="0.9"/><circle cx="374.2" cy="142.7" r="0.9"/><circle cx="376.8" cy="140.1" r="0.9"/><circle cx="374.4" cy="138.2" r="0.9"/><circle cx="380.4" cy="140" r="0.9"/><circle cx="382.1" cy="140.5" r="0.9"/><circle cx="382.8" cy="142.9" r="0.9"/><circle cx="382.3" cy="145" r="0.9"/><circle cx="380.1" cy="147.9" r="0.9"/><circle cx="382.8" cy="149.4" r="0.9"/><circle cx="380.5" cy="143.6" r="0.9"/><circle cx="381.1" cy="141.5" r="0.9"/><circle cx="383.5" cy="141.1" r="0.9"/><circle cx="388" cy="142.4" r="0.9"/><circle cx="389.6" cy="145.8" r="0.9"/><circle cx="392.2" cy="144.1" r="0.9"/><circle cx="389.5" cy="148.1" r="0.9"/><circle cx="388.9" cy="150.1" r="0.9"/><circle cx="386.5" cy="150.5" r="0.9"/><circle cx="383.4" cy="149.9" r="0.9"/><circle cx="380.8" cy="147.3" r="0.9"/><circle cx="378.9" cy="149.7" r="0.9"/><circle cx="402.3" cy="135.5" r="0.9"/><circle cx="401.8" cy="132.7" r="0.9"/><circle cx="404.6" cy="131" r="0.9"/><circle cx="410.2" cy="130.6" r="0.9"/><circle cx="413.4" cy="133.7" r="0.9"/><circle cx="415.7" cy="130.7" r="0.9"/><circle cx="413.3" cy="137.2" r="0.9"/><circle cx="412.5" cy="140" r="0.9"/><circle cx="409.2" cy="140.3" r="0.9"/><circle cx="406.1" cy="139.8" r="0.9"/><circle cx="403.6" cy="136.1" r="0.9"/><circle cx="400.8" cy="138.7" r="0.9"/><circle cx="405.9" cy="159.3" r="0.9"/><circle cx="405.1" cy="162.3" r="0.9"/><circle cx="401.9" cy="163.2" r="0.9"/><circle cx="397.2" cy="162.6" r="0.9"/><circle cx="393.2" cy="159.1" r="0.9"/><circle cx="390.6" cy="162.8" r="0.9"/><circle cx="394" cy="152.7" r="0.9"/><circle cx="395.3" cy="150.3" r="0.9"/><circle cx="398.9" cy="150.2" r="0.9"/><circle cx="401" cy="150.3" r="0.9"/><circle cx="405" cy="153.9" r="0.9"/><circle cx="407.6" cy="150.2" r="0.9"/></g>
<g fill="#e01010"><circle cx="292.4" cy="78.1" r="1.05"/><circle cx="294.8" cy="89.5" r="1.05"/><circle cx="301.2" cy="91.6" r="1.05"/><circle cx="309.3" cy="83.3" r="1.05"/><circle cx="313.9" cy="97.5" r="1.05"/><circle cx="316.6" cy="98.4" r="1.05"/><circle cx="289" cy="101.9" r="1.05"/><circle cx="288.5" cy="90.6" r="1.05"/><circle cx="291.2" cy="102.5" r="1.05"/><circle cx="299.7" cy="95.2" r="1.05"/><circle cx="307.2" cy="101.7" r="1.05"/><circle cx="302.9" cy="106.4" r="1.05"/><circle cx="317.8" cy="102.9" r="1.05"/><circle cx="331.7" cy="92.1" r="1.05"/><circle cx="317.3" cy="110" r="1.05"/><circle cx="363.4" cy="120.8" r="1.05"/><circle cx="366.3" cy="129.6" r="1.05"/><circle cx="375" cy="133.3" r="1.05"/><circle cx="385.5" cy="137.2" r="1.05"/><circle cx="384.3" cy="125.5" r="1.05"/><circle cx="387.3" cy="135.9" r="1.05"/><circle cx="397.9" cy="129.7" r="1.05"/><circle cx="352.5" cy="138.5" r="1.05"/><circle cx="362" cy="136.6" r="1.05"/><circle cx="372.3" cy="137" r="1.05"/><circle cx="371.1" cy="148.8" r="1.05"/><circle cx="374.1" cy="140" r="1.05"/><circle cx="390.6" cy="143.3" r="1.05"/><circle cx="413.5" cy="130.5" r="1.05"/><circle cx="393.3" cy="163" r="1.05"/><circle cx="398.6" cy="159.8" r="1.05"/><circle cx="402.6" cy="164.4" r="1.05"/><circle cx="327.4" cy="114.2" r="1.05"/><circle cx="331" cy="105.2" r="1.05"/></g>
<line x1="35.8" y1="155.6" x2="47.6" y2="168.6" stroke="#1a1a1a" stroke-width="0.75" marker-end="url(#ah2)"/>
<line x1="57.8" y1="182.8" x2="54.2" y2="175.2" stroke="#333" stroke-width="1.5"/>
<line x1="57.8" y1="182.8" x2="51.6" y2="183.6" stroke="#333" stroke-width="1.5"/>
<line x1="57.8" y1="182.8" x2="67" y2="183.8" stroke="#333" stroke-width="1.5"/>
<line x1="57.8" y1="182.8" x2="53.8" y2="190.8" stroke="#333" stroke-width="1.5"/>
<line x1="57.8" y1="182.8" x2="57.2" y2="173.8" stroke="#333" stroke-width="1.5"/>
<line x1="54.2" y1="175.2" x2="51.6" y2="183.6" stroke="#333" stroke-width="1.5"/>
<line x1="54.2" y1="175.2" x2="49.8" y2="171.9" stroke="#666" stroke-width="1.2"/>
<line x1="57.2" y1="173.8" x2="59.8" y2="167.9" stroke="#666" stroke-width="1.2"/>
<line x1="57.2" y1="173.8" x2="60.8" y2="174.3" stroke="#666" stroke-width="1.2"/>
<line x1="51.6" y1="183.6" x2="44.8" y2="180.6" stroke="#666" stroke-width="1.2"/>
<line x1="51.6" y1="183.6" x2="47.1" y2="189.2" stroke="#666" stroke-width="1.2"/>
<line x1="67" y1="183.8" x2="70" y2="179" stroke="#666" stroke-width="1.2"/>
<line x1="67" y1="183.8" x2="72" y2="184.8" stroke="#666" stroke-width="1.2"/>
<line x1="53.8" y1="190.8" x2="53.5" y2="197.3" stroke="#666" stroke-width="1.2"/>
<line x1="53.8" y1="190.8" x2="59.2" y2="191.8" stroke="#8a3030" stroke-width="1.2"/>
<line x1="67" y1="183.8" x2="68.4" y2="193.2" stroke="#8a3030" stroke-width="1.2"/>
<line x1="59.2" y1="191.8" x2="63.6" y2="196.4" stroke="#777" stroke-width="1.2"/>
<circle cx="57.8" cy="182.8" r="1.5" fill="url(#gC)"/>
<circle cx="54.2" cy="175.2" r="1.5" fill="url(#gC)"/>
<circle cx="51.6" cy="183.6" r="1.5" fill="url(#gC)"/>
<circle cx="67" cy="183.8" r="1.5" fill="url(#gC)"/>
<circle cx="53.8" cy="190.8" r="1.5" fill="url(#gC)"/>
<circle cx="57.2" cy="173.8" r="1.5" fill="url(#gC)"/>
<circle cx="49.8" cy="171.9" r="1.85" fill="url(#gH)"/>
<circle cx="59.8" cy="167.9" r="1.85" fill="url(#gH)"/>
<circle cx="60.8" cy="174.3" r="1.85" fill="url(#gH)"/>
<circle cx="44.8" cy="180.6" r="1.85" fill="url(#gH)"/>
<circle cx="47.1" cy="189.2" r="1.85" fill="url(#gH)"/>
<circle cx="70" cy="179" r="1.85" fill="url(#gH)"/>
<circle cx="72" cy="184.8" r="1.85" fill="url(#gH)"/>
<circle cx="53.5" cy="197.3" r="1.85" fill="url(#gH)"/>
<circle cx="63.6" cy="196.4" r="1.85" fill="url(#gH)"/>
<circle cx="59.2" cy="191.8" r="1.9" fill="url(#gO)"/>
<circle cx="68.4" cy="193.2" r="1.9" fill="url(#gO)"/>
<line x1="75" y1="192.7" x2="86.5" y2="188.6" stroke="#000" stroke-width="0.6" marker-end="url(#ah)"/>
<line x1="91.9" y1="184.8" x2="105.7" y2="190.8" stroke="#a04040" stroke-width="1.3"/>
<circle cx="91.9" cy="184.8" r="3.6" fill="url(#gO)"/>
<circle cx="105.9" cy="191.1" r="3.65" fill="url(#gH)"/>
<line x1="114.5" y1="174.8" x2="142" y2="174.8" stroke="#000" stroke-width="0.9" marker-end="url(#ah)"/>
<circle cx="140.1" cy="194.3" r="3.3" fill="url(#gC)"/>
<circle cx="161.6" cy="194.2" r="3.0" fill="url(#gH2)" stroke="#3a3a3a" stroke-width="0.7"/>
<circle cx="183.1" cy="194.1" r="3.3" fill="url(#gO2)"/>
<line x1="124.7" y1="170.4" x2="124.7" y2="165.6" stroke="#f07070" stroke-width="0.9"/>
<path d="M123.6,166.6 L124.7,164.6 L125.8,166.6 Z" fill="#f07070"/>
<rect x="280.5" y="49.6" width="162" height="130.8" fill="none" stroke="#333" stroke-width="1.1"/>
<line x1="294" y1="180.4" x2="294" y2="178.8" stroke="#222" stroke-width="0.8"/>
<line x1="294" y1="49.6" x2="294" y2="51.2" stroke="#222" stroke-width="0.8"/>
<line x1="307.5" y1="180.4" x2="307.5" y2="177.6" stroke="#222" stroke-width="0.8"/>
<line x1="307.5" y1="49.6" x2="307.5" y2="52.4" stroke="#222" stroke-width="0.8"/>
<line x1="321" y1="180.4" x2="321" y2="178.8" stroke="#222" stroke-width="0.8"/>
<line x1="321" y1="49.6" x2="321" y2="51.2" stroke="#222" stroke-width="0.8"/>
<line x1="334.5" y1="180.4" x2="334.5" y2="177.6" stroke="#222" stroke-width="0.8"/>
<line x1="334.5" y1="49.6" x2="334.5" y2="52.4" stroke="#222" stroke-width="0.8"/>
<line x1="348" y1="180.4" x2="348" y2="178.8" stroke="#222" stroke-width="0.8"/>
<line x1="348" y1="49.6" x2="348" y2="51.2" stroke="#222" stroke-width="0.8"/>
<line x1="361.5" y1="180.4" x2="361.5" y2="177.6" stroke="#222" stroke-width="0.8"/>
<line x1="361.5" y1="49.6" x2="361.5" y2="52.4" stroke="#222" stroke-width="0.8"/>
<line x1="375" y1="180.4" x2="375" y2="178.8" stroke="#222" stroke-width="0.8"/>
<line x1="375" y1="49.6" x2="375" y2="51.2" stroke="#222" stroke-width="0.8"/>
<line x1="388.5" y1="180.4" x2="388.5" y2="177.6" stroke="#222" stroke-width="0.8"/>
<line x1="388.5" y1="49.6" x2="388.5" y2="52.4" stroke="#222" stroke-width="0.8"/>
<line x1="402" y1="180.4" x2="402" y2="178.8" stroke="#222" stroke-width="0.8"/>
<line x1="402" y1="49.6" x2="402" y2="51.2" stroke="#222" stroke-width="0.8"/>
<line x1="415.5" y1="180.4" x2="415.5" y2="177.6" stroke="#222" stroke-width="0.8"/>
<line x1="415.5" y1="49.6" x2="415.5" y2="52.4" stroke="#222" stroke-width="0.8"/>
<line x1="429" y1="180.4" x2="429" y2="178.8" stroke="#222" stroke-width="0.8"/>
<line x1="429" y1="49.6" x2="429" y2="51.2" stroke="#222" stroke-width="0.8"/>
<line x1="280.5" y1="167" x2="283.3" y2="167" stroke="#222" stroke-width="0.8"/>
<line x1="442.5" y1="167" x2="439.7" y2="167" stroke="#222" stroke-width="0.8"/>
<line x1="280.5" y1="153.95" x2="282.1" y2="153.95" stroke="#222" stroke-width="0.8"/>
<line x1="442.5" y1="153.95" x2="440.9" y2="153.95" stroke="#222" stroke-width="0.8"/>
<line x1="280.5" y1="140.9" x2="283.3" y2="140.9" stroke="#222" stroke-width="0.8"/>
<line x1="442.5" y1="140.9" x2="439.7" y2="140.9" stroke="#222" stroke-width="0.8"/>
<line x1="280.5" y1="127.85" x2="282.1" y2="127.85" stroke="#222" stroke-width="0.8"/>
<line x1="442.5" y1="127.85" x2="440.9" y2="127.85" stroke="#222" stroke-width="0.8"/>
<line x1="280.5" y1="114.8" x2="283.3" y2="114.8" stroke="#222" stroke-width="0.8"/>
<line x1="442.5" y1="114.8" x2="439.7" y2="114.8" stroke="#222" stroke-width="0.8"/>
<line x1="280.5" y1="101.75" x2="282.1" y2="101.75" stroke="#222" stroke-width="0.8"/>
<line x1="442.5" y1="101.75" x2="440.9" y2="101.75" stroke="#222" stroke-width="0.8"/>
<line x1="280.5" y1="88.7" x2="283.3" y2="88.7" stroke="#222" stroke-width="0.8"/>
<line x1="442.5" y1="88.7" x2="439.7" y2="88.7" stroke="#222" stroke-width="0.8"/>
<line x1="280.5" y1="75.65" x2="282.1" y2="75.65" stroke="#222" stroke-width="0.8"/>
<line x1="442.5" y1="75.65" x2="440.9" y2="75.65" stroke="#222" stroke-width="0.8"/>
<line x1="280.5" y1="62.6" x2="283.3" y2="62.6" stroke="#222" stroke-width="0.8"/>
<line x1="442.5" y1="62.6" x2="439.7" y2="62.6" stroke="#222" stroke-width="0.8"/>
<line x1="280.5" y1="49.55" x2="282.1" y2="49.55" stroke="#222" stroke-width="0.8"/>
<line x1="442.5" y1="49.55" x2="440.9" y2="49.55" stroke="#222" stroke-width="0.8"/>
<rect x="339.6" y="52.3" width="63.8" height="17.2" fill="#fff" stroke="#c8c8c8" stroke-width="0.6"/>
<path d="M347.6,54.89 L349.9,58.57 L345.3,58.57 Z" fill="#2aa0ea"/>
<path d="M347.6,67.82 L349.5,64.78 L345.7,64.78 Z" fill="#e8141e"/>
<line x1="290.2" y1="168.6" x2="416.8" y2="62.6" stroke="#000" stroke-width="1.1"/>
<line x1="285.9" y1="167.2" x2="296.7" y2="167.2" stroke="#48b6f4" stroke-width="1.3"/>
<line x1="285.9" y1="166" x2="285.9" y2="168.4" stroke="#48b6f4" stroke-width="0.8"/>
<line x1="296.7" y1="166" x2="296.7" y2="168.4" stroke="#48b6f4" stroke-width="0.8"/>
<path d="M291.3,165.09 L293.5,168.61 L289.1,168.61 Z" fill="#1ea8f4"/>
<line x1="301.9" y1="153.8" x2="312.7" y2="153.8" stroke="#48b6f4" stroke-width="1.3"/>
<line x1="301.9" y1="152.6" x2="301.9" y2="155" stroke="#48b6f4" stroke-width="0.8"/>
<line x1="312.7" y1="152.6" x2="312.7" y2="155" stroke="#48b6f4" stroke-width="0.8"/>
<path d="M307.3,151.69 L309.5,155.21 L305.1,155.21 Z" fill="#1ea8f4"/>
<line x1="320.7" y1="141.2" x2="331.5" y2="141.2" stroke="#48b6f4" stroke-width="1.3"/>
<line x1="320.7" y1="140" x2="320.7" y2="142.4" stroke="#48b6f4" stroke-width="0.8"/>
<line x1="331.5" y1="140" x2="331.5" y2="142.4" stroke="#48b6f4" stroke-width="0.8"/>
<path d="M326.1,139.09 L328.3,142.61 L323.9,142.61 Z" fill="#1ea8f4"/>
<line x1="333.8" y1="128" x2="344.6" y2="128" stroke="#48b6f4" stroke-width="1.3"/>
<line x1="333.8" y1="126.8" x2="333.8" y2="129.2" stroke="#48b6f4" stroke-width="0.8"/>
<line x1="344.6" y1="126.8" x2="344.6" y2="129.2" stroke="#48b6f4" stroke-width="0.8"/>
<path d="M339.2,125.89 L341.4,129.41 L337,129.41 Z" fill="#1ea8f4"/>
<line x1="347.6" y1="114.9" x2="358.4" y2="114.9" stroke="#48b6f4" stroke-width="1.3"/>
<line x1="347.6" y1="113.7" x2="347.6" y2="116.1" stroke="#48b6f4" stroke-width="0.8"/>
<line x1="358.4" y1="113.7" x2="358.4" y2="116.1" stroke="#48b6f4" stroke-width="0.8"/>
<path d="M353,112.79 L355.2,116.31 L350.8,116.31 Z" fill="#1ea8f4"/>
<line x1="363.8" y1="101.6" x2="374.6" y2="101.6" stroke="#48b6f4" stroke-width="1.3"/>
<line x1="363.8" y1="100.4" x2="363.8" y2="102.8" stroke="#48b6f4" stroke-width="0.8"/>
<line x1="374.6" y1="100.4" x2="374.6" y2="102.8" stroke="#48b6f4" stroke-width="0.8"/>
<path d="M369.2,99.49 L371.4,103.01 L367,103.01 Z" fill="#1ea8f4"/>
<line x1="377.2" y1="88.9" x2="388" y2="88.9" stroke="#48b6f4" stroke-width="1.3"/>
<line x1="377.2" y1="87.7" x2="377.2" y2="90.1" stroke="#48b6f4" stroke-width="0.8"/>
<line x1="388" y1="87.7" x2="388" y2="90.1" stroke="#48b6f4" stroke-width="0.8"/>
<path d="M382.6,86.79 L384.8,90.31 L380.4,90.31 Z" fill="#1ea8f4"/>
<line x1="394" y1="75.8" x2="404.8" y2="75.8" stroke="#48b6f4" stroke-width="1.3"/>
<line x1="394" y1="74.6" x2="394" y2="77" stroke="#48b6f4" stroke-width="0.8"/>
<line x1="404.8" y1="74.6" x2="404.8" y2="77" stroke="#48b6f4" stroke-width="0.8"/>
<path d="M399.4,73.69 L401.6,77.21 L397.2,77.21 Z" fill="#1ea8f4"/>
<line x1="410.6" y1="62.4" x2="421.4" y2="62.4" stroke="#48b6f4" stroke-width="1.3"/>
<line x1="410.6" y1="61.2" x2="410.6" y2="63.6" stroke="#48b6f4" stroke-width="0.8"/>
<line x1="421.4" y1="61.2" x2="421.4" y2="63.6" stroke="#48b6f4" stroke-width="0.8"/>
<path d="M416,60.29 L418.2,63.81 L413.8,63.81 Z" fill="#1ea8f4"/>
<path d="M291.3,169.52 L293.3,166.32 L289.3,166.32 Z" fill="#e8141e"/>
<path d="M317.7,156.02 L319.7,152.82 L315.7,152.82 Z" fill="#e8141e"/>
<path d="M334.6,143.52 L336.6,140.32 L332.6,140.32 Z" fill="#e8141e"/>
<path d="M345.3,130.22 L347.3,127.02 L343.3,127.02 Z" fill="#e8141e"/>
<path d="M361.7,117.22 L363.7,114.02 L359.7,114.02 Z" fill="#e8141e"/>
<path d="M372.4,104.12 L374.4,100.92 L370.4,100.92 Z" fill="#e8141e"/>
<path d="M379.9,90.82 L381.9,87.62 L377.9,87.62 Z" fill="#e8141e"/>
<path d="M393.8,77.32 L395.8,74.12 L391.8,74.12 Z" fill="#e8141e"/>
<path d="M421.2,65.42 L423.2,62.22 L419.2,62.22 Z" fill="#e8141e"/>
<text x="60.5" y="203.3" font-size="4.6" text-anchor="middle" font-weight="normal" font-style="normal" fill="#333" stroke="#333" stroke-width="0.15">NPG</text>
<text x="94.2" y="203.6" font-size="4.6" text-anchor="middle" font-weight="normal" font-style="normal" fill="#333" stroke="#333" stroke-width="0.15">-OH</text>
<text x="75.2" y="176.7" font-size="6.1" text-anchor="start" font-weight="normal" font-style="normal" fill="#222" stroke="#222" stroke-width="0.12">&#945;-phase <tspan font-style="italic">(order)</tspan></text>
<text x="144.7" y="176.7" font-size="6.05" text-anchor="start" font-weight="normal" font-style="normal" fill="#222" stroke="#222" stroke-width="0.12">&#946;-phase <tspan font-style="italic">(disorder)</tspan></text>
<text x="129.3" y="170.4" font-size="6.8" text-anchor="middle" font-weight="normal" font-style="normal" fill="#e02828" >T</text>
<text x="123.4" y="189.1" font-size="7.7" text-anchor="middle" font-weight="normal" font-style="normal" fill="#1a1a1a" stroke="#1a1a1a" stroke-width="0.15">(a)</text>
<text x="140.2" y="203.3" font-size="4.8" text-anchor="middle" font-weight="normal" font-style="normal" fill="#222" stroke="#222" stroke-width="0.2">C</text>
<text x="161.7" y="203.3" font-size="4.8" text-anchor="middle" font-weight="normal" font-style="normal" fill="#222" stroke="#222" stroke-width="0.2">H</text>
<text x="182.9" y="203.3" font-size="4.8" text-anchor="middle" font-weight="normal" font-style="normal" fill="#222" stroke="#222" stroke-width="0.2">O</text>
<text transform="translate(280.5 188.7) scale(0.88 1)" font-size="7.6" text-anchor="middle" font-weight="bold" font-style="normal" fill="#111" stroke="#111" stroke-width="0.25">310</text>
<text transform="translate(307.5 188.7) scale(0.88 1)" font-size="7.6" text-anchor="middle" font-weight="bold" font-style="normal" fill="#111" stroke="#111" stroke-width="0.25">320</text>
<text transform="translate(334.5 188.7) scale(0.88 1)" font-size="7.6" text-anchor="middle" font-weight="bold" font-style="normal" fill="#111" stroke="#111" stroke-width="0.25">330</text>
<text transform="translate(361.5 188.7) scale(0.88 1)" font-size="7.6" text-anchor="middle" font-weight="bold" font-style="normal" fill="#111" stroke="#111" stroke-width="0.25">340</text>
<text transform="translate(388.5 188.7) scale(0.88 1)" font-size="7.6" text-anchor="middle" font-weight="bold" font-style="normal" fill="#111" stroke="#111" stroke-width="0.25">350</text>
<text transform="translate(415.5 188.7) scale(0.88 1)" font-size="7.6" text-anchor="middle" font-weight="bold" font-style="normal" fill="#111" stroke="#111" stroke-width="0.25">360</text>
<text transform="translate(442.5 188.7) scale(0.88 1)" font-size="7.6" text-anchor="middle" font-weight="bold" font-style="normal" fill="#111" stroke="#111" stroke-width="0.25">370</text>
<text transform="translate(277.3 169.9) scale(0.9 1)" font-size="7.2" text-anchor="end" font-weight="bold" font-style="normal" fill="#111" stroke="#111" stroke-width="0.25">0.0</text>
<text transform="translate(277.3 143.8) scale(0.9 1)" font-size="7.2" text-anchor="end" font-weight="bold" font-style="normal" fill="#111" stroke="#111" stroke-width="0.25">0.1</text>
<text transform="translate(277.3 117.7) scale(0.9 1)" font-size="7.2" text-anchor="end" font-weight="bold" font-style="normal" fill="#111" stroke="#111" stroke-width="0.25">0.2</text>
<text transform="translate(277.3 91.6) scale(0.9 1)" font-size="7.2" text-anchor="end" font-weight="bold" font-style="normal" fill="#111" stroke="#111" stroke-width="0.25">0.3</text>
<text transform="translate(277.3 65.5) scale(0.9 1)" font-size="7.2" text-anchor="end" font-weight="bold" font-style="normal" fill="#111" stroke="#111" stroke-width="0.25">0.4</text>
<text x="344" y="200.2" font-size="7.6" text-anchor="middle" font-weight="normal" font-style="normal" fill="#222" stroke="#222" stroke-width="0.12">(b)</text>
<text transform="translate(354.8 200.4) scale(0.88 1)" font-size="7.6" text-anchor="start" font-weight="bold" font-style="normal" fill="#111" stroke="#111" stroke-width="0.2"><tspan font-style="italic">T</tspan>(K)</text>
<text transform="translate(267.2,114.5) rotate(-90)" font-size="7" text-anchor="middle" font-weight="bold" fill="#111" stroke="#111" stroke-width="0.2"><tspan font-style="italic">P</tspan>(GPa)</text>
<text transform="translate(355.8 59.4) scale(0.88 1)" font-size="5.3" text-anchor="start" font-weight="bold" font-style="normal" fill="#111" stroke="#111" stroke-width="0.15">This work</text>
<text transform="translate(355.8 68.1) scale(0.91 1)" font-size="5.3" text-anchor="start" font-weight="bold" font-style="normal" fill="#111" stroke="#111" stroke-width="0.15">experimental data [15]</text>
<text x="313.8" y="78.1" font-size="7.4" text-anchor="middle" font-weight="bold" font-style="italic" fill="#1a1a1a" >&#945;</text>
<text x="399.8" y="121.7" font-size="7.8" text-anchor="middle" font-weight="bold" font-style="italic" fill="#1a1a1a" >&#946;</text>
<text x="304.9" y="134.4" font-size="6.2" text-anchor="middle" font-weight="normal" font-style="italic" fill="#222" stroke="#222" stroke-width="0.12">(ordered)</text>
<text x="373" y="164.2" font-size="6.1" text-anchor="middle" font-weight="normal" font-style="italic" fill="#222" stroke="#222" stroke-width="0.12">(disordered)</text></svg>
</body></html>
